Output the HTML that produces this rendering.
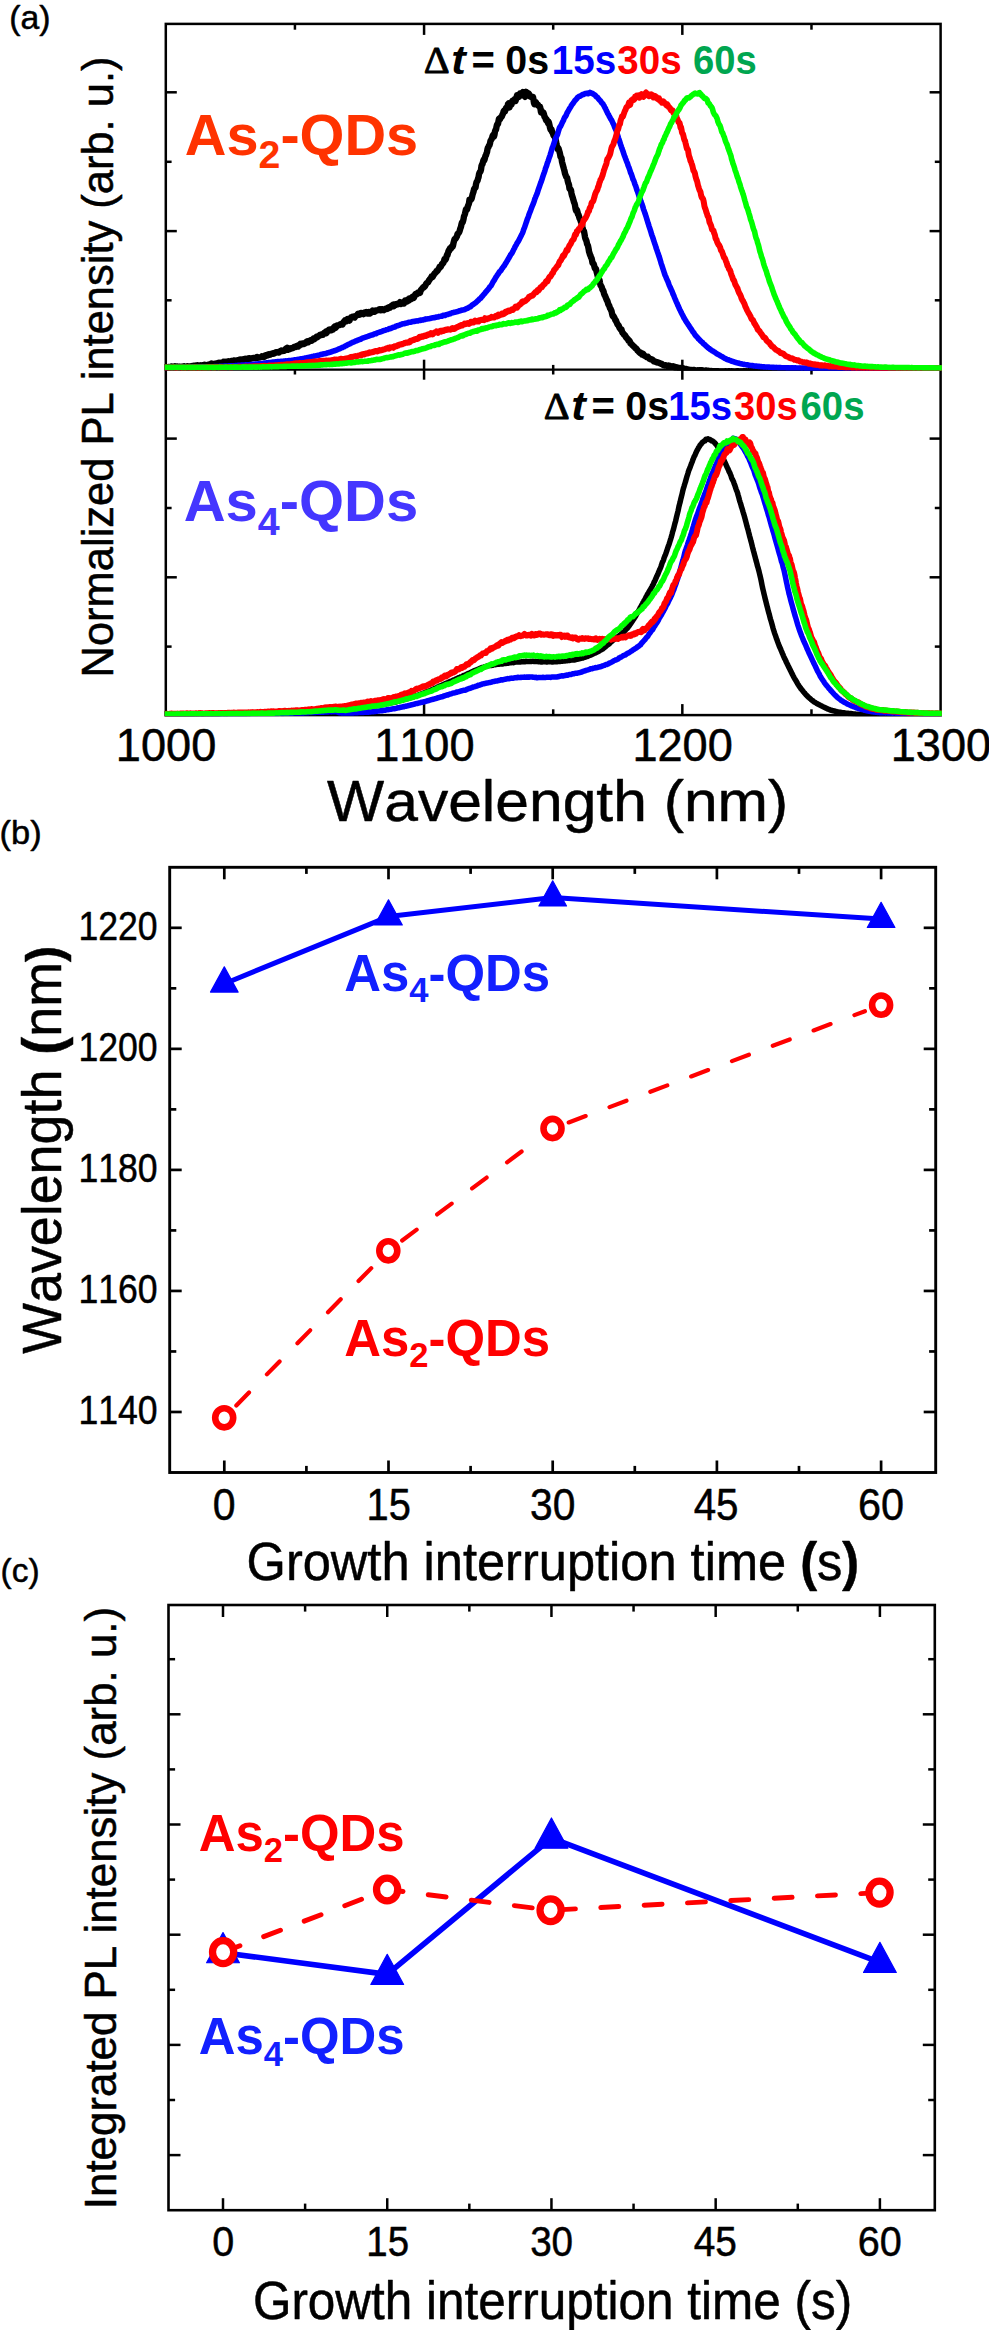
<!DOCTYPE html>
<html lang="en"><head><meta charset="utf-8"><title>PL spectra of As2- and As4-QDs</title>
<style>
html,body{margin:0;padding:0;background:#fff}
svg{display:block}
text{font-kerning:none;white-space:pre}
.r{font-family:'Liberation Sans',sans-serif;font-weight:400;font-style:normal}.b{font-family:'Liberation Sans',sans-serif;font-weight:700;font-style:normal}.bi{font-family:'Liberation Sans',sans-serif;font-weight:700;font-style:italic}.sr{font-family:'Liberation Serif',serif;font-weight:400;font-style:normal}.sb{font-family:'Liberation Serif',serif;font-weight:700;font-style:normal}
</style></head>
<body>
<svg width="989" height="2330" viewBox="0 0 989 2330">
<defs><clipPath id="ca"><rect x="164.55" y="22.65" width="777.30" height="348.15"/></clipPath><clipPath id="cb"><rect x="164.55" y="368.60" width="777.30" height="347.75"/></clipPath></defs>
<rect width="989" height="2330" fill="#fff"/>
<g id="pa">
<rect x="165.8" y="23.9" width="774.80" height="691.20" fill="none" stroke="#000" stroke-width="2.5"/>
<line x1="165.80" y1="369.70" x2="940.60" y2="369.70" stroke="#000" stroke-width="2.2" />
<line x1="294.93" y1="23.90" x2="294.93" y2="29.70" stroke="#000" stroke-width="2.5" />
<line x1="294.93" y1="364.90" x2="294.93" y2="374.50" stroke="#000" stroke-width="2.5" />
<line x1="294.93" y1="715.10" x2="294.93" y2="709.30" stroke="#000" stroke-width="2.5" />
<line x1="424.07" y1="23.90" x2="424.07" y2="34.90" stroke="#000" stroke-width="2.5" />
<line x1="424.07" y1="359.70" x2="424.07" y2="379.70" stroke="#000" stroke-width="2.5" />
<line x1="424.07" y1="715.10" x2="424.07" y2="704.10" stroke="#000" stroke-width="2.5" />
<line x1="553.20" y1="23.90" x2="553.20" y2="29.70" stroke="#000" stroke-width="2.5" />
<line x1="553.20" y1="364.90" x2="553.20" y2="374.50" stroke="#000" stroke-width="2.5" />
<line x1="553.20" y1="715.10" x2="553.20" y2="709.30" stroke="#000" stroke-width="2.5" />
<line x1="682.33" y1="23.90" x2="682.33" y2="34.90" stroke="#000" stroke-width="2.5" />
<line x1="682.33" y1="359.70" x2="682.33" y2="379.70" stroke="#000" stroke-width="2.5" />
<line x1="682.33" y1="715.10" x2="682.33" y2="704.10" stroke="#000" stroke-width="2.5" />
<line x1="811.47" y1="23.90" x2="811.47" y2="29.70" stroke="#000" stroke-width="2.5" />
<line x1="811.47" y1="364.90" x2="811.47" y2="374.50" stroke="#000" stroke-width="2.5" />
<line x1="811.47" y1="715.10" x2="811.47" y2="709.30" stroke="#000" stroke-width="2.5" />
<line x1="165.80" y1="300.30" x2="171.60" y2="300.30" stroke="#000" stroke-width="2.5" />
<line x1="940.60" y1="300.30" x2="934.80" y2="300.30" stroke="#000" stroke-width="2.5" />
<line x1="165.80" y1="231.10" x2="176.80" y2="231.10" stroke="#000" stroke-width="2.5" />
<line x1="940.60" y1="231.10" x2="929.60" y2="231.10" stroke="#000" stroke-width="2.5" />
<line x1="165.80" y1="161.80" x2="171.60" y2="161.80" stroke="#000" stroke-width="2.5" />
<line x1="940.60" y1="161.80" x2="934.80" y2="161.80" stroke="#000" stroke-width="2.5" />
<line x1="165.80" y1="92.30" x2="176.80" y2="92.30" stroke="#000" stroke-width="2.5" />
<line x1="940.60" y1="92.30" x2="929.60" y2="92.30" stroke="#000" stroke-width="2.5" />
<line x1="165.80" y1="646.60" x2="171.60" y2="646.60" stroke="#000" stroke-width="2.5" />
<line x1="940.60" y1="646.60" x2="934.80" y2="646.60" stroke="#000" stroke-width="2.5" />
<line x1="165.80" y1="577.30" x2="176.80" y2="577.30" stroke="#000" stroke-width="2.5" />
<line x1="940.60" y1="577.30" x2="929.60" y2="577.30" stroke="#000" stroke-width="2.5" />
<line x1="165.80" y1="508.00" x2="171.60" y2="508.00" stroke="#000" stroke-width="2.5" />
<line x1="940.60" y1="508.00" x2="934.80" y2="508.00" stroke="#000" stroke-width="2.5" />
<line x1="165.80" y1="438.60" x2="176.80" y2="438.60" stroke="#000" stroke-width="2.5" />
<line x1="940.60" y1="438.60" x2="929.60" y2="438.60" stroke="#000" stroke-width="2.5" />
</g>
<g clip-path="url(#ca)">
<path d="M162 367.4 162.5 367.4 163 367.3 163.5 367.1 164 367.1 164.5 367.1 165 367.4 165.5 367.6 166 367.3 166.5 367.2 167 367.4 167.5 367.4 168 367.2 168.5 367.0 169 367.2 169.5 367.3 170 366.9 170.5 366.8 171 366.6 171.5 366.5 172 366.6 172.5 366.8 173 366.8 173.5 367.1 174 367.1 174.5 366.8 175 366.3 175.5 366.7 176 366.9 176.5 366.9 177 366.5 177.5 366.6 178 366.6 178.5 366.7 179 367.0 179.5 366.7 180 366.8 180.5 367.0 181 366.7 181.5 366.7 182 366.8 182.5 366.6 183 366.4 183.5 366.7 184 366.9 184.5 366.4 185 366.7 185.5 366.6 186 366.6 186.5 367.0 187 366.8 187.5 366.2 188 366.4 188.5 366.5 189 366.4 189.5 366.5 190 366.4 190.5 366.6 191 366.6 191.5 366.2 192 366.1 192.5 366.0 193 366.0 193.5 365.7 194 365.7 194.5 366.0 195 366.3 195.5 366.2 196 365.5 196.5 365.5 197 365.7 197.5 365.2 198 365.4 198.5 365.7 199 366.0 199.5 365.8 200 365.4 200.5 365.3 201 365.4 201.5 365.7 202 365.3 202.5 365.2 203 365.3 203.5 365.1 204 364.9 204.5 364.7 205 364.9 205.5 364.9 206 365.2 206.5 365.1 207 364.9 207.5 364.9 208 364.7 208.5 364.9 209 364.7 209.5 364.5 210 364.1 210.5 364.2 211 363.6 211.5 363.4 212 363.8 212.5 363.8 213 364.2 213.5 364.5 214 363.8 214.5 363.6 215 363.8 215.5 363.8 216 363.6 216.5 363.5 217 363.7 217.5 363.5 218 363.0 218.5 363.1 219 363.1 219.5 362.8 220 362.9 220.5 362.8 221 363.1 221.5 363.0 222 362.7 222.5 362.4 223 362.3 223.5 361.7 224 361.9 224.5 362.1 225 361.7 225.5 362.0 226 361.7 226.5 362.0 227 361.8 227.5 362.0 228 361.7 228.5 361.4 229 362.0 229.5 362.1 230 361.6 230.5 361.3 231 361.1 231.5 361.0 232 361.4 232.5 361.0 233 360.9 233.5 360.6 234 360.5 234.5 360.5 235 361.0 235.5 360.9 236 360.9 236.5 360.6 237 360.2 237.5 360.2 238 360.1 238.5 360.2 239 360.0 239.5 359.8 240 359.5 240.5 359.7 241 360.3 241.5 359.7 242 359.4 242.5 359.8 243 360.0 243.5 359.2 244 359.2 244.5 359.0 245 358.7 245.5 359.3 246 359.3 246.5 359.0 247 358.8 247.5 359.0 248 358.7 248.5 358.6 249 358.2 249.5 358.3 250 358.9 250.5 358.5 251 358.5 251.5 358.3 252 358.1 252.5 358.1 253 358.3 253.5 358.0 254 357.9 254.5 358.0 255 358.3 255.5 358.1 256 357.8 256.5 357.2 257 357.0 257.5 357.7 258 357.7 258.5 357.3 259 357.4 259.5 357.5 260 357.4 260.5 357.2 261 356.9 261.5 357.0 262 356.4 262.5 356.7 263 356.7 263.5 356.8 264 357.1 264.5 356.7 265 355.5 265.5 355.2 266 355.7 266.5 355.3 267 355.5 267.5 355.5 268 354.5 268.5 354.2 269 354.8 269.5 354.9 270 354.7 270.5 354.5 271 353.9 271.5 353.6 272 353.8 272.5 353.4 273 353.2 273.5 353.7 274 353.6 274.5 353.4 275 352.8 275.5 352.5 276 352.3 276.5 352.3 277 352.4 277.5 352.2 278 352.3 278.5 352.5 279 352.6 279.5 351.6 280 351.8 280.5 351.5 281 351.1 281.5 350.5 282 350.7 282.5 351.1 283 350.8 283.5 350.6 284 350.5 284.5 350.7 285 350.0 285.5 349.0 286 349.0 286.5 348.3 287 347.9 287.5 348.9 288 349.7 288.5 349.1 289 348.3 289.5 348.4 290 349.0 290.5 348.7 291 348.4 291.5 348.2 292 348.1 292.5 348.3 293 348.0 293.5 347.5 294 347.0 294.5 347.1 295 346.9 295.5 347.0 296 346.2 296.5 346.2 297 346.0 297.5 345.7 298 346.6 298.5 346.5 299 345.6 299.5 345.6 300 344.9 300.5 343.8 301 344.4 301.5 344.5 302 344.1 302.5 343.5 303 343.5 303.5 343.7 304 343.9 304.5 343.5 305 343.2 305.5 343.3 306 342.4 306.5 341.7 307 341.4 307.5 342.4 308 342.4 308.5 342.0 309 341.6 309.5 341.1 310 340.7 310.5 340.3 311 340.0 311.5 340.1 312 340.5 312.5 339.9 313 339.1 313.5 338.5 314 338.5 314.5 339.1 315 338.6 315.5 337.9 316 337.3 316.5 336.7 317 337.0 317.5 337.2 318 336.5 318.5 336.1 319 335.9 319.5 335.5 320 334.7 320.5 334.7 321 334.6 321.5 334.9 322 334.3 322.5 334.6 323 334.7 323.5 333.6 324 333.0 324.5 333.0 325 332.6 325.5 332.0 326 332.6 326.5 333.0 327 331.8 327.5 331.0 328 330.5 328.5 330.5 329 329.7 329.5 329.6 330 330.3 330.5 329.6 331 330.1 331.5 330.2 332 329.3 332.5 329.3 333 329.4 333.5 328.2 334 327.2 334.5 326.7 335 327.3 335.5 327.9 336 327.3 336.5 325.9 337 325.4 337.5 325.5 338 325.6 338.5 325.3 339 325.2 339.5 324.9 340 324.4 340.5 324.2 341 324.1 341.5 323.8 342 324.0 342.5 324.4 343 323.5 343.5 322.4 344 321.4 344.5 321.5 345 320.3 345.5 320.3 346 321.4 346.5 321.3 347 320.2 347.5 319.1 348 319.2 348.5 319.3 349 320.0 349.5 320.5 350 319.2 350.5 317.9 351 317.4 351.5 317.7 352 317.4 352.5 316.8 353 316.8 353.5 316.5 354 317.4 354.5 317.6 355 317.0 355.5 316.1 356 316.0 356.5 315.5 357 315.1 357.5 314.6 358 313.8 358.5 313.8 359 314.7 359.5 314.5 360 314.5 360.5 314.4 361 313.0 361.5 313.1 362 313.7 362.5 313.8 363 313.6 363.5 314.0 364 313.4 364.5 312.4 365 312.5 365.5 313.5 366 313.1 366.5 312.1 367 313.4 367.5 313.6 368 313.5 368.5 312.5 369 311.9 369.5 312.1 370 313.5 370.5 312.8 371 312.8 371.5 311.8 372 311.4 372.5 310.6 373 311.2 373.5 311.7 374 311.0 374.5 311.7 375 311.4 375.5 310.4 376 310.4 376.5 310.5 377 310.6 377.5 310.2 378 309.9 378.5 310.0 379 309.5 379.5 309.3 380 310.1 380.5 310.3 381 309.3 381.5 309.5 382 309.3 382.5 309.2 383 309.9 383.5 309.7 384 310.1 384.5 309.3 385 309.3 385.5 308.9 386 308.6 386.5 309.0 387 308.8 387.5 308.8 388 308.1 388.5 307.4 389 307.6 389.5 307.8 390 307.8 390.5 306.8 391 306.4 391.5 305.8 392 306.4 392.5 305.4 393 304.8 393.5 305.7 394 306.1 394.5 304.6 395 304.1 395.5 304.2 396 304.1 396.5 304.5 397 303.9 397.5 303.8 398 304.2 398.5 303.7 399 303.7 399.5 302.9 400 302.1 400.5 302.3 401 304.0 401.5 303.3 402 303.0 402.5 302.9 403 302.8 403.5 303.0 404 303.4 404.5 301.6 405 300.5 405.5 300.5 406 300.7 406.5 301.7 407 301.6 407.5 300.2 408 299.5 408.5 300.2 409 300.4 409.5 298.5 410 299.1 410.5 298.9 411 299.2 411.5 298.1 412 297.6 412.5 296.7 413 296.9 413.5 298.1 414 297.6 414.5 296.1 415 294.9 415.5 294.0 416 294.4 416.5 294.5 417 294.1 417.5 293.4 418 292.5 418.5 292.5 419 292.6 419.5 293.1 420 292.9 420.5 291.0 421 289.8 421.5 289.5 422 288.7 422.5 288.1 423 287.8 423.5 287.1 424 287.3 424.5 286.7 425 286.1 425.5 285.2 426 284.0 426.5 283.3 427 283.1 427.5 282.6 428 282.4 428.5 281.5 429 280.2 429.5 280.0 430 278.9 430.5 278.5 431 277.9 431.5 276.6 432 277.2 432.5 277.0 433 276.2 433.5 275.3 434 274.5 434.5 273.6 435 273.3 435.5 272.8 436 272.2 436.5 271.1 437 271.2 437.5 270.8 438 269.8 438.5 269.1 439 268.5 439.5 267.0 440 267.3 440.5 267.0 441 266.2 441.5 265.3 442 263.9 442.5 263.4 443 263.3 443.5 262.5 444 261.0 444.5 259.2 445 259.7 445.5 259.8 446 258.7 446.5 256.6 447 254.7 447.5 255.0 448 253.2 448.5 250.8 449 251.1 449.5 249.4 450 248.2 450.5 248.4 451 248.6 451.5 247.0 452 246.4 452.5 246.8 453 245.5 453.5 243.0 454 241.1 454.5 239.3 455 238.8 455.5 238.8 456 238.0 456.5 237.0 457 236.2 457.5 234.1 458 233.4 458.5 233.2 459 232.4 459.5 231.5 460 229.7 460.5 227.9 461 226.7 461.5 224.2 462 222.5 462.5 222.6 463 221.2 463.5 219.2 464 216.3 464.5 215.2 465 213.7 465.5 211.4 466 209.2 466.5 209.5 467 209.6 467.5 207.9 468 205.7 468.5 204.8 469 203.3 469.5 199.7 470 200.0 470.5 200.2 471 199.5 471.5 199.0 472 197.2 472.5 194.8 473 193.3 473.5 191.8 474 189.4 474.5 188.3 475 188.3 475.5 187.4 476 184.2 476.5 182.2 477 181.4 477.5 180.7 478 178.7 478.5 177.4 479 174.3 479.5 172.8 480 171.9 480.5 171.4 481 169.7 481.5 165.9 482 164.6 482.5 164.2 483 161.8 483.5 160.0 484 160.7 484.5 159.6 485 157.6 485.5 155.7 486 155.1 486.5 153.3 487 152.2 487.5 149.1 488 147.4 488.5 146.9 489 145.4 489.5 145.0 490 143.3 490.5 140.9 491 140.1 491.5 139.1 492 138.5 492.5 136.1 493 135.1 493.5 136.0 494 136.4 494.5 134.6 495 131.3 495.5 130.0 496 129.8 496.5 126.9 497 124.7 497.5 124.6 498 123.8 498.5 121.1 499 118.7 499.5 118.4 500 119.3 500.5 117.7 501 117.0 501.5 116.8 502 116.1 502.5 114.5 503 113.7 503.5 111.8 504 110.8 504.5 110.3 505 111.3 505.5 109.7 506 107.9 506.5 107.4 507 107.4 507.5 106.9 508 104.2 508.5 103.5 509 105.0 509.5 107.4 510 105.7 510.5 103.6 511 104.1 511.5 104.5 512 101.8 512.5 100.8 513 101.8 513.5 101.2 514 100.2 514.5 99.3 515 101.2 515.5 101.1 516 99.4 516.5 97.7 517 95.3 517.5 96.7 518 96.7 518.5 97.0 519 96.8 519.5 95.0 520 93.6 520.5 94.8 521 94.2 521.5 94.0 522 93.8 522.5 93.0 523 92.0 523.5 94.9 524 95.3 524.5 96.2 525 96.8 525.5 94.2 526 91.8 526.5 92.2 527 92.7 527.5 93.9 528 94.3 528.5 93.3 529 94.8 529.5 94.6 530 96.2 530.5 96.7 531 96.8 531.5 97.3 532 97.3 532.5 97.1 533 97.0 533.5 99.7 534 103.1 534.5 104.3 535 103.9 535.5 102.9 536 102.5 536.5 104.5 537 104.2 537.5 104.3 538 104.9 538.5 105.7 539 106.2 539.5 106.8 540 106.8 540.5 109.0 541 112.2 541.5 111.3 542 111.3 542.5 113.0 543 113.6 543.5 112.8 544 114.5 544.5 116.7 545 117.3 545.5 118.3 546 120.0 546.5 119.3 547 120.0 547.5 121.4 548 123.2 548.5 121.6 549 122.9 549.5 125.1 550 127.6 550.5 129.4 551 130.3 551.5 129.4 552 131.7 552.5 132.5 553 133.5 553.5 135.4 554 135.2 554.5 135.4 555 137.8 555.5 139.0 556 141.4 556.5 144.3 557 146.6 557.5 148.9 558 148.6 558.5 148.4 559 150.3 559.5 151.9 560 153.8 560.5 156.6 561 157.3 561.5 158.1 562 161.8 562.5 163.7 563 165.6 563.5 167.4 564 169.3 564.5 171.0 565 173.5 565.5 174.8 566 176.2 566.5 177.2 567 177.5 567.5 179.9 568 182.1 568.5 183.7 569 185.0 569.5 188.6 570 189.4 570.5 189.2 571 190.4 571.5 193.4 572 195.5 572.5 196.8 573 198.7 573.5 200.2 574 202.3 574.5 203.2 575 205.2 575.5 208.4 576 210.5 576.5 209.4 577 210.2 577.5 212.0 578 214.3 578.5 214.7 579 216.4 579.5 218.3 580 219.1 580.5 220.6 581 222.1 581.5 222.6 582 224.6 582.5 227.4 583 229.7 583.5 230.8 584 231.3 584.5 234.0 585 237.1 585.5 238.9 586 239.8 586.5 241.2 587 243.7 587.5 244.7 588 245.8 588.5 248.3 589 251.6 589.5 253.1 590 254.7 590.5 255.5 591 257.3 591.5 258.0 592 260.0 592.5 263.1 593 263.5 593.5 263.6 594 265.0 594.5 267.0 595 268.7 595.5 268.7 596 269.1 596.5 271.3 597 273.3 597.5 275.2 598 277.3 598.5 278.4 599 279.5 599.5 280.1 600 282.8 600.5 285.2 601 285.9 601.5 286.6 602 288.1 602.5 290.0 603 290.0 603.5 291.4 604 293.4 604.5 294.8 605 295.5 605.5 297.0 606 298.1 606.5 299.5 607 300.5 607.5 301.3 608 303.2 608.5 304.8 609 305.2 609.5 306.6 610 308.2 610.5 308.7 611 310.0 611.5 311.0 612 313.4 612.5 315.6 613 316.3 613.5 316.1 614 317.2 614.5 318.0 615 319.2 615.5 320.4 616 320.5 616.5 322.1 617 323.1 617.5 324.5 618 324.8 618.5 325.2 619 326.6 619.5 327.8 620 328.4 620.5 329.2 621 329.3 621.5 329.6 622 331.6 622.5 332.7 623 333.1 623.5 333.8 624 334.8 624.5 334.8 625 335.2 625.5 336.3 626 337.3 626.5 337.4 627 338.6 627.5 338.7 628 339.2 628.5 340.7 629 340.8 629.5 340.8 630 341.9 630.5 343.3 631 344.0 631.5 344.0 632 344.7 632.5 345.4 633 345.5 633.5 346.2 634 346.7 634.5 346.9 635 347.4 635.5 348.2 636 348.6 636.5 348.8 637 349.5 637.5 350.5 638 350.8 638.5 351.5 639 352.0 639.5 352.4 640 353.0 640.5 352.6 641 353.1 641.5 353.5 642 354.5 642.5 354.6 643 353.7 643.5 354.2 644 355.3 644.5 355.8 645 356.1 645.5 356.1 646 356.6 646.5 356.9 647 357.2 647.5 357.4 648 357.0 648.5 357.8 649 358.1 649.5 358.8 650 358.8 650.5 358.9 651 359.4 651.5 359.4 652 359.5 652.5 359.7 653 360.4 653.5 361.0 654 361.4 654.5 361.4 655 361.7 655.5 361.7 656 361.8 656.5 362.2 657 362.5 657.5 362.3 658 362.4 658.5 362.6 659 362.8 659.5 362.9 660 363.5 660.5 363.5 661 363.7 661.5 363.7 662 364.1 662.5 364.4 663 364.6 663.5 365.2 664 365.3 664.5 365.6 665 365.5 665.5 365.2 666 365.3 666.5 365.7 667 365.8 667.5 365.8 668 365.7 668.5 365.5 669 365.8 669.5 365.7 670 366.2 670.5 366.3 671 366.3 671.5 366.6 672 366.7 672.5 366.4 673 366.3 673.5 366.5 674 366.4 674.5 366.9 675 367.5 675.5 367.3 676 367.4 676.5 367.2 677 367.5 677.5 367.6 678 367.7 678.5 368.1 679 368.4 679.5 368.2 680 368.1 680.5 368.0 681 368.3 681.5 368.4 682 368.6 682.5 368.7 683 368.9 683.5 368.4 684 368.7 684.5 369.1 685 369.0 685.5 368.9 686 369.0 686.5 369.1 687 369.6 687.5 370.2 688 370.0 688.5 369.6 689 369.6 689.5 369.9 690 370.1 690.5 369.9 691 370.0 691.5 370.3 692 370.4 692.5 370.1 693 369.9 693.5 369.9 694 369.9 694.5 369.9 695 370.3 695.5 370.3 696 370.5 696.5 370.8 697 370.6 697.5 370.3 698 370.5 698.5 370.6 699 370.2 699.5 370.2 700 370.2 700.5 370.2 701 370.5 701.5 370.1 702 370.1 702.5 370.4 703 370.5 703.5 370.6 704 370.6 704.5 370.7 705 370.7 705.5 370.4 706 370.5 706.5 370.6 707 370.8 707.5 370.8 708 370.7 708.5 370.8 709 371.0 709.5 371.0 710 371.0 710.5 371.4 711 371.4 711.5 371.0 712 371.2 712.5 371.6 713 371.4 713.5 371.3 714 371.2 714.5 371.2 715 371.2 715.5 371.2 716 371.4 716.5 371.3 717 371.2 717.5 371.2 718 371.3 718.5 371.3 719 371.4 719.5 371.5 720 371.5 720.5 371.5 721 371.5 721.5 371.4 722 371.4 722.5 371.4 723 371.4 723.5 371.4 724 371.5 724.5 371.4 725 371.3 725.5 371.3 726 371.3 726.5 371.4 727 371.4 727.5 371.5 728 371.3 728.5 371.1 729 371.1 729.5 371.1 730 371.4 730.5 371.5 731 371.5 731.5 371.2 732 371.3 732.5 371.6 733 371.5 733.5 371.5 734 371.6 734.5 371.8 735 371.7 735.5 371.5 736 371.5 736.5 371.5 737 371.3 737.5 371.3 738 371.3 738.5 371.3 739 371.4 739.5 371.5 740 371.6 740.5 371.4 741 371.3 741.5 371.4 742 371.5 742.5 371.5 743 371.4 743.5 371.2 744 371.1 744.5 371.2 745 371.4 745.5 371.4 746 371.3 746.5 371.3 747 371.4 747.5 371.4 748 371.3 748.5 371.3 749 371.1 749.5 371.3 750 371.5 750.5 371.2 751 371.3 751.5 371.4 752 371.3 752.5 371.3 753 371.4 753.5 371.4 754 371.3 754.5 371.2 755 371.3 755.5 371.3 756 371.3 756.5 371.4 757 371.5 757.5 371.5 758 371.4 758.5 371.5 759 371.6 759.5 371.6 760 371.6 760.5 371.4 761 371.4 761.5 371.4 762 371.3 762.5 371.4 763 371.3 763.5 371.3 764 371.1 764.5 371.2 765 371.4 765.5 371.5 766 371.5 766.5 371.4 767 371.3 767.5 371.3 768 371.4 768.5 371.4 769 371.5 769.5 371.6 770 371.4 770.5 371.2 771 371.2 771.5 371.1 772 371.3 772.5 371.5 773 371.4 773.5 371.3 774 371.5 774.5 371.6 775 371.4 775.5 371.3 776 371.3 776.5 371.4 777 371.5 777.5 371.6 778 371.6 778.5 371.6 779 371.6 779.5 371.5 780 371.2 780.5 371.3 781 371.4 781.5 371.4 782 371.5 782.5 371.4 783 371.3 783.5 371.6 784 371.5 784.5 371.5 785 371.6 785.5 371.6 786 371.4 786.5 371.1 787 371.2 787.5 371.3 788 371.3 788.5 371.4 789 371.5 789.5 371.3 790 371.3 790.5 371.6 791 371.4 791.5 371.2 792 371.4 792.5 371.4 793 371.4 793.5 371.4 794 371.3 794.5 371.3 795 371.4 795.5 371.5 796 371.4 796.5 371.4 797 371.5 797.5 371.7 798 371.5 798.5 371.5 799 371.4 799.5 371.4 800 371.5 800.5 371.6 801 371.6 801.5 371.5 802 371.3 802.5 371.3 803 371.5 803.5 371.5 804 371.6 804.5 371.5 805 371.6 805.5 371.6 806 371.4 806.5 371.2 807 371.1 807.5 371.2 808 371.5 808.5 371.4 809 371.5 809.5 371.6 810 371.7 810.5 371.6 811 371.4 811.5 371.4 812 371.4 812.5 371.4 813 371.3 813.5 371.4 814 371.5 814.5 371.3 815 371.3 815.5 371.3 816 371.4 816.5 371.5 817 371.5 817.5 371.4 818 371.3 818.5 371.4 819 371.4 819.5 371.5 820 371.3 820.5 371.1 821 371.2 821.5 371.5 822 371.6 822.5 371.5 823 371.4 823.5 371.3 824 371.6 824.5 371.7 825 371.5 825.5 371.3 826 371.2 826.5 371.5 827 371.8 827.5 371.6 828 371.6 828.5 371.5 829 371.4 829.5 371.5 830 371.3 830.5 371.3 831 371.5 831.5 371.5 832 371.5 832.5 371.4 833 371.3 833.5 371.2 834 371.3 834.5 371.3 835 371.2 835.5 371.2 836 371.2 836.5 371.1 837 371.1 837.5 371.2 838 371.4 838.5 371.5 839 371.6 839.5 371.3 840 371.3 840.5 371.5 841 371.4 841.5 371.4 842 371.6 842.5 371.4 843 371.2 843.5 371.2 844 371.4 844.5 371.4 845 371.2 845.5 371.3 846 371.4 846.5 371.5 847 371.4 847.5 371.5 848 371.4 848.5 371.2 849 371.3 849.5 371.4 850 371.3 850.5 371.1 851 371.3 851.5 371.5 852 371.5 852.5 371.3 853 371.6 853.5 371.4 854 371.5 854.5 371.6 855 371.6 855.5 371.4 856 371.3 856.5 371.4 857 371.2 857.5 371.2 858 371.7 858.5 371.7 859 371.6 859.5 371.4 860 371.6 860.5 371.7 861 371.6 861.5 371.4 862 371.3 862.5 371.2 863 371.1 863.5 371.1 864 371.3 864.5 371.3 865 371.3 865.5 371.5 866 371.7 866.5 371.6 867 371.5 867.5 371.5 868 371.3 868.5 371.4 869 371.4 869.5 371.3 870 371.3 870.5 371.2 871 371.4 871.5 371.6 872 371.4 872.5 371.4 873 371.3 873.5 371.2 874 371.3 874.5 371.6 875 371.8 875.5 371.5 876 371.4 876.5 371.4 877 371.4 877.5 371.5 878 371.5 878.5 371.5 879 371.5 879.5 371.3 880 371.3 880.5 371.2 881 371.2 881.5 371.2 882 371.3 882.5 371.3 883 371.4 883.5 371.4 884 371.2 884.5 371.2 885 371.3 885.5 371.5 886 371.7 886.5 371.6 887 371.4 887.5 371.5 888 371.3 888.5 371.5 889 371.3 889.5 371.2 890 371.7 890.5 371.6 891 371.3 891.5 371.4 892 371.4 892.5 371.3 893 371.2 893.5 371.3 894 371.4 894.5 371.5 895 371.6 895.5 371.5 896 371.7 896.5 371.4 897 371.3 897.5 371.1 898 371.2 898.5 371.5 899 371.4 899.5 371.4 900 371.4 900.5 371.3 901 371.3 901.5 371.3 902 371.4 902.5 371.5 903 371.5 903.5 371.3 904 371.3 904.5 371.4 905 371.4 905.5 371.6 906 371.8 906.5 371.6 907 371.4 907.5 371.3 908 371.3 908.5 371.2 909 371.2 909.5 371.3 910 371.4 910.5 371.5 911 371.4 911.5 371.3 912 371.3 912.5 371.6 913 371.6 913.5 371.7 914 371.6 914.5 371.6 915 371.5 915.5 371.6 916 371.7 916.5 371.4 917 371.6 917.5 371.7 918 371.5 918.5 371.6 919 371.6 919.5 371.4 920 371.4 920.5 371.3 921 371.3 921.5 371.3 922 371.4 922.5 371.4 923 371.4 923.5 371.3 924 371.6 924.5 371.6 925 371.5 925.5 371.4 926 371.4 926.5 371.5 927 371.4 927.5 371.2 928 371.5 928.5 371.7 929 371.3 929.5 371.5 930 371.5 930.5 371.5 931 371.5 931.5 371.3 932 371.4 932.5 371.6 933 371.4 933.5 371.3 934 371.4 934.5 371.4 935 371.5 935.5 371.4 936 371.4 936.5 371.3 937 371.4 937.5 371.3 938 371.1 938.5 371.3 939 371.3 939.5 371.4 940 371.5 940.5 371.3 941 371.3 941.5 371.5 942 371.5 942.5 371.6 943 371.5 943.5 371.3 944 371.4" fill="none" stroke="#000000" stroke-width="6.4" stroke-linejoin="round" stroke-linecap="round"/>
<path d="M162 367.6 162.5 367.5 163 367.5 163.5 367.5 164 367.5 164.5 367.5 165 367.6 165.5 367.5 166 367.4 166.5 367.5 167 367.5 167.5 367.5 168 367.5 168.5 367.4 169 367.4 169.5 367.4 170 367.4 170.5 367.5 171 367.5 171.5 367.5 172 367.5 172.5 367.5 173 367.5 173.5 367.5 174 367.5 174.5 367.4 175 367.4 175.5 367.4 176 367.4 176.5 367.4 177 367.4 177.5 367.3 178 367.4 178.5 367.4 179 367.3 179.5 367.3 180 367.3 180.5 367.4 181 367.3 181.5 367.3 182 367.3 182.5 367.3 183 367.3 183.5 367.4 184 367.3 184.5 367.3 185 367.3 185.5 367.3 186 367.3 186.5 367.3 187 367.3 187.5 367.2 188 367.2 188.5 367.2 189 367.2 189.5 367.2 190 367.2 190.5 367.2 191 367.2 191.5 367.2 192 367.2 192.5 367.1 193 367.2 193.5 367.2 194 367.2 194.5 367.1 195 367.1 195.5 367.1 196 367.1 196.5 367.1 197 367.1 197.5 367.1 198 367.1 198.5 367.0 199 367.0 199.5 367.0 200 367.0 200.5 367.0 201 367.1 201.5 367.0 202 366.9 202.5 366.9 203 367.0 203.5 367.0 204 367.0 204.5 367.0 205 367.0 205.5 367.0 206 366.9 206.5 366.9 207 366.8 207.5 366.8 208 366.8 208.5 366.8 209 366.8 209.5 366.8 210 366.8 210.5 366.8 211 366.8 211.5 366.8 212 366.7 212.5 366.7 213 366.7 213.5 366.7 214 366.7 214.5 366.6 215 366.6 215.5 366.6 216 366.6 216.5 366.6 217 366.6 217.5 366.6 218 366.6 218.5 366.5 219 366.5 219.5 366.4 220 366.3 220.5 366.3 221 366.3 221.5 366.3 222 366.3 222.5 366.3 223 366.2 223.5 366.2 224 366.2 224.5 366.1 225 366.1 225.5 366.1 226 366.0 226.5 366.0 227 366.1 227.5 366.1 228 366.0 228.5 365.9 229 365.9 229.5 365.9 230 365.9 230.5 365.8 231 365.8 231.5 365.8 232 365.7 232.5 365.8 233 365.8 233.5 365.7 234 365.7 234.5 365.7 235 365.7 235.5 365.6 236 365.6 236.5 365.6 237 365.5 237.5 365.4 238 365.4 238.5 365.4 239 365.4 239.5 365.3 240 365.3 240.5 365.3 241 365.2 241.5 365.1 242 365.1 242.5 365.2 243 365.1 243.5 365.0 244 365.0 244.5 365.0 245 365.0 245.5 364.9 246 364.8 246.5 364.9 247 364.8 247.5 364.8 248 364.7 248.5 364.7 249 364.8 249.5 364.6 250 364.6 250.5 364.5 251 364.5 251.5 364.6 252 364.5 252.5 364.4 253 364.3 253.5 364.4 254 364.4 254.5 364.3 255 364.3 255.5 364.1 256 364.1 256.5 364.0 257 363.9 257.5 364.0 258 363.9 258.5 363.9 259 363.8 259.5 363.7 260 363.7 260.5 363.7 261 363.6 261.5 363.5 262 363.5 262.5 363.4 263 363.3 263.5 363.2 264 363.2 264.5 363.1 265 363.0 265.5 363.0 266 362.9 266.5 362.9 267 362.9 267.5 362.9 268 362.8 268.5 362.6 269 362.6 269.5 362.6 270 362.6 270.5 362.5 271 362.4 271.5 362.3 272 362.3 272.5 362.2 273 362.1 273.5 362.1 274 362.1 274.5 362.0 275 361.9 275.5 361.8 276 361.8 276.5 361.8 277 361.7 277.5 361.6 278 361.6 278.5 361.6 279 361.5 279.5 361.5 280 361.5 280.5 361.4 281 361.4 281.5 361.3 282 361.3 282.5 361.3 283 361.3 283.5 361.2 284 361.1 284.5 361.1 285 361.0 285.5 360.9 286 360.9 286.5 361.0 287 360.9 287.5 360.8 288 360.9 288.5 360.7 289 360.6 289.5 360.6 290 360.5 290.5 360.6 291 360.5 291.5 360.4 292 360.3 292.5 360.3 293 360.2 293.5 360.1 294 360.1 294.5 359.9 295 359.9 295.5 359.8 296 359.8 296.5 359.7 297 359.6 297.5 359.5 298 359.4 298.5 359.3 299 359.1 299.5 359.1 300 359.0 300.5 358.9 301 358.9 301.5 358.9 302 358.8 302.5 358.7 303 358.5 303.5 358.3 304 358.3 304.5 358.2 305 358.1 305.5 358.0 306 358.0 306.5 357.9 307 357.7 307.5 357.6 308 357.5 308.5 357.4 309 357.3 309.5 357.2 310 357.1 310.5 357.0 311 356.9 311.5 356.8 312 356.6 312.5 356.5 313 356.5 313.5 356.3 314 356.1 314.5 356.0 315 356.0 315.5 356.0 316 355.8 316.5 355.7 317 355.5 317.5 355.4 318 355.4 318.5 355.3 319 355.0 319.5 355.0 320 354.8 320.5 354.6 321 354.5 321.5 354.4 322 354.2 322.5 354.2 323 354.1 323.5 353.9 324 353.8 324.5 353.8 325 353.7 325.5 353.6 326 353.5 326.5 353.2 327 353.1 327.5 353.0 328 352.8 328.5 352.7 329 352.6 329.5 352.5 330 352.3 330.5 352.1 331 351.9 331.5 351.8 332 351.5 332.5 351.4 333 351.2 333.5 351.0 334 350.9 334.5 350.7 335 350.7 335.5 350.5 336 350.2 336.5 350.0 337 349.9 337.5 349.6 338 349.3 338.5 349.1 339 349.0 339.5 348.8 340 348.6 340.5 348.4 341 348.0 341.5 347.8 342 347.6 342.5 347.5 343 347.2 343.5 346.9 344 346.8 344.5 346.6 345 346.2 345.5 345.9 346 345.6 346.5 345.5 347 345.2 347.5 344.9 348 344.7 348.5 344.4 349 344.2 349.5 344.0 350 343.8 350.5 343.4 351 343.2 351.5 343.0 352 342.7 352.5 342.4 353 342.2 353.5 342.0 354 341.9 354.5 341.6 355 341.4 355.5 341.2 356 340.9 356.5 340.6 357 340.6 357.5 340.4 358 340.1 358.5 340.0 359 339.8 359.5 339.4 360 339.3 360.5 339.3 361 339.1 361.5 338.7 362 338.4 362.5 338.2 363 338.0 363.5 337.8 364 337.7 364.5 337.4 365 337.3 365.5 337.2 366 337.0 366.5 336.8 367 336.7 367.5 336.5 368 336.3 368.5 336.1 369 335.9 369.5 335.9 370 335.6 370.5 335.3 371 335.2 371.5 335.1 372 335.0 372.5 334.9 373 334.7 373.5 334.3 374 334.1 374.5 333.9 375 333.8 375.5 333.7 376 333.7 376.5 333.3 377 332.9 377.5 332.8 378 332.7 378.5 332.4 379 332.3 379.5 332.2 380 332.1 380.5 331.8 381 331.6 381.5 331.6 382 331.3 382.5 331.1 383 330.8 383.5 330.7 384 330.6 384.5 330.3 385 330.3 385.5 330.2 386 329.9 386.5 329.7 387 329.5 387.5 329.5 388 329.4 388.5 329.1 389 328.7 389.5 328.6 390 328.7 390.5 328.6 391 328.3 391.5 328.1 392 327.8 392.5 327.6 393 327.5 393.5 327.3 394 327.0 394.5 327.0 395 326.9 395.5 326.4 396 326.2 396.5 326.1 397 325.8 397.5 325.5 398 325.6 398.5 325.4 399 325.3 399.5 325.2 400 324.9 400.5 324.6 401 324.5 401.5 324.2 402 324.1 402.5 324.0 403 323.8 403.5 323.7 404 323.8 404.5 323.6 405 323.5 405.5 323.3 406 323.2 406.5 323.1 407 323.0 407.5 322.9 408 322.6 408.5 322.4 409 322.3 409.5 322.3 410 322.3 410.5 322.3 411 322.0 411.5 321.9 412 321.8 412.5 321.6 413 321.5 413.5 321.5 414 321.3 414.5 321.4 415 321.3 415.5 321.1 416 321.0 416.5 320.9 417 321.0 417.5 320.8 418 320.9 418.5 320.7 419 320.5 419.5 320.3 420 320.5 420.5 320.4 421 320.1 421.5 320.0 422 320.1 422.5 320.0 423 320.0 423.5 319.7 424 319.5 424.5 319.4 425 319.5 425.5 319.2 426 318.9 426.5 319.0 427 319.0 427.5 319.0 428 318.8 428.5 318.7 429 318.7 429.5 318.7 430 318.4 430.5 318.4 431 318.2 431.5 318.1 432 318.0 432.5 317.9 433 317.7 433.5 317.7 434 317.5 434.5 317.6 435 317.6 435.5 317.3 436 317.1 436.5 317.1 437 317.1 437.5 317.0 438 316.9 438.5 316.8 439 316.6 439.5 316.5 440 316.3 440.5 316.3 441 316.2 441.5 316.1 442 316.1 442.5 315.9 443 315.4 443.5 315.4 444 315.3 444.5 315.5 445 315.5 445.5 315.1 446 314.9 446.5 314.7 447 314.6 447.5 314.5 448 314.4 448.5 314.1 449 314.0 449.5 313.7 450 313.6 450.5 313.6 451 313.4 451.5 313.0 452 312.8 452.5 312.7 453 312.7 453.5 312.6 454 312.3 454.5 312.2 455 312.2 455.5 312.0 456 311.9 456.5 311.8 457 311.7 457.5 311.5 458 311.4 458.5 311.3 459 310.9 459.5 311.0 460 310.8 460.5 310.6 461 310.4 461.5 310.2 462 310.1 462.5 310.1 463 310.0 463.5 309.8 464 309.8 464.5 309.6 465 309.3 465.5 309.1 466 308.8 466.5 308.6 467 308.4 467.5 308.3 468 308.0 468.5 307.6 469 307.3 469.5 307.0 470 306.8 470.5 306.7 471 306.2 471.5 305.7 472 305.1 472.5 304.8 473 304.5 473.5 304.3 474 303.9 474.5 303.5 475 303.1 475.5 302.8 476 302.5 476.5 301.9 477 301.4 477.5 301.0 478 300.7 478.5 300.1 479 299.5 479.5 299.0 480 298.5 480.5 298.3 481 298.0 481.5 297.1 482 296.6 482.5 296.0 483 295.3 483.5 294.7 484 294.2 484.5 293.6 485 293.2 485.5 292.3 486 291.8 486.5 291.3 487 290.6 487.5 290.0 488 289.5 488.5 288.8 489 288.2 489.5 287.4 490 286.6 490.5 286.3 491 285.8 491.5 284.9 492 284.0 492.5 282.9 493 282.1 493.5 281.3 494 280.5 494.5 279.8 495 278.8 495.5 277.9 496 277.0 496.5 276.3 497 275.6 497.5 274.8 498 274.1 498.5 273.6 499 272.6 499.5 271.8 500 271.3 500.5 271.0 501 270.4 501.5 269.5 502 268.6 502.5 267.9 503 267.4 503.5 266.5 504 266.0 504.5 265.3 505 264.4 505.5 263.6 506 262.9 506.5 262.1 507 261.1 507.5 260.4 508 259.4 508.5 258.5 509 257.8 509.5 256.9 510 255.9 510.5 254.9 511 254.3 511.5 253.8 512 253.0 512.5 252.0 513 251.0 513.5 249.9 514 249.0 514.5 248.1 515 246.9 515.5 246.0 516 245.2 516.5 244.3 517 243.3 517.5 242.5 518 241.7 518.5 240.9 519 239.9 519.5 238.9 520 238.0 520.5 236.9 521 235.9 521.5 234.9 522 234.0 522.5 233.0 523 231.7 523.5 230.1 524 228.8 524.5 227.5 525 226.1 525.5 224.6 526 223.1 526.5 221.8 527 220.2 527.5 218.7 528 217.6 528.5 216.2 529 214.6 529.5 213.3 530 212.0 530.5 210.8 531 209.4 531.5 208.0 532 206.7 532.5 205.5 533 204.3 533.5 203.1 534 201.7 534.5 200.1 535 198.4 535.5 197.4 536 196.0 536.5 195.0 537 193.8 537.5 192.3 538 190.7 538.5 189.2 539 187.8 539.5 186.3 540 184.8 540.5 183.4 541 182.2 541.5 180.8 542 179.3 542.5 177.7 543 176.2 543.5 174.7 544 173.3 544.5 171.9 545 170.3 545.5 168.5 546 167.1 546.5 166.0 547 164.2 547.5 162.7 548 161.5 548.5 160.0 549 158.3 549.5 156.8 550 155.6 550.5 153.9 551 152.2 551.5 150.5 552 148.7 552.5 147.3 553 146.2 553.5 144.8 554 143.2 554.5 141.6 555 140.1 555.5 138.9 556 137.5 556.5 136.5 557 135.5 557.5 134.4 558 132.7 558.5 130.9 559 129.3 559.5 127.7 560 127.0 560.5 126.3 561 125.4 561.5 124.3 562 123.2 562.5 122.1 563 121.2 563.5 120.2 564 118.8 564.5 117.7 565 116.8 565.5 116.4 566 115.6 566.5 114.4 567 113.1 567.5 112.3 568 111.4 568.5 110.5 569 109.6 569.5 108.8 570 107.9 570.5 107.2 571 106.3 571.5 105.3 572 104.6 572.5 103.9 573 103.4 573.5 102.6 574 102.0 574.5 101.1 575 100.4 575.5 100.1 576 99.4 576.5 99.0 577 98.4 577.5 97.5 578 97.1 578.5 96.9 579 96.5 579.5 96.2 580 96.2 580.5 95.8 581 95.6 581.5 95.2 582 95.0 582.5 94.6 583 94.5 583.5 94.5 584 94.2 584.5 93.8 585 93.6 585.5 93.7 586 93.6 586.5 93.3 587 93.2 587.5 93.5 588 93.7 588.5 93.2 589 93.0 589.5 92.8 590 92.4 590.5 92.7 591 93.0 591.5 93.4 592 93.4 592.5 93.4 593 93.8 593.5 94.2 594 94.5 594.5 94.8 595 95.0 595.5 95.6 596 96.4 596.5 97.0 597 97.2 597.5 97.5 598 98.2 598.5 98.9 599 99.5 599.5 100.0 600 100.4 600.5 101.0 601 101.7 601.5 102.5 602 103.1 602.5 103.5 603 104.0 603.5 104.9 604 105.7 604.5 106.9 605 107.8 605.5 108.5 606 109.8 606.5 110.9 607 111.8 607.5 113.1 608 114.0 608.5 114.5 609 115.7 609.5 116.7 610 117.6 610.5 118.6 611 119.3 611.5 120.1 612 121.1 612.5 122.2 613 123.3 613.5 124.2 614 125.4 614.5 126.9 615 128.1 615.5 129.2 616 130.2 616.5 131.7 617 133.3 617.5 134.8 618 136.4 618.5 138.1 619 139.5 619.5 141.0 620 142.6 620.5 144.2 621 145.6 621.5 147.2 622 148.6 622.5 149.9 623 151.3 623.5 152.8 624 154.3 624.5 155.7 625 157.0 625.5 158.4 626 159.7 626.5 161.2 627 162.3 627.5 163.4 628 165.2 628.5 166.5 629 167.7 629.5 169.1 630 170.6 630.5 172.4 631 173.6 631.5 174.6 632 176.2 632.5 177.7 633 179.3 633.5 180.2 634 181.3 634.5 183.0 635 184.5 635.5 185.7 636 186.9 636.5 188.7 637 190.3 637.5 191.3 638 192.9 638.5 194.4 639 196.1 639.5 197.3 640 198.6 640.5 200.2 641 201.6 641.5 202.9 642 204.5 642.5 205.8 643 207.2 643.5 209.2 644 210.5 644.5 211.9 645 213.5 645.5 214.8 646 216.3 646.5 218.0 647 219.6 647.5 221.3 648 223.0 648.5 224.4 649 226.1 649.5 227.6 650 229.0 650.5 230.6 651 232.2 651.5 234.0 652 235.5 652.5 236.8 653 238.2 653.5 239.8 654 241.3 654.5 243.0 655 244.4 655.5 245.8 656 247.5 656.5 249.0 657 250.3 657.5 251.9 658 253.3 658.5 254.7 659 256.3 659.5 257.7 660 259.3 660.5 261.0 661 262.8 661.5 264.4 662 265.8 662.5 267.5 663 268.9 663.5 270.4 664 272.0 664.5 273.5 665 275.0 665.5 276.1 666 277.2 666.5 278.6 667 279.7 667.5 280.8 668 281.7 668.5 283.3 669 284.6 669.5 285.8 670 286.9 670.5 288.1 671 289.1 671.5 290.3 672 291.3 672.5 292.6 673 294.0 673.5 295.1 674 296.1 674.5 297.5 675 298.7 675.5 299.8 676 301.1 676.5 302.2 677 303.2 677.5 304.4 678 305.7 678.5 306.6 679 307.8 679.5 309.0 680 310.0 680.5 310.9 681 311.9 681.5 313.1 682 314.1 682.5 314.9 683 315.8 683.5 317.0 684 318.0 684.5 318.7 685 319.5 685.5 320.4 686 321.3 686.5 322.1 687 322.7 687.5 323.5 688 324.3 688.5 325.0 689 325.8 689.5 326.6 690 327.3 690.5 328.1 691 328.7 691.5 329.5 692 330.4 692.5 331.1 693 331.9 693.5 332.4 694 333.0 694.5 333.9 695 334.7 695.5 335.5 696 336.0 696.5 336.4 697 337.1 697.5 337.5 698 338.1 698.5 338.9 699 339.3 699.5 339.8 700 340.3 700.5 340.9 701 341.3 701.5 341.8 702 342.1 702.5 342.5 703 343.2 703.5 343.7 704 344.1 704.5 344.5 705 345.0 705.5 345.4 706 346.0 706.5 346.4 707 346.8 707.5 347.3 708 347.7 708.5 348.1 709 348.5 709.5 348.7 710 349.2 710.5 349.7 711 349.9 711.5 350.2 712 350.6 712.5 351.0 713 351.2 713.5 351.4 714 351.8 714.5 352.0 715 352.4 715.5 352.8 716 353.1 716.5 353.5 717 354.0 717.5 354.2 718 354.4 718.5 354.6 719 354.9 719.5 355.2 720 355.5 720.5 355.8 721 356.1 721.5 356.4 722 356.7 722.5 356.9 723 357.2 723.5 357.6 724 357.9 724.5 358.2 725 358.5 725.5 358.7 726 358.9 726.5 359.1 727 359.5 727.5 359.7 728 359.7 728.5 359.9 729 360.1 729.5 360.2 730 360.5 730.5 360.7 731 360.9 731.5 361.1 732 361.3 732.5 361.4 733 361.6 733.5 361.7 734 361.9 734.5 362.0 735 362.2 735.5 362.4 736 362.5 736.5 362.7 737 362.8 737.5 362.9 738 363.0 738.5 363.1 739 363.3 739.5 363.4 740 363.5 740.5 363.7 741 363.7 741.5 363.9 742 364.0 742.5 364.1 743 364.1 743.5 364.3 744 364.4 744.5 364.4 745 364.5 745.5 364.5 746 364.7 746.5 364.8 747 364.9 747.5 364.9 748 365.1 748.5 365.2 749 365.2 749.5 365.3 750 365.4 750.5 365.5 751 365.5 751.5 365.5 752 365.6 752.5 365.6 753 365.7 753.5 365.8 754 365.9 754.5 366.0 755 366.0 755.5 366.1 756 366.1 756.5 366.1 757 366.2 757.5 366.2 758 366.3 758.5 366.4 759 366.4 759.5 366.4 760 366.5 760.5 366.6 761 366.6 761.5 366.7 762 366.7 762.5 366.7 763 366.8 763.5 366.9 764 366.9 764.5 366.9 765 367.0 765.5 367.0 766 367.0 766.5 367.1 767 367.0 767.5 367.0 768 367.1 768.5 367.1 769 367.1 769.5 367.2 770 367.2 770.5 367.2 771 367.2 771.5 367.3 772 367.3 772.5 367.4 773 367.3 773.5 367.4 774 367.4 774.5 367.5 775 367.4 775.5 367.5 776 367.5 776.5 367.4 777 367.5 777.5 367.6 778 367.6 778.5 367.6 779 367.6 779.5 367.7 780 367.7 780.5 367.6 781 367.7 781.5 367.7 782 367.7 782.5 367.7 783 367.8 783.5 367.8 784 367.7 784.5 367.7 785 367.7 785.5 367.8 786 367.8 786.5 367.9 787 367.8 787.5 367.8 788 367.9 788.5 367.8 789 367.9 789.5 367.9 790 368.0 790.5 367.9 791 367.9 791.5 367.9 792 367.9 792.5 367.9 793 367.9 793.5 367.9 794 368.0 794.5 367.9 795 367.9 795.5 367.9 796 367.9 796.5 368.0 797 368.0 797.5 368.0 798 368.0 798.5 368.0 799 368.0 799.5 368.0 800 367.9 800.5 368.0 801 368.1 801.5 368.1 802 368.1 802.5 368.1 803 368.0 803.5 368.0 804 368.0 804.5 368.1 805 368.1 805.5 368.1 806 368.1 806.5 368.1 807 368.1 807.5 368.1 808 368.1 808.5 368.1 809 368.1 809.5 368.2 810 368.2 810.5 368.1 811 368.1 811.5 368.1 812 368.1 812.5 368.1 813 368.1 813.5 368.1 814 368.1 814.5 368.1 815 368.1 815.5 368.2 816 368.2 816.5 368.2 817 368.2 817.5 368.2 818 368.2 818.5 368.2 819 368.2 819.5 368.2 820 368.2 820.5 368.2 821 368.2 821.5 368.2 822 368.2 822.5 368.2 823 368.2 823.5 368.2 824 368.2 824.5 368.2 825 368.2 825.5 368.2 826 368.2 826.5 368.2 827 368.2 827.5 368.3 828 368.2 828.5 368.3 829 368.3 829.5 368.3 830 368.3 830.5 368.3 831 368.2 831.5 368.3 832 368.2 832.5 368.3 833 368.3 833.5 368.2 834 368.3 834.5 368.3 835 368.3 835.5 368.3 836 368.3 836.5 368.2 837 368.3 837.5 368.3 838 368.3 838.5 368.3 839 368.3 839.5 368.3 840 368.3 840.5 368.3 841 368.3 841.5 368.3 842 368.3 842.5 368.3 843 368.3 843.5 368.3 844 368.3 844.5 368.4 845 368.3 845.5 368.3 846 368.3 846.5 368.3 847 368.3 847.5 368.3 848 368.3 848.5 368.3 849 368.3 849.5 368.3 850 368.3 850.5 368.3 851 368.3 851.5 368.3 852 368.3 852.5 368.3 853 368.3 853.5 368.3 854 368.3 854.5 368.3 855 368.3 855.5 368.3 856 368.3 856.5 368.3 857 368.3 857.5 368.3 858 368.3 858.5 368.3 859 368.3 859.5 368.3 860 368.3 860.5 368.3 861 368.3 861.5 368.3 862 368.3 862.5 368.3 863 368.3 863.5 368.3 864 368.3 864.5 368.3 865 368.3 865.5 368.3 866 368.3 866.5 368.3 867 368.3 867.5 368.3 868 368.3 868.5 368.3 869 368.3 869.5 368.2 870 368.2 870.5 368.2 871 368.3 871.5 368.3 872 368.3 872.5 368.3 873 368.3 873.5 368.3 874 368.3 874.5 368.3 875 368.3 875.5 368.3 876 368.3 876.5 368.3 877 368.3 877.5 368.3 878 368.3 878.5 368.3 879 368.3 879.5 368.3 880 368.3 880.5 368.3 881 368.3 881.5 368.3 882 368.3 882.5 368.3 883 368.3 883.5 368.3 884 368.3 884.5 368.3 885 368.3 885.5 368.3 886 368.3 886.5 368.3 887 368.3 887.5 368.3 888 368.3 888.5 368.3 889 368.3 889.5 368.3 890 368.3 890.5 368.3 891 368.3 891.5 368.3 892 368.3 892.5 368.4 893 368.3 893.5 368.3 894 368.3 894.5 368.3 895 368.3 895.5 368.3 896 368.3 896.5 368.3 897 368.3 897.5 368.3 898 368.3 898.5 368.3 899 368.3 899.5 368.3 900 368.3 900.5 368.3 901 368.3 901.5 368.3 902 368.3 902.5 368.3 903 368.3 903.5 368.3 904 368.3 904.5 368.3 905 368.3 905.5 368.3 906 368.3 906.5 368.3 907 368.3 907.5 368.3 908 368.3 908.5 368.3 909 368.3 909.5 368.3 910 368.3 910.5 368.3 911 368.3 911.5 368.3 912 368.3 912.5 368.3 913 368.3 913.5 368.3 914 368.3 914.5 368.3 915 368.3 915.5 368.3 916 368.3 916.5 368.3 917 368.3 917.5 368.3 918 368.3 918.5 368.3 919 368.3 919.5 368.3 920 368.3 920.5 368.3 921 368.3 921.5 368.3 922 368.3 922.5 368.4 923 368.4 923.5 368.3 924 368.3 924.5 368.2 925 368.3 925.5 368.3 926 368.3 926.5 368.3 927 368.3 927.5 368.3 928 368.3 928.5 368.2 929 368.3 929.5 368.3 930 368.3 930.5 368.3 931 368.3 931.5 368.3 932 368.3 932.5 368.3 933 368.3 933.5 368.3 934 368.3 934.5 368.3 935 368.3 935.5 368.3 936 368.3 936.5 368.3 937 368.3 937.5 368.3 938 368.3 938.5 368.3 939 368.3 939.5 368.3 940 368.3 940.5 368.3 941 368.3 941.5 368.3 942 368.3 942.5 368.3 943 368.3 943.5 368.3 944 368.3" fill="none" stroke="#0000ff" stroke-width="5.6" stroke-linejoin="round" stroke-linecap="round"/>
<path d="M162 367.4 162.5 367.6 163 367.7 163.5 367.8 164 367.5 164.5 367.5 165 367.6 165.5 367.4 166 367.3 166.5 367.3 167 367.5 167.5 367.5 168 367.5 168.5 367.6 169 367.7 169.5 367.6 170 367.5 170.5 367.5 171 367.6 171.5 367.6 172 367.5 172.5 367.5 173 367.4 173.5 367.3 174 367.3 174.5 367.5 175 367.6 175.5 367.7 176 367.6 176.5 367.6 177 367.7 177.5 367.6 178 367.4 178.5 367.4 179 367.4 179.5 367.4 180 367.5 180.5 367.6 181 367.5 181.5 367.7 182 367.5 182.5 367.4 183 367.4 183.5 367.4 184 367.5 184.5 367.5 185 367.7 185.5 367.6 186 367.5 186.5 367.4 187 367.2 187.5 367.3 188 367.4 188.5 367.5 189 367.5 189.5 367.6 190 367.6 190.5 367.6 191 367.5 191.5 367.5 192 367.5 192.5 367.5 193 367.4 193.5 367.5 194 367.7 194.5 367.5 195 367.3 195.5 367.2 196 367.2 196.5 367.5 197 367.4 197.5 367.5 198 367.7 198.5 367.7 199 367.4 199.5 367.5 200 367.5 200.5 367.4 201 367.4 201.5 367.4 202 367.6 202.5 367.5 203 367.4 203.5 367.5 204 367.5 204.5 367.4 205 367.4 205.5 367.6 206 367.4 206.5 367.3 207 367.2 207.5 367.2 208 367.1 208.5 367.3 209 367.2 209.5 367.0 210 367.2 210.5 367.4 211 367.3 211.5 367.2 212 367.3 212.5 367.2 213 367.0 213.5 367.0 214 367.2 214.5 367.4 215 367.4 215.5 367.2 216 367.0 216.5 367.0 217 367.1 217.5 367.1 218 367.0 218.5 367.2 219 367.3 219.5 367.2 220 367.2 220.5 367.0 221 366.9 221.5 367.1 222 367.3 222.5 367.3 223 367.2 223.5 367.3 224 367.2 224.5 367.3 225 367.2 225.5 367.1 226 367.2 226.5 367.0 227 366.9 227.5 366.9 228 367.1 228.5 367.1 229 367.0 229.5 367.1 230 367.2 230.5 367.0 231 367.0 231.5 367.2 232 367.3 232.5 367.1 233 366.8 233.5 366.9 234 367.1 234.5 367.1 235 367.1 235.5 366.9 236 367.0 236.5 367.0 237 367.1 237.5 367.1 238 367.1 238.5 366.8 239 366.7 239.5 366.7 240 366.7 240.5 366.8 241 367.1 241.5 367.1 242 366.9 242.5 366.7 243 366.7 243.5 366.8 244 367.0 244.5 366.9 245 366.8 245.5 366.6 246 366.4 246.5 366.5 247 366.5 247.5 366.7 248 366.7 248.5 366.5 249 366.6 249.5 366.8 250 366.5 250.5 366.4 251 366.5 251.5 366.4 252 366.5 252.5 366.6 253 366.7 253.5 366.3 254 366.4 254.5 366.4 255 366.4 255.5 366.3 256 366.4 256.5 366.5 257 366.3 257.5 366.3 258 366.3 258.5 366.3 259 366.3 259.5 366.4 260 366.3 260.5 366.2 261 366.1 261.5 365.9 262 365.9 262.5 365.9 263 366.0 263.5 365.9 264 365.8 264.5 366.0 265 366.0 265.5 365.8 266 366.1 266.5 366.0 267 365.9 267.5 366.0 268 365.8 268.5 365.8 269 366.0 269.5 365.6 270 365.6 270.5 365.7 271 365.5 271.5 365.5 272 365.7 272.5 365.9 273 365.5 273.5 365.4 274 365.5 274.5 365.4 275 365.2 275.5 365.3 276 365.3 276.5 365.4 277 365.5 277.5 365.4 278 365.3 278.5 365.1 279 364.9 279.5 365.0 280 365.0 280.5 364.9 281 364.9 281.5 364.8 282 365.2 282.5 365.2 283 364.9 283.5 364.8 284 364.7 284.5 364.9 285 364.8 285.5 364.6 286 364.5 286.5 364.4 287 364.3 287.5 364.4 288 364.3 288.5 364.4 289 364.4 289.5 364.4 290 364.3 290.5 364.3 291 364.0 291.5 364.1 292 364.0 292.5 364.0 293 364.0 293.5 363.9 294 363.5 294.5 363.6 295 363.6 295.5 363.7 296 363.3 296.5 363.2 297 363.3 297.5 363.6 298 363.3 298.5 363.3 299 363.2 299.5 362.9 300 363.1 300.5 363.3 301 363.2 301.5 363.3 302 363.1 302.5 363.0 303 362.9 303.5 363.1 304 363.3 304.5 363.0 305 362.8 305.5 362.6 306 362.6 306.5 362.8 307 362.4 307.5 362.3 308 362.4 308.5 362.5 309 362.6 309.5 362.0 310 362.2 310.5 362.3 311 362.0 311.5 361.9 312 362.2 312.5 362.3 313 361.8 313.5 361.6 314 362.0 314.5 362.1 315 361.6 315.5 361.3 316 361.8 316.5 361.7 317 361.7 317.5 361.5 318 361.3 318.5 361.4 319 361.7 319.5 361.5 320 360.8 320.5 361.0 321 361.4 321.5 361.0 322 360.7 322.5 360.9 323 360.9 323.5 360.8 324 360.7 324.5 360.7 325 360.7 325.5 360.7 326 360.5 326.5 360.5 327 360.6 327.5 360.8 328 360.6 328.5 360.5 329 360.5 329.5 360.5 330 360.6 330.5 360.5 331 360.7 331.5 360.5 332 360.1 332.5 360.0 333 360.2 333.5 360.1 334 359.8 334.5 359.5 335 359.4 335.5 359.8 336 360.0 336.5 359.9 337 359.6 337.5 359.7 338 359.6 338.5 359.6 339 359.6 339.5 359.3 340 359.1 340.5 358.8 341 358.8 341.5 358.8 342 359.2 342.5 359.2 343 359.3 343.5 359.1 344 358.8 344.5 358.8 345 358.7 345.5 358.8 346 358.6 346.5 358.2 347 358.3 347.5 358.2 348 358.1 348.5 358.3 349 358.3 349.5 357.8 350 357.4 350.5 357.0 351 357.2 351.5 357.0 352 356.7 352.5 357.0 353 357.0 353.5 356.7 354 356.5 354.5 356.4 355 356.5 355.5 356.1 356 356.2 356.5 356.6 357 356.2 357.5 356.0 358 355.7 358.5 355.4 359 355.5 359.5 355.4 360 355.1 360.5 355.3 361 355.4 361.5 355.1 362 354.4 362.5 354.2 363 354.1 363.5 354.6 364 354.6 364.5 354.3 365 353.8 365.5 353.5 366 353.7 366.5 353.6 367 353.3 367.5 353.4 368 353.5 368.5 353.2 369 352.6 369.5 352.3 370 352.6 370.5 352.7 371 352.4 371.5 352.2 372 352.1 372.5 352.3 373 352.1 373.5 351.9 374 351.5 374.5 351.4 375 351.5 375.5 351.1 376 350.9 376.5 351.1 377 351.4 377.5 351.2 378 351.2 378.5 350.7 379 350.3 379.5 350.0 380 350.1 380.5 350.5 381 350.3 381.5 350.2 382 350.1 382.5 349.7 383 349.5 383.5 349.5 384 349.5 384.5 349.4 385 349.2 385.5 348.9 386 348.6 386.5 348.4 387 348.4 387.5 348.4 388 347.8 388.5 348.1 389 348.6 389.5 347.9 390 347.4 390.5 347.6 391 347.8 391.5 347.5 392 347.4 392.5 347.1 393 347.2 393.5 347.7 394 346.9 394.5 346.3 395 346.3 395.5 346.4 396 346.4 396.5 346.3 397 345.8 397.5 345.4 398 345.6 398.5 345.4 399 345.0 399.5 344.6 400 344.6 400.5 344.6 401 344.5 401.5 344.1 402 344.3 402.5 344.2 403 343.7 403.5 343.5 404 343.5 404.5 343.5 405 342.7 405.5 342.7 406 342.5 406.5 342.6 407 342.8 407.5 342.4 408 342.2 408.5 342.0 409 342.5 409.5 342.3 410 341.8 410.5 340.8 411 340.7 411.5 341.0 412 340.6 412.5 340.3 413 340.1 413.5 339.7 414 339.9 414.5 339.7 415 339.4 415.5 339.0 416 339.0 416.5 338.7 417 338.9 417.5 339.0 418 338.7 418.5 338.3 419 337.8 419.5 336.9 420 337.4 420.5 337.3 421 337.1 421.5 336.7 422 336.2 422.5 336.3 423 336.7 423.5 336.6 424 335.9 424.5 335.6 425 335.9 425.5 335.6 426 335.9 426.5 335.3 427 334.8 427.5 335.2 428 335.2 428.5 334.4 429 334.7 429.5 334.4 430 334.5 430.5 333.8 431 333.2 431.5 333.7 432 334.1 432.5 334.4 433 334.1 433.5 333.5 434 332.9 434.5 332.6 435 332.4 435.5 332.2 436 332.0 436.5 331.4 437 332.0 437.5 332.4 438 332.9 438.5 332.3 439 331.7 439.5 331.6 440 331.0 440.5 330.8 441 330.7 441.5 331.5 442 331.2 442.5 330.5 443 330.7 443.5 331.0 444 330.8 444.5 330.5 445 329.9 445.5 329.8 446 330.1 446.5 330.1 447 329.5 447.5 329.3 448 329.7 448.5 329.3 449 329.6 449.5 329.5 450 329.6 450.5 329.7 451 329.4 451.5 328.9 452 328.2 452.5 328.1 453 328.6 453.5 329.0 454 329.0 454.5 328.9 455 328.2 455.5 327.8 456 327.8 456.5 327.4 457 327.0 457.5 326.7 458 326.9 458.5 326.4 459 326.3 459.5 325.9 460 326.1 460.5 325.7 461 325.7 461.5 325.0 462 325.1 462.5 325.4 463 324.8 463.5 324.7 464 324.2 464.5 323.6 465 324.2 465.5 324.2 466 323.7 466.5 323.8 467 323.4 467.5 323.1 468 323.2 468.5 323.3 469 323.8 469.5 322.9 470 323.1 470.5 323.0 471 321.8 471.5 321.7 472 322.4 472.5 322.3 473 322.4 473.5 322.5 474 321.8 474.5 321.1 475 320.6 475.5 321.2 476 321.2 476.5 321.4 477 321.2 477.5 320.9 478 321.6 478.5 321.6 479 321.1 479.5 320.3 480 320.2 480.5 320.1 481 319.9 481.5 319.8 482 320.1 482.5 320.1 483 319.9 483.5 319.7 484 320.1 484.5 319.4 485 318.2 485.5 318.6 486 319.2 486.5 319.3 487 318.9 487.5 318.5 488 318.4 488.5 318.6 489 318.2 489.5 317.9 490 317.8 490.5 318.0 491 317.5 491.5 317.0 492 317.5 492.5 317.2 493 317.3 493.5 317.4 494 317.6 494.5 317.3 495 316.5 495.5 316.1 496 315.9 496.5 316.6 497 316.5 497.5 316.3 498 315.3 498.5 314.7 499 315.6 499.5 315.3 500 314.9 500.5 314.8 501 314.8 501.5 314.3 502 313.6 502.5 314.0 503 313.5 503.5 313.4 504 314.0 504.5 313.6 505 312.5 505.5 311.8 506 312.3 506.5 312.4 507 311.8 507.5 311.0 508 310.8 508.5 310.6 509 311.0 509.5 311.2 510 310.9 510.5 310.1 511 310.0 511.5 309.9 512 309.3 512.5 309.3 513 309.8 513.5 309.1 514 308.7 514.5 308.0 515 307.5 515.5 306.7 516 307.1 516.5 307.7 517 307.8 517.5 307.1 518 306.4 518.5 305.6 519 304.9 519.5 304.8 520 304.6 520.5 304.0 521 303.9 521.5 302.8 522 301.9 522.5 301.7 523 301.2 523.5 301.2 524 301.7 524.5 301.2 525 300.9 525.5 301.0 526 300.5 526.5 299.6 527 299.6 527.5 299.0 528 298.4 528.5 297.8 529 296.8 529.5 296.5 530 296.6 530.5 296.5 531 295.8 531.5 295.5 532 295.8 532.5 295.6 533 295.1 533.5 294.6 534 293.5 534.5 293.0 535 292.8 535.5 292.1 536 291.8 536.5 292.1 537 291.0 537.5 290.1 538 290.5 538.5 290.6 539 289.7 539.5 289.3 540 288.2 540.5 287.4 541 286.9 541.5 286.9 542 287.0 542.5 285.8 543 285.7 543.5 284.5 544 284.1 544.5 284.1 545 283.6 545.5 282.5 546 281.3 546.5 281.1 547 280.8 547.5 281.3 548 279.9 548.5 278.8 549 277.7 549.5 277.0 550 276.4 550.5 276.5 551 275.6 551.5 274.9 552 273.7 552.5 273.2 553 273.0 553.5 271.3 554 270.1 554.5 270.0 555 269.0 555.5 268.5 556 268.2 556.5 267.0 557 266.5 557.5 265.6 558 265.6 558.5 264.7 559 263.0 559.5 261.9 560 261.0 560.5 260.8 561 260.2 561.5 258.6 562 258.2 562.5 256.7 563 255.6 563.5 255.1 564 255.9 564.5 254.7 565 253.5 565.5 252.5 566 251.9 566.5 250.0 567 250.1 567.5 250.4 568 248.5 568.5 247.5 569 246.7 569.5 245.3 570 244.7 570.5 244.4 571 243.2 571.5 242.1 572 241.0 572.5 240.3 573 239.7 573.5 239.4 574 238.3 574.5 236.3 575 234.6 575.5 235.2 576 234.6 576.5 232.6 577 231.0 577.5 230.8 578 231.0 578.5 229.5 579 228.7 579.5 228.6 580 228.3 580.5 226.9 581 225.6 581.5 224.9 582 225.2 582.5 224.2 583 222.2 583.5 220.4 584 219.9 584.5 219.6 585 218.4 585.5 218.1 586 217.1 586.5 216.0 587 215.1 587.5 213.7 588 211.9 588.5 211.4 589 211.3 589.5 208.7 590 207.6 590.5 207.3 591 205.5 591.5 203.4 592 202.1 592.5 202.0 593 201.5 593.5 200.2 594 198.3 594.5 196.8 595 194.6 595.5 193.4 596 192.0 596.5 191.2 597 190.6 597.5 189.2 598 187.1 598.5 186.4 599 184.4 599.5 182.5 600 181.4 600.5 179.7 601 179.1 601.5 178.2 602 176.7 602.5 175.6 603 173.8 603.5 172.0 604 170.0 604.5 169.0 605 167.3 605.5 165.9 606 164.8 606.5 163.1 607 160.3 607.5 158.8 608 158.4 608.5 157.7 609 156.5 609.5 155.6 610 154.4 610.5 152.4 611 150.2 611.5 148.0 612 146.6 612.5 145.8 613 145.0 613.5 143.8 614 142.1 614.5 140.7 615 139.7 615.5 138.1 616 136.4 616.5 134.6 617 132.1 617.5 130.2 618 129.5 618.5 127.9 619 125.7 619.5 124.4 620 124.1 620.5 121.0 621 119.4 621.5 118.2 622 116.3 622.5 116.2 623 116.4 623.5 114.9 624 113.3 624.5 111.9 625 110.7 625.5 109.9 626 108.3 626.5 107.0 627 106.7 627.5 106.6 628 105.7 628.5 104.4 629 102.6 629.5 104.1 630 105.0 630.5 103.5 631 101.2 631.5 100.2 632 100.1 632.5 99.4 633 99.7 633.5 99.1 634 99.7 634.5 99.2 635 96.8 635.5 97.2 636 96.5 636.5 95.6 637 95.9 637.5 96.5 638 96.7 638.5 95.4 639 96.8 639.5 97.7 640 96.6 640.5 95.9 641 94.9 641.5 94.1 642 95.0 642.5 95.3 643 95.9 643.5 96.8 644 95.6 644.5 95.1 645 95.0 645.5 93.0 646 92.5 646.5 93.1 647 93.5 647.5 94.3 648 94.4 648.5 95.9 649 96.2 649.5 95.3 650 94.6 650.5 95.3 651 95.4 651.5 94.4 652 95.3 652.5 96.1 653 96.3 653.5 97.4 654 97.1 654.5 95.9 655 96.1 655.5 96.3 656 97.1 656.5 97.1 657 98.3 657.5 98.8 658 99.2 658.5 98.4 659 98.3 659.5 100.3 660 100.3 660.5 101.1 661 101.2 661.5 101.8 662 102.7 662.5 102.5 663 102.5 663.5 101.5 664 102.7 664.5 102.8 665 103.1 665.5 103.7 666 104.8 666.5 105.4 667 104.0 667.5 104.8 668 105.7 668.5 107.0 669 107.0 669.5 107.6 670 108.0 670.5 109.3 671 110.1 671.5 109.8 672 110.0 672.5 110.1 673 111.9 673.5 113.1 674 113.4 674.5 114.3 675 113.1 675.5 113.4 676 114.9 676.5 116.8 677 118.4 677.5 119.4 678 120.6 678.5 122.1 679 122.4 679.5 122.7 680 124.8 680.5 127.6 681 127.1 681.5 129.6 682 132.6 682.5 133.5 683 134.1 683.5 136.2 684 138.6 684.5 140.2 685 140.7 685.5 142.9 686 144.8 686.5 147.1 687 148.8 687.5 149.1 688 150.0 688.5 153.2 689 156.1 689.5 157.2 690 158.9 690.5 161.2 691 161.4 691.5 163.3 692 164.6 692.5 166.4 693 168.6 693.5 170.7 694 171.2 694.5 172.3 695 173.8 695.5 176.5 696 178.2 696.5 179.9 697 180.9 697.5 183.0 698 185.5 698.5 186.8 699 188.6 699.5 190.1 700 190.9 700.5 192.0 701 194.9 701.5 196.7 702 198.0 702.5 197.9 703 199.0 703.5 200.6 704 203.4 704.5 206.4 705 208.0 705.5 209.2 706 210.9 706.5 212.7 707 213.9 707.5 215.7 708 216.8 708.5 217.2 709 219.7 709.5 222.3 710 223.1 710.5 224.3 711 225.5 711.5 227.3 712 229.4 712.5 230.1 713 230.3 713.5 230.7 714 232.8 714.5 233.8 715 235.4 715.5 238.1 716 239.3 716.5 239.5 717 241.7 717.5 242.9 718 243.6 718.5 244.9 719 245.0 719.5 245.9 720 247.0 720.5 248.6 721 250.5 721.5 250.8 722 251.6 722.5 253.1 723 254.7 723.5 256.0 724 257.4 724.5 257.7 725 258.4 725.5 259.9 726 261.3 726.5 262.3 727 264.2 727.5 265.9 728 266.2 728.5 267.6 729 269.2 729.5 269.6 730 270.3 730.5 271.6 731 273.6 731.5 275.0 732 276.0 732.5 277.4 733 279.2 733.5 280.1 734 280.4 734.5 281.9 735 283.5 735.5 284.9 736 285.7 736.5 286.6 737 287.6 737.5 288.4 738 290.1 738.5 291.4 739 292.8 739.5 293.4 740 294.5 740.5 295.4 741 296.6 741.5 298.3 742 299.3 742.5 300.4 743 301.0 743.5 302.2 744 302.8 744.5 304.1 745 305.5 745.5 306.9 746 307.8 746.5 308.8 747 310.1 747.5 311.0 748 312.0 748.5 313.0 749 313.7 749.5 314.5 750 315.5 750.5 316.3 751 317.6 751.5 318.8 752 319.5 752.5 319.7 753 320.2 753.5 321.4 754 322.6 754.5 323.7 755 324.1 755.5 324.9 756 326.0 756.5 326.5 757 327.5 757.5 329.0 758 329.8 758.5 330.2 759 330.6 759.5 331.0 760 332.1 760.5 332.8 761 333.4 761.5 334.0 762 334.7 762.5 335.4 763 336.4 763.5 337.3 764 337.5 764.5 337.4 765 337.9 765.5 338.5 766 339.4 766.5 340.4 767 341.0 767.5 341.3 768 341.9 768.5 342.1 769 342.4 769.5 342.9 770 343.8 770.5 344.7 771 344.9 771.5 345.9 772 346.5 772.5 346.5 773 346.8 773.5 347.2 774 347.8 774.5 348.4 775 348.8 775.5 349.4 776 349.9 776.5 350.0 777 350.3 777.5 350.6 778 350.9 778.5 351.0 779 351.6 779.5 352.0 780 352.3 780.5 353.0 781 352.8 781.5 353.0 782 353.4 782.5 353.3 783 353.7 783.5 353.9 784 354.4 784.5 354.9 785 355.4 785.5 355.9 786 356.2 786.5 356.5 787 356.5 787.5 356.6 788 357.0 788.5 357.0 789 357.2 789.5 357.9 790 358.0 790.5 358.1 791 358.4 791.5 358.5 792 358.3 792.5 358.5 793 358.7 793.5 359.0 794 359.3 794.5 359.8 795 359.8 795.5 359.7 796 359.9 796.5 359.9 797 360.3 797.5 360.6 798 360.6 798.5 360.4 799 360.8 799.5 361.2 800 361.4 800.5 361.6 801 361.4 801.5 361.7 802 361.7 802.5 362.0 803 362.2 803.5 362.3 804 362.2 804.5 362.3 805 362.2 805.5 362.4 806 362.8 806.5 362.8 807 362.6 807.5 362.8 808 363.2 808.5 363.6 809 363.7 809.5 363.6 810 363.3 810.5 363.6 811 363.9 811.5 364.0 812 364.0 812.5 364.1 813 364.5 813.5 364.5 814 364.3 814.5 364.3 815 364.7 815.5 364.6 816 364.8 816.5 364.9 817 364.6 817.5 364.7 818 364.8 818.5 365.0 819 365.1 819.5 365.4 820 365.3 820.5 365.2 821 365.4 821.5 365.3 822 365.4 822.5 365.7 823 365.4 823.5 365.4 824 365.5 824.5 365.3 825 365.3 825.5 365.7 826 365.7 826.5 365.7 827 365.7 827.5 365.7 828 365.8 828.5 366.1 829 366.5 829.5 366.4 830 366.2 830.5 366.0 831 366.1 831.5 366.2 832 366.4 832.5 366.4 833 366.4 833.5 366.4 834 366.4 834.5 366.3 835 366.5 835.5 366.4 836 366.4 836.5 366.6 837 366.6 837.5 366.8 838 366.9 838.5 366.9 839 366.9 839.5 366.9 840 366.9 840.5 366.7 841 366.9 841.5 366.8 842 366.8 842.5 367.0 843 367.0 843.5 367.2 844 367.2 844.5 366.9 845 367.1 845.5 367.4 846 367.4 846.5 367.4 847 367.2 847.5 367.0 848 367.1 848.5 367.4 849 367.4 849.5 367.3 850 367.3 850.5 367.3 851 367.2 851.5 367.4 852 367.7 852.5 367.8 853 367.6 853.5 367.7 854 367.5 854.5 367.3 855 367.3 855.5 367.6 856 367.7 856.5 367.9 857 367.7 857.5 367.6 858 367.5 858.5 367.7 859 367.7 859.5 367.6 860 367.5 860.5 367.8 861 367.9 861.5 367.7 862 367.8 862.5 367.8 863 367.9 863.5 367.9 864 368.0 864.5 367.8 865 367.7 865.5 367.7 866 367.5 866.5 367.7 867 367.9 867.5 367.9 868 367.8 868.5 367.8 869 367.7 869.5 367.8 870 368.0 870.5 368.0 871 367.9 871.5 368.0 872 368.1 872.5 368.0 873 367.9 873.5 367.7 874 367.7 874.5 367.9 875 368.0 875.5 367.9 876 367.9 876.5 367.9 877 368.1 877.5 368.2 878 367.9 878.5 367.8 879 368.1 879.5 368.1 880 368.1 880.5 368.1 881 368.2 881.5 368.1 882 368.0 882.5 367.8 883 367.9 883.5 367.9 884 368.0 884.5 368.0 885 368.0 885.5 368.2 886 368.0 886.5 368.0 887 368.0 887.5 368.0 888 368.1 888.5 368.1 889 368.1 889.5 368.3 890 368.2 890.5 368.1 891 367.9 891.5 367.9 892 368.0 892.5 368.0 893 368.1 893.5 368.1 894 367.9 894.5 367.9 895 367.9 895.5 368.2 896 368.1 896.5 368.0 897 368.0 897.5 368.2 898 368.1 898.5 368.1 899 368.0 899.5 368.2 900 368.2 900.5 368.3 901 368.3 901.5 368.2 902 368.2 902.5 368.2 903 368.2 903.5 368.2 904 368.1 904.5 368.1 905 368.3 905.5 368.3 906 368.3 906.5 368.3 907 368.1 907.5 368.2 908 368.3 908.5 368.2 909 368.1 909.5 368.3 910 368.3 910.5 368.1 911 368.2 911.5 368.1 912 368.0 912.5 368.1 913 368.1 913.5 368.1 914 368.1 914.5 368.1 915 368.2 915.5 368.3 916 368.3 916.5 368.2 917 368.1 917.5 368.1 918 368.2 918.5 368.4 919 368.3 919.5 368.2 920 368.3 920.5 368.2 921 368.3 921.5 368.3 922 368.3 922.5 368.3 923 368.3 923.5 368.2 924 368.2 924.5 368.3 925 368.5 925.5 368.7 926 368.5 926.5 368.3 927 368.2 927.5 368.3 928 368.1 928.5 368.2 929 368.2 929.5 368.2 930 368.4 930.5 368.4 931 368.2 931.5 368.2 932 368.1 932.5 368.1 933 368.3 933.5 368.4 934 368.3 934.5 368.3 935 368.3 935.5 368.3 936 368.2 936.5 368.3 937 368.5 937.5 368.4 938 368.3 938.5 368.3 939 368.4 939.5 368.4 940 368.2 940.5 368.2 941 368.3 941.5 368.4 942 368.3 942.5 368.3 943 368.4 943.5 368.5 944 368.4" fill="none" stroke="#ff0000" stroke-width="6.0" stroke-linejoin="round" stroke-linecap="round"/>
<path d="M162 367.4 162.5 367.4 163 367.5 163.5 367.4 164 367.3 164.5 367.4 165 367.3 165.5 367.3 166 367.3 166.5 367.3 167 367.3 167.5 367.3 168 367.4 168.5 367.4 169 367.4 169.5 367.3 170 367.4 170.5 367.2 171 367.2 171.5 367.4 172 367.5 172.5 367.5 173 367.4 173.5 367.3 174 367.3 174.5 367.4 175 367.3 175.5 367.3 176 367.3 176.5 367.3 177 367.4 177.5 367.4 178 367.3 178.5 367.3 179 367.3 179.5 367.4 180 367.3 180.5 367.3 181 367.2 181.5 367.3 182 367.4 182.5 367.4 183 367.3 183.5 367.3 184 367.4 184.5 367.4 185 367.3 185.5 367.4 186 367.4 186.5 367.5 187 367.4 187.5 367.3 188 367.3 188.5 367.3 189 367.3 189.5 367.3 190 367.4 190.5 367.3 191 367.4 191.5 367.4 192 367.4 192.5 367.4 193 367.4 193.5 367.4 194 367.3 194.5 367.3 195 367.4 195.5 367.5 196 367.4 196.5 367.3 197 367.3 197.5 367.3 198 367.3 198.5 367.4 199 367.4 199.5 367.3 200 367.4 200.5 367.4 201 367.3 201.5 367.3 202 367.3 202.5 367.3 203 367.4 203.5 367.3 204 367.4 204.5 367.4 205 367.4 205.5 367.4 206 367.4 206.5 367.4 207 367.4 207.5 367.3 208 367.3 208.5 367.3 209 367.4 209.5 367.4 210 367.2 210.5 367.3 211 367.3 211.5 367.2 212 367.3 212.5 367.5 213 367.4 213.5 367.3 214 367.4 214.5 367.4 215 367.4 215.5 367.3 216 367.3 216.5 367.2 217 367.2 217.5 367.3 218 367.3 218.5 367.4 219 367.2 219.5 367.1 220 367.2 220.5 367.3 221 367.3 221.5 367.2 222 367.2 222.5 367.3 223 367.2 223.5 367.3 224 367.2 224.5 367.2 225 367.2 225.5 367.1 226 367.1 226.5 367.2 227 367.2 227.5 367.3 228 367.2 228.5 367.2 229 367.3 229.5 367.2 230 367.2 230.5 367.1 231 367.1 231.5 367.2 232 367.2 232.5 367.2 233 367.2 233.5 367.2 234 367.1 234.5 367.1 235 367.1 235.5 367.1 236 367.1 236.5 367.1 237 367.1 237.5 367.3 238 367.3 238.5 367.3 239 367.2 239.5 367.2 240 367.2 240.5 367.3 241 367.3 241.5 367.2 242 367.1 242.5 367.0 243 366.9 243.5 366.9 244 367.1 244.5 367.1 245 367.1 245.5 367.2 246 367.2 246.5 367.1 247 367.2 247.5 367.3 248 367.1 248.5 367.1 249 367.2 249.5 367.1 250 367.0 250.5 367.1 251 367.1 251.5 367.1 252 367.2 252.5 367.2 253 367.1 253.5 367.0 254 367.0 254.5 367.1 255 367.1 255.5 367.2 256 367.1 256.5 367.0 257 367.1 257.5 367.1 258 367.0 258.5 367.0 259 367.1 259.5 367.1 260 367.1 260.5 367.0 261 367.0 261.5 367.1 262 367.0 262.5 366.8 263 366.8 263.5 366.9 264 366.9 264.5 367.0 265 367.0 265.5 367.0 266 366.9 266.5 366.9 267 367.0 267.5 366.9 268 366.9 268.5 367.0 269 366.9 269.5 366.7 270 366.8 270.5 366.8 271 366.8 271.5 366.9 272 366.8 272.5 366.8 273 366.8 273.5 366.8 274 366.7 274.5 366.7 275 366.7 275.5 366.6 276 366.6 276.5 366.6 277 366.5 277.5 366.5 278 366.7 278.5 366.6 279 366.6 279.5 366.5 280 366.5 280.5 366.5 281 366.5 281.5 366.5 282 366.5 282.5 366.5 283 366.5 283.5 366.3 284 366.3 284.5 366.5 285 366.4 285.5 366.3 286 366.4 286.5 366.3 287 366.3 287.5 366.2 288 366.2 288.5 366.3 289 366.3 289.5 366.3 290 366.3 290.5 366.3 291 366.2 291.5 366.0 292 366.0 292.5 366.2 293 366.2 293.5 366.1 294 366.0 294.5 366.1 295 366.2 295.5 366.2 296 366.2 296.5 366.0 297 365.9 297.5 366.0 298 366.0 298.5 366.0 299 366.1 299.5 366.0 300 366.1 300.5 366.0 301 365.9 301.5 365.9 302 365.9 302.5 366.0 303 366.0 303.5 365.9 304 365.9 304.5 365.9 305 365.8 305.5 365.8 306 365.8 306.5 365.8 307 365.7 307.5 365.7 308 365.7 308.5 365.6 309 365.6 309.5 365.6 310 365.6 310.5 365.6 311 365.6 311.5 365.7 312 365.5 312.5 365.4 313 365.5 313.5 365.5 314 365.4 314.5 365.5 315 365.5 315.5 365.4 316 365.3 316.5 365.2 317 365.2 317.5 365.2 318 365.2 318.5 365.2 319 365.1 319.5 365.1 320 365.1 320.5 364.9 321 364.9 321.5 364.9 322 364.9 322.5 364.9 323 364.8 323.5 364.8 324 364.8 324.5 364.8 325 364.6 325.5 364.6 326 364.6 326.5 364.7 327 364.6 327.5 364.5 328 364.5 328.5 364.5 329 364.5 329.5 364.6 330 364.5 330.5 364.5 331 364.4 331.5 364.3 332 364.4 332.5 364.4 333 364.3 333.5 364.1 334 364.2 334.5 364.1 335 364.1 335.5 364.2 336 364.1 336.5 363.9 337 363.9 337.5 364.0 338 364.0 338.5 363.9 339 363.9 339.5 363.8 340 363.6 340.5 363.5 341 363.5 341.5 363.6 342 363.7 342.5 363.5 343 363.3 343.5 363.3 344 363.4 344.5 363.3 345 363.2 345.5 363.2 346 363.0 346.5 363.1 347 363.1 347.5 363.0 348 362.8 348.5 362.8 349 362.8 349.5 362.8 350 362.8 350.5 362.8 351 362.9 351.5 362.8 352 362.5 352.5 362.5 353 362.6 353.5 362.5 354 362.5 354.5 362.5 355 362.2 355.5 362.2 356 362.1 356.5 362.0 357 361.9 357.5 362.0 358 362.0 358.5 361.9 359 361.8 359.5 361.7 360 361.7 360.5 361.7 361 361.4 361.5 361.5 362 361.6 362.5 361.4 363 361.5 363.5 361.5 364 361.3 364.5 361.3 365 361.2 365.5 361.2 366 361.2 366.5 361.2 367 361.2 367.5 361.1 368 361.1 368.5 360.9 369 360.7 369.5 360.7 370 360.7 370.5 360.5 371 360.6 371.5 360.5 372 360.4 372.5 360.2 373 360.2 373.5 360.2 374 360.1 374.5 359.9 375 359.8 375.5 359.9 376 359.6 376.5 359.4 377 359.4 377.5 359.4 378 359.5 378.5 359.3 379 359.3 379.5 359.2 380 359.4 380.5 359.3 381 359.2 381.5 358.8 382 358.8 382.5 358.6 383 358.6 383.5 358.5 384 358.2 384.5 358.0 385 357.9 385.5 357.8 386 357.8 386.5 357.6 387 357.5 387.5 357.6 388 357.5 388.5 357.2 389 357.2 389.5 357.2 390 357.0 390.5 356.9 391 357.0 391.5 356.9 392 356.7 392.5 356.6 393 356.7 393.5 356.6 394 356.2 394.5 356.1 395 356.0 395.5 355.8 396 355.7 396.5 355.6 397 355.3 397.5 355.2 398 354.9 398.5 354.8 399 354.7 399.5 355.1 400 355.0 400.5 354.8 401 354.6 401.5 354.5 402 354.4 402.5 354.3 403 354.1 403.5 353.7 404 353.7 404.5 353.4 405 353.2 405.5 353.1 406 353.2 406.5 353.2 407 352.9 407.5 353.1 408 353.0 408.5 352.6 409 352.4 409.5 352.4 410 352.3 410.5 352.0 411 351.8 411.5 351.8 412 351.5 412.5 351.6 413 351.7 413.5 351.5 414 351.4 414.5 351.3 415 351.1 415.5 350.9 416 350.6 416.5 350.5 417 350.5 417.5 350.6 418 350.5 418.5 350.1 419 349.8 419.5 349.6 420 349.6 420.5 349.7 421 349.4 421.5 349.1 422 348.9 422.5 349.0 423 348.8 423.5 348.6 424 348.5 424.5 348.5 425 348.2 425.5 348.2 426 348.0 426.5 347.7 427 347.6 427.5 347.3 428 347.0 428.5 346.9 429 346.7 429.5 346.7 430 346.6 430.5 346.5 431 346.2 431.5 345.7 432 345.7 432.5 345.5 433 345.5 433.5 345.4 434 345.4 434.5 345.4 435 344.9 435.5 344.9 436 344.7 436.5 344.4 437 344.5 437.5 344.4 438 344.1 438.5 344.1 439 344.4 439.5 343.8 440 343.2 440.5 343.2 441 343.2 441.5 343.1 442 342.9 442.5 342.7 443 342.7 443.5 342.4 444 342.0 444.5 341.9 445 341.9 445.5 342.0 446 341.8 446.5 341.5 447 341.3 447.5 341.3 448 341.3 448.5 340.8 449 340.7 449.5 340.5 450 340.1 450.5 340.1 451 339.9 451.5 339.7 452 339.7 452.5 339.6 453 339.4 453.5 339.0 454 339.0 454.5 339.0 455 338.4 455.5 338.3 456 338.2 456.5 338.0 457 337.8 457.5 337.6 458 337.5 458.5 337.3 459 336.9 459.5 336.6 460 336.4 460.5 336.1 461 335.9 461.5 335.6 462 335.8 462.5 335.9 463 335.7 463.5 335.3 464 334.8 464.5 334.8 465 334.4 465.5 334.3 466 334.4 466.5 333.9 467 333.9 467.5 333.7 468 333.4 468.5 333.1 469 333.1 469.5 333.0 470 333.1 470.5 332.9 471 332.3 471.5 332.1 472 332.0 472.5 331.7 473 331.6 473.5 331.7 474 331.5 474.5 331.1 475 331.1 475.5 331.2 476 330.8 476.5 330.7 477 331.1 477.5 330.9 478 330.1 478.5 330.0 479 330.1 479.5 329.8 480 329.7 480.5 329.6 481 329.5 481.5 328.8 482 328.5 482.5 328.8 483 329.0 483.5 328.7 484 328.3 484.5 328.5 485 328.5 485.5 328.1 486 327.9 486.5 328.0 487 328.0 487.5 327.7 488 327.5 488.5 327.3 489 327.0 489.5 326.8 490 326.8 490.5 326.7 491 326.6 491.5 326.7 492 326.6 492.5 326.4 493 325.9 493.5 326.0 494 325.8 494.5 325.5 495 325.5 495.5 325.8 496 325.7 496.5 325.2 497 325.0 497.5 325.0 498 325.1 498.5 325.2 499 324.5 499.5 324.3 500 324.5 500.5 324.6 501 324.5 501.5 324.7 502 324.7 502.5 324.2 503 323.8 503.5 323.6 504 323.9 504.5 324.0 505 323.9 505.5 323.9 506 323.8 506.5 323.9 507 323.6 507.5 323.2 508 323.0 508.5 322.8 509 322.7 509.5 323.1 510 323.4 510.5 323.4 511 323.0 511.5 322.7 512 322.6 512.5 322.9 513 322.7 513.5 322.5 514 322.6 514.5 322.5 515 322.1 515.5 322.3 516 322.3 516.5 322.0 517 322.1 517.5 322.4 518 322.5 518.5 322.3 519 321.6 519.5 321.6 520 321.7 520.5 321.3 521 321.1 521.5 321.1 522 321.7 522.5 321.7 523 321.4 523.5 321.2 524 321.0 524.5 320.9 525 321.0 525.5 320.8 526 320.9 526.5 320.6 527 320.5 527.5 320.7 528 320.5 528.5 320.4 529 320.0 529.5 319.7 530 319.9 530.5 319.8 531 319.9 531.5 319.4 532 319.2 532.5 319.6 533 319.7 533.5 319.4 534 319.2 534.5 319.3 535 318.9 535.5 318.8 536 318.7 536.5 318.8 537 318.9 537.5 318.6 538 318.7 538.5 318.5 539 317.9 539.5 317.8 540 317.9 540.5 317.8 541 317.7 541.5 317.4 542 317.7 542.5 317.7 543 317.2 543.5 316.9 544 316.9 544.5 316.8 545 316.8 545.5 316.6 546 316.5 546.5 316.3 547 316.2 547.5 315.4 548 315.4 548.5 315.5 549 315.1 549.5 315.1 550 314.8 550.5 314.7 551 314.4 551.5 314.2 552 314.2 552.5 313.9 553 313.8 553.5 314.0 554 313.4 554.5 312.9 555 313.1 555.5 313.0 556 312.9 556.5 312.6 557 311.9 557.5 311.9 558 311.7 558.5 311.2 559 310.7 559.5 309.9 560 310.1 560.5 310.3 561 309.4 561.5 309.2 562 309.3 562.5 309.2 563 308.9 563.5 308.0 564 307.9 564.5 307.8 565 307.1 565.5 307.1 566 307.3 566.5 306.9 567 306.0 567.5 305.0 568 305.0 568.5 304.9 569 304.4 569.5 304.3 570 304.4 570.5 303.3 571 302.6 571.5 302.3 572 301.9 572.5 301.5 573 301.2 573.5 301.0 574 300.4 574.5 299.7 575 299.5 575.5 299.3 576 298.8 576.5 298.7 577 298.2 577.5 297.4 578 297.3 578.5 297.4 579 296.9 579.5 296.1 580 295.6 580.5 294.7 581 294.0 581.5 293.9 582 293.5 582.5 293.0 583 292.5 583.5 292.0 584 291.4 584.5 291.2 585 290.9 585.5 290.5 586 290.1 586.5 289.3 587 289.2 587.5 289.7 588 289.6 588.5 288.9 589 288.3 589.5 287.8 590 287.8 590.5 287.4 591 286.5 591.5 286.4 592 286.0 592.5 285.2 593 284.3 593.5 283.8 594 283.0 594.5 282.9 595 282.0 595.5 281.1 596 281.0 596.5 280.3 597 279.4 597.5 279.1 598 277.9 598.5 277.3 599 276.7 599.5 275.4 600 275.2 600.5 274.4 601 273.5 601.5 272.6 602 272.0 602.5 271.0 603 270.2 603.5 269.5 604 268.9 604.5 268.5 605 267.2 605.5 266.3 606 265.7 606.5 265.2 607 264.6 607.5 263.8 608 262.6 608.5 261.7 609 261.1 609.5 260.6 610 259.7 610.5 258.4 611 257.5 611.5 257.7 612 256.9 612.5 255.8 613 254.8 613.5 253.7 614 252.7 614.5 252.1 615 251.3 615.5 250.2 616 249.2 616.5 248.7 617 248.1 617.5 247.0 618 246.0 618.5 244.6 619 244.1 619.5 243.3 620 241.9 620.5 240.9 621 240.4 621.5 239.4 622 238.6 622.5 237.6 623 236.7 623.5 235.3 624 233.9 624.5 233.1 625 232.2 625.5 231.3 626 230.0 626.5 228.9 627 228.2 627.5 227.3 628 226.1 628.5 224.9 629 223.6 629.5 222.5 630 221.3 630.5 219.9 631 218.5 631.5 217.5 632 216.8 632.5 215.0 633 213.4 633.5 212.2 634 211.1 634.5 209.9 635 208.2 635.5 206.8 636 206.1 636.5 204.8 637 204.0 637.5 203.2 638 202.4 638.5 201.4 639 199.7 639.5 198.0 640 196.5 640.5 195.5 641 194.3 641.5 192.7 642 192.0 642.5 191.1 643 190.0 643.5 188.5 644 187.2 644.5 185.8 645 184.4 645.5 183.0 646 182.5 646.5 181.9 647 180.4 647.5 178.9 648 177.5 648.5 176.8 649 175.3 649.5 174.3 650 172.9 650.5 171.5 651 170.8 651.5 169.5 652 168.3 652.5 167.2 653 165.8 653.5 164.5 654 163.5 654.5 162.1 655 160.9 655.5 159.4 656 157.9 656.5 156.9 657 156.0 657.5 155.1 658 154.1 658.5 152.1 659 150.9 659.5 149.1 660 148.1 660.5 147.0 661 145.1 661.5 144.0 662 143.5 662.5 142.5 663 141.0 663.5 139.8 664 139.4 664.5 137.6 665 136.1 665.5 135.8 666 134.4 666.5 133.0 667 132.3 667.5 131.1 668 130.0 668.5 128.7 669 127.4 669.5 126.9 670 125.7 670.5 124.1 671 123.3 671.5 122.8 672 121.6 672.5 120.6 673 119.9 673.5 118.5 674 117.0 674.5 116.7 675 116.2 675.5 115.3 676 114.5 676.5 113.2 677 112.4 677.5 111.7 678 110.4 678.5 110.2 679 109.5 679.5 108.5 680 107.8 680.5 106.5 681 105.1 681.5 104.9 682 104.2 682.5 103.4 683 102.8 683.5 102.6 684 101.6 684.5 100.6 685 100.5 685.5 100.0 686 99.0 686.5 98.4 687 98.0 687.5 97.7 688 97.8 688.5 97.9 689 98.0 689.5 97.4 690 97.0 690.5 96.8 691 96.3 691.5 95.5 692 95.4 692.5 95.0 693 94.5 693.5 94.0 694 93.8 694.5 93.5 695 93.2 695.5 93.7 696 93.6 696.5 93.6 697 93.8 697.5 93.9 698 93.5 698.5 93.4 699 92.8 699.5 92.6 700 93.3 700.5 94.6 701 94.2 701.5 95.2 702 95.9 702.5 95.8 703 96.8 703.5 97.4 704 97.7 704.5 98.4 705 98.3 705.5 98.2 706 99.1 706.5 99.5 707 99.7 707.5 100.9 708 102.9 708.5 103.0 709 103.5 709.5 104.1 710 105.1 710.5 105.9 711 106.5 711.5 106.9 712 107.7 712.5 109.1 713 110.9 713.5 112.6 714 113.5 714.5 114.6 715 115.1 715.5 115.5 716 116.2 716.5 117.4 717 118.1 717.5 120.0 718 122.1 718.5 123.1 719 124.3 719.5 124.9 720 125.6 720.5 127.1 721 128.8 721.5 130.9 722 132.4 722.5 132.7 723 133.9 723.5 135.3 724 136.5 724.5 137.7 725 139.5 725.5 141.2 726 142.4 726.5 143.3 727 144.7 727.5 145.9 728 147.9 728.5 149.0 729 150.5 729.5 151.9 730 153.3 730.5 154.5 731 156.1 731.5 158.8 732 160.2 732.5 161.8 733 163.8 733.5 164.8 734 166.3 734.5 167.9 735 169.8 735.5 171.3 736 172.6 736.5 174.1 737 175.9 737.5 177.5 738 178.2 738.5 180.1 739 181.9 739.5 183.2 740 184.5 740.5 186.7 741 188.1 741.5 189.7 742 191.1 742.5 192.4 743 194.1 743.5 195.4 744 197.3 744.5 199.2 745 201.0 745.5 202.6 746 204.4 746.5 206.6 747 207.7 747.5 208.6 748 210.2 748.5 211.9 749 213.6 749.5 215.1 750 216.9 750.5 219.2 751 220.5 751.5 221.8 752 223.5 752.5 225.3 753 227.4 753.5 229.0 754 230.4 754.5 231.1 755 233.6 755.5 236.0 756 237.9 756.5 239.0 757 240.2 757.5 242.4 758 243.9 758.5 245.3 759 247.4 759.5 249.8 760 251.7 760.5 253.1 761 254.6 761.5 256.8 762 257.9 762.5 259.4 763 261.0 763.5 263.2 764 264.9 764.5 266.4 765 267.7 765.5 269.2 766 270.5 766.5 271.8 767 273.9 767.5 275.5 768 276.7 768.5 278.2 769 279.9 769.5 281.7 770 282.9 770.5 284.1 771 285.3 771.5 286.5 772 288.1 772.5 289.7 773 291.1 773.5 292.5 774 294.1 774.5 295.3 775 296.6 775.5 297.9 776 299.0 776.5 300.2 777 301.3 777.5 302.3 778 303.8 778.5 304.7 779 306.1 779.5 307.3 780 308.5 780.5 309.4 781 310.3 781.5 311.7 782 312.7 782.5 313.7 783 314.8 783.5 316.0 784 317.0 784.5 317.7 785 318.3 785.5 319.4 786 320.7 786.5 321.9 787 322.6 787.5 323.4 788 324.4 788.5 325.1 789 325.9 789.5 326.6 790 327.2 790.5 328.4 791 329.2 791.5 329.7 792 330.3 792.5 331.4 793 332.3 793.5 332.7 794 333.2 794.5 334.1 795 334.4 795.5 335.0 796 335.9 796.5 336.7 797 337.4 797.5 338.0 798 338.8 798.5 339.3 799 339.8 799.5 340.4 800 341.2 800.5 341.9 801 342.4 801.5 342.7 802 342.6 802.5 343.3 803 344.1 803.5 344.6 804 345.0 804.5 345.8 805 346.2 805.5 346.5 806 347.0 806.5 347.4 807 347.8 807.5 348.3 808 348.6 808.5 348.8 809 349.3 809.5 349.8 810 350.2 810.5 350.7 811 351.0 811.5 351.6 812 351.9 812.5 352.0 813 352.4 813.5 352.9 814 353.0 814.5 353.2 815 353.7 815.5 354.1 816 354.1 816.5 354.5 817 354.8 817.5 355.0 818 355.2 818.5 355.5 819 355.9 819.5 356.1 820 356.2 820.5 356.6 821 356.6 821.5 357.0 822 357.3 822.5 357.5 823 357.7 823.5 357.9 824 358.1 824.5 358.3 825 358.5 825.5 358.8 826 358.8 826.5 359.1 827 359.2 827.5 359.3 828 359.4 828.5 359.6 829 359.6 829.5 359.8 830 360.1 830.5 360.2 831 360.5 831.5 360.6 832 360.7 832.5 360.9 833 361.1 833.5 361.1 834 361.2 834.5 361.4 835 361.7 835.5 361.9 836 362.0 836.5 362.0 837 362.0 837.5 362.0 838 362.3 838.5 362.5 839 362.6 839.5 362.8 840 362.9 840.5 363.0 841 363.1 841.5 363.1 842 363.0 842.5 363.2 843 363.3 843.5 363.5 844 363.5 844.5 363.6 845 363.6 845.5 363.8 846 364.0 846.5 364.1 847 364.2 847.5 364.2 848 364.3 848.5 364.4 849 364.5 849.5 364.6 850 364.4 850.5 364.6 851 364.8 851.5 364.9 852 364.8 852.5 365.0 853 365.1 853.5 365.0 854 364.9 854.5 365.1 855 365.2 855.5 365.3 856 365.4 856.5 365.6 857 365.5 857.5 365.5 858 365.5 858.5 365.6 859 365.7 859.5 365.9 860 365.9 860.5 365.9 861 365.9 861.5 366.0 862 366.1 862.5 366.0 863 366.2 863.5 366.2 864 366.0 864.5 366.0 865 366.1 865.5 366.3 866 366.3 866.5 366.3 867 366.4 867.5 366.4 868 366.4 868.5 366.5 869 366.5 869.5 366.5 870 366.7 870.5 366.6 871 366.6 871.5 366.7 872 366.7 872.5 366.6 873 366.7 873.5 366.7 874 366.7 874.5 366.8 875 366.8 875.5 366.9 876 366.9 876.5 367.0 877 367.0 877.5 366.9 878 366.9 878.5 366.9 879 367.0 879.5 367.1 880 367.2 880.5 367.1 881 367.1 881.5 367.2 882 367.2 882.5 367.2 883 367.3 883.5 367.3 884 367.2 884.5 367.1 885 367.2 885.5 367.2 886 367.1 886.5 367.2 887 367.3 887.5 367.3 888 367.3 888.5 367.5 889 367.5 889.5 367.4 890 367.5 890.5 367.5 891 367.4 891.5 367.5 892 367.4 892.5 367.4 893 367.4 893.5 367.4 894 367.4 894.5 367.5 895 367.5 895.5 367.5 896 367.5 896.5 367.6 897 367.5 897.5 367.6 898 367.5 898.5 367.5 899 367.6 899.5 367.6 900 367.5 900.5 367.5 901 367.5 901.5 367.6 902 367.6 902.5 367.5 903 367.5 903.5 367.6 904 367.6 904.5 367.7 905 367.6 905.5 367.6 906 367.6 906.5 367.5 907 367.5 907.5 367.6 908 367.6 908.5 367.6 909 367.6 909.5 367.7 910 367.7 910.5 367.7 911 367.7 911.5 367.6 912 367.6 912.5 367.8 913 367.8 913.5 367.9 914 367.9 914.5 367.8 915 367.8 915.5 367.8 916 367.8 916.5 367.8 917 367.8 917.5 367.9 918 367.8 918.5 367.8 919 367.9 919.5 367.8 920 367.8 920.5 367.8 921 367.8 921.5 367.8 922 367.8 922.5 367.8 923 367.9 923.5 367.9 924 367.9 924.5 367.9 925 367.9 925.5 367.9 926 367.9 926.5 367.9 927 367.9 927.5 367.9 928 367.9 928.5 367.9 929 368.0 929.5 368.0 930 367.9 930.5 367.9 931 367.8 931.5 367.8 932 367.9 932.5 367.9 933 367.8 933.5 367.9 934 368.0 934.5 367.9 935 367.9 935.5 368.1 936 368.0 936.5 368.0 937 368.0 937.5 368.0 938 368.0 938.5 367.9 939 367.9 939.5 368.0 940 368.0 940.5 368.0 941 367.9 941.5 367.9 942 368.0 942.5 368.0 943 368.1 943.5 368.1 944 368.1" fill="none" stroke="#00ff00" stroke-width="5.6" stroke-linejoin="round" stroke-linecap="round"/>
</g>
<g clip-path="url(#cb)">
<path d="M162 714.0 162.5 714.0 163 714.0 163.5 714.0 164 714.0 164.5 714.0 165 713.9 165.5 713.9 166 713.9 166.5 713.9 167 714.0 167.5 714.0 168 714.1 168.5 714.1 169 714.1 169.5 714.0 170 714.0 170.5 714.0 171 714.0 171.5 714.0 172 714.0 172.5 714.0 173 714.0 173.5 713.9 174 713.9 174.5 713.9 175 714.0 175.5 714.0 176 714.0 176.5 714.0 177 714.0 177.5 714.0 178 713.9 178.5 714.0 179 714.0 179.5 713.9 180 713.9 180.5 714.0 181 713.9 181.5 713.9 182 714.0 182.5 713.9 183 713.9 183.5 713.9 184 714.0 184.5 714.0 185 713.9 185.5 713.8 186 713.9 186.5 713.9 187 713.9 187.5 713.9 188 713.9 188.5 714.0 189 713.9 189.5 714.0 190 713.9 190.5 713.8 191 713.9 191.5 713.9 192 713.9 192.5 713.9 193 713.9 193.5 713.9 194 713.9 194.5 713.9 195 713.8 195.5 713.8 196 713.9 196.5 713.9 197 713.8 197.5 713.8 198 713.9 198.5 713.8 199 713.8 199.5 713.8 200 713.8 200.5 713.8 201 713.8 201.5 713.9 202 713.9 202.5 713.9 203 713.9 203.5 713.9 204 713.8 204.5 713.8 205 713.8 205.5 713.8 206 713.8 206.5 713.8 207 713.8 207.5 713.8 208 713.8 208.5 713.8 209 713.7 209.5 713.7 210 713.7 210.5 713.7 211 713.7 211.5 713.8 212 713.9 212.5 713.8 213 713.7 213.5 713.7 214 713.6 214.5 713.7 215 713.8 215.5 713.7 216 713.6 216.5 713.6 217 713.7 217.5 713.7 218 713.7 218.5 713.7 219 713.6 219.5 713.6 220 713.7 220.5 713.6 221 713.6 221.5 713.6 222 713.6 222.5 713.6 223 713.6 223.5 713.6 224 713.7 224.5 713.6 225 713.5 225.5 713.5 226 713.5 226.5 713.7 227 713.7 227.5 713.6 228 713.5 228.5 713.6 229 713.6 229.5 713.5 230 713.5 230.5 713.5 231 713.5 231.5 713.6 232 713.6 232.5 713.5 233 713.5 233.5 713.5 234 713.6 234.5 713.5 235 713.5 235.5 713.5 236 713.5 236.5 713.4 237 713.4 237.5 713.5 238 713.5 238.5 713.5 239 713.5 239.5 713.4 240 713.4 240.5 713.4 241 713.4 241.5 713.4 242 713.4 242.5 713.4 243 713.4 243.5 713.4 244 713.4 244.5 713.5 245 713.4 245.5 713.4 246 713.4 246.5 713.4 247 713.4 247.5 713.4 248 713.4 248.5 713.4 249 713.4 249.5 713.4 250 713.3 250.5 713.3 251 713.3 251.5 713.3 252 713.3 252.5 713.3 253 713.2 253.5 713.2 254 713.3 254.5 713.3 255 713.3 255.5 713.3 256 713.3 256.5 713.2 257 713.2 257.5 713.2 258 713.3 258.5 713.2 259 713.2 259.5 713.1 260 713.2 260.5 713.2 261 713.2 261.5 713.2 262 713.2 262.5 713.1 263 713.1 263.5 713.2 264 713.1 264.5 713.1 265 713.1 265.5 713.1 266 713.1 266.5 713.1 267 713.1 267.5 713.0 268 713.0 268.5 713.1 269 713.1 269.5 713.1 270 713.0 270.5 713.1 271 713.1 271.5 713.0 272 713.0 272.5 713.1 273 713.1 273.5 713.0 274 713.0 274.5 713.0 275 713.0 275.5 713.0 276 713.0 276.5 712.9 277 712.9 277.5 712.9 278 712.9 278.5 712.9 279 712.9 279.5 712.9 280 712.9 280.5 712.9 281 712.9 281.5 712.8 282 712.9 282.5 712.8 283 712.7 283.5 712.7 284 712.8 284.5 712.8 285 712.8 285.5 712.7 286 712.7 286.5 712.7 287 712.7 287.5 712.7 288 712.7 288.5 712.7 289 712.6 289.5 712.6 290 712.6 290.5 712.6 291 712.6 291.5 712.6 292 712.6 292.5 712.6 293 712.5 293.5 712.4 294 712.4 294.5 712.4 295 712.5 295.5 712.5 296 712.4 296.5 712.5 297 712.4 297.5 712.4 298 712.3 298.5 712.3 299 712.4 299.5 712.4 300 712.3 300.5 712.3 301 712.3 301.5 712.3 302 712.3 302.5 712.2 303 712.1 303.5 712.2 304 712.3 304.5 712.2 305 712.2 305.5 712.1 306 712.0 306.5 712.1 307 712.1 307.5 712.1 308 712.0 308.5 712.0 309 712.0 309.5 712.0 310 712.0 310.5 711.9 311 711.9 311.5 711.9 312 711.9 312.5 711.9 313 711.9 313.5 711.9 314 711.9 314.5 711.8 315 711.7 315.5 711.7 316 711.8 316.5 711.7 317 711.6 317.5 711.6 318 711.6 318.5 711.6 319 711.6 319.5 711.5 320 711.5 320.5 711.5 321 711.4 321.5 711.3 322 711.3 322.5 711.3 323 711.4 323.5 711.4 324 711.4 324.5 711.3 325 711.2 325.5 711.2 326 711.1 326.5 711.1 327 711.0 327.5 711.0 328 711.0 328.5 711.0 329 711.0 329.5 711.0 330 711.0 330.5 710.8 331 710.7 331.5 710.7 332 710.7 332.5 710.6 333 710.6 333.5 710.7 334 710.6 334.5 710.6 335 710.5 335.5 710.5 336 710.5 336.5 710.4 337 710.4 337.5 710.3 338 710.3 338.5 710.3 339 710.3 339.5 710.2 340 710.1 340.5 710.2 341 710.0 341.5 709.9 342 709.9 342.5 710.0 343 710.0 343.5 710.0 344 709.9 344.5 709.8 345 709.6 345.5 709.6 346 709.6 346.5 709.6 347 709.5 347.5 709.4 348 709.4 348.5 709.2 349 709.2 349.5 709.2 350 709.2 350.5 709.1 351 709.0 351.5 709.0 352 708.9 352.5 708.9 353 708.9 353.5 708.8 354 708.8 354.5 708.7 355 708.7 355.5 708.7 356 708.6 356.5 708.5 357 708.4 357.5 708.4 358 708.3 358.5 708.1 359 708.1 359.5 708.0 360 707.9 360.5 707.9 361 707.9 361.5 707.8 362 707.7 362.5 707.6 363 707.6 363.5 707.6 364 707.5 364.5 707.4 365 707.3 365.5 707.2 366 707.1 366.5 707.0 367 706.9 367.5 707.0 368 706.9 368.5 706.9 369 706.7 369.5 706.6 370 706.5 370.5 706.5 371 706.4 371.5 706.3 372 706.3 372.5 706.2 373 706.2 373.5 706.1 374 706.0 374.5 705.9 375 705.8 375.5 705.8 376 705.7 376.5 705.5 377 705.3 377.5 705.3 378 705.2 378.5 705.3 379 705.4 379.5 705.2 380 705.1 380.5 705.0 381 704.8 381.5 704.8 382 704.7 382.5 704.6 383 704.5 383.5 704.3 384 704.1 384.5 704.1 385 704.1 385.5 704.0 386 703.8 386.5 703.7 387 703.6 387.5 703.6 388 703.5 388.5 703.4 389 703.2 389.5 703.0 390 703.0 390.5 702.9 391 702.7 391.5 702.7 392 702.6 392.5 702.5 393 702.4 393.5 702.2 394 702.1 394.5 702.0 395 702.0 395.5 702.0 396 701.6 396.5 701.5 397 701.5 397.5 701.4 398 701.1 398.5 700.9 399 701.0 399.5 700.8 400 700.6 400.5 700.4 401 700.3 401.5 700.3 402 700.2 402.5 700.1 403 699.9 403.5 699.8 404 699.6 404.5 699.5 405 699.3 405.5 699.2 406 699.0 406.5 698.9 407 698.7 407.5 698.6 408 698.4 408.5 698.4 409 698.1 409.5 698.0 410 697.9 410.5 697.7 411 697.4 411.5 697.4 412 697.2 412.5 696.9 413 696.9 413.5 696.9 414 696.6 414.5 696.3 415 696.2 415.5 696.1 416 695.8 416.5 695.7 417 695.6 417.5 695.5 418 695.3 418.5 695.1 419 694.8 419.5 694.6 420 694.6 420.5 694.4 421 694.0 421.5 694.0 422 693.8 422.5 693.5 423 693.4 423.5 693.2 424 692.9 424.5 692.7 425 692.5 425.5 692.3 426 692.1 426.5 691.9 427 691.6 427.5 691.5 428 691.3 428.5 691.1 429 691.0 429.5 690.9 430 690.6 430.5 690.3 431 690.2 431.5 689.9 432 689.6 432.5 689.4 433 689.2 433.5 689.1 434 688.8 434.5 688.5 435 688.2 435.5 688.1 436 688.0 436.5 687.8 437 687.4 437.5 687.1 438 686.9 438.5 686.6 439 686.5 439.5 686.3 440 685.9 440.5 685.7 441 685.7 441.5 685.4 442 685.2 442.5 684.9 443 684.6 443.5 684.5 444 684.2 444.5 683.9 445 683.8 445.5 683.6 446 683.3 446.5 683.2 447 683.0 447.5 682.6 448 682.5 448.5 682.3 449 682.1 449.5 681.9 450 681.5 450.5 681.2 451 681.2 451.5 681.0 452 680.8 452.5 680.6 453 680.4 453.5 680.0 454 679.9 454.5 679.6 455 679.5 455.5 679.3 456 678.9 456.5 678.7 457 678.5 457.5 678.3 458 678.1 458.5 677.7 459 677.6 459.5 677.5 460 677.3 460.5 676.9 461 676.7 461.5 676.8 462 676.5 462.5 676.2 463 675.8 463.5 675.6 464 675.4 464.5 675.2 465 675.2 465.5 674.9 466 674.6 466.5 674.3 467 674.0 467.5 673.8 468 673.7 468.5 673.4 469 673.2 469.5 673.0 470 672.8 470.5 672.6 471 672.3 471.5 671.9 472 671.8 472.5 671.7 473 671.3 473.5 671.1 474 670.8 474.5 670.7 475 670.4 475.5 670.1 476 670.0 476.5 669.9 477 669.7 477.5 669.5 478 669.3 478.5 669.0 479 668.8 479.5 668.7 480 668.4 480.5 668.2 481 667.9 481.5 667.8 482 667.6 482.5 667.4 483 667.4 483.5 667.2 484 667.0 484.5 666.8 485 666.7 485.5 666.7 486 666.4 486.5 666.2 487 666.0 487.5 665.9 488 665.8 488.5 665.7 489 665.6 489.5 665.6 490 665.6 490.5 665.3 491 665.2 491.5 665.2 492 665.4 492.5 665.3 493 665.0 493.5 664.9 494 664.7 494.5 664.7 495 664.7 495.5 664.6 496 664.4 496.5 664.4 497 664.4 497.5 664.3 498 664.1 498.5 664.2 499 664.3 499.5 664.1 500 664.0 500.5 663.9 501 664.0 501.5 663.8 502 663.7 502.5 663.8 503 664.0 503.5 663.7 504 663.5 504.5 663.6 505 663.6 505.5 663.6 506 663.2 506.5 663.1 507 663.1 507.5 663.2 508 663.2 508.5 663.1 509 662.8 509.5 662.7 510 662.8 510.5 662.8 511 662.7 511.5 662.5 512 662.4 512.5 662.5 513 662.6 513.5 662.7 514 662.4 514.5 662.4 515 662.1 515.5 662.0 516 662.0 516.5 662.0 517 661.9 517.5 661.9 518 661.9 518.5 661.9 519 661.9 519.5 661.9 520 661.9 520.5 662.0 521 661.9 521.5 661.8 522 661.7 522.5 661.7 523 661.7 523.5 661.6 524 661.8 524.5 661.8 525 661.7 525.5 661.5 526 661.3 526.5 661.4 527 661.5 527.5 661.6 528 661.5 528.5 661.5 529 661.6 529.5 661.5 530 661.6 530.5 661.6 531 661.4 531.5 661.5 532 661.4 532.5 661.3 533 661.3 533.5 661.3 534 661.5 534.5 661.6 535 661.6 535.5 661.5 536 661.5 536.5 661.5 537 661.4 537.5 661.4 538 661.7 538.5 661.7 539 661.6 539.5 661.7 540 661.8 540.5 661.9 541 661.7 541.5 661.8 542 662.0 542.5 661.8 543 661.8 543.5 661.5 544 661.8 544.5 661.7 545 661.5 545.5 661.8 546 661.9 546.5 661.9 547 661.9 547.5 661.7 548 661.6 548.5 661.6 549 661.7 549.5 661.7 550 661.7 550.5 661.7 551 661.8 551.5 661.8 552 662.0 552.5 662.0 553 661.6 553.5 661.5 554 661.5 554.5 661.5 555 661.7 555.5 661.5 556 661.5 556.5 661.6 557 661.7 557.5 661.6 558 661.5 558.5 661.6 559 661.6 559.5 661.5 560 661.5 560.5 661.3 561 661.3 561.5 661.2 562 661.3 562.5 661.3 563 661.1 563.5 661.1 564 661.0 564.5 661.1 565 661.0 565.5 660.7 566 660.7 566.5 660.7 567 660.7 567.5 660.6 568 660.6 568.5 660.4 569 660.4 569.5 660.4 570 660.2 570.5 660.2 571 660.0 571.5 659.8 572 659.9 572.5 660.0 573 660.0 573.5 659.9 574 660.0 574.5 660.0 575 659.8 575.5 659.7 576 659.5 576.5 659.3 577 659.3 577.5 659.3 578 659.1 578.5 658.9 579 658.7 579.5 658.8 580 658.6 580.5 658.4 581 658.4 581.5 658.3 582 658.1 582.5 658.1 583 657.9 583.5 657.5 584 657.4 584.5 657.4 585 657.3 585.5 657.1 586 656.6 586.5 656.6 587 656.6 587.5 656.5 588 656.3 588.5 655.8 589 655.6 589.5 655.4 590 655.3 590.5 655.0 591 655.0 591.5 654.9 592 654.5 592.5 654.0 593 653.9 593.5 653.8 594 653.4 594.5 653.3 595 653.1 595.5 653.0 596 652.7 596.5 652.4 597 652.1 597.5 651.8 598 651.6 598.5 651.4 599 651.1 599.5 650.8 600 650.3 600.5 650.2 601 649.9 601.5 649.7 602 649.3 602.5 649.1 603 648.8 603.5 648.3 604 647.9 604.5 647.5 605 647.1 605.5 646.6 606 646.3 606.5 645.9 607 645.4 607.5 645.0 608 644.6 608.5 644.4 609 644.0 609.5 643.6 610 642.9 610.5 642.4 611 642.0 611.5 641.5 612 641.2 612.5 640.7 613 640.3 613.5 640.0 614 639.7 614.5 639.4 615 638.9 615.5 638.3 616 638.0 616.5 637.5 617 637.2 617.5 636.8 618 636.5 618.5 636.4 619 635.8 619.5 635.4 620 635.0 620.5 634.7 621 634.5 621.5 633.8 622 633.3 622.5 633.0 623 632.4 623.5 632.0 624 631.8 624.5 631.2 625 630.5 625.5 630.0 626 629.4 626.5 628.9 627 628.5 627.5 628.1 628 627.5 628.5 626.6 629 626.0 629.5 625.4 630 624.5 630.5 623.9 631 623.2 631.5 622.4 632 621.7 632.5 621.1 633 620.1 633.5 619.4 634 618.7 634.5 617.9 635 617.1 635.5 616.4 636 615.5 636.5 614.5 637 613.6 637.5 612.6 638 611.7 638.5 611.0 639 610.1 639.5 609.1 640 608.3 640.5 607.2 641 606.4 641.5 605.4 642 604.4 642.5 603.6 643 602.5 643.5 601.8 644 600.8 644.5 600.0 645 599.3 645.5 598.2 646 597.1 646.5 596.2 647 595.3 647.5 594.3 648 593.4 648.5 592.8 649 591.9 649.5 590.8 650 590.1 650.5 589.4 651 588.4 651.5 587.4 652 586.6 652.5 585.5 653 584.7 653.5 583.8 654 582.3 654.5 581.5 655 580.5 655.5 579.4 656 578.1 656.5 577.0 657 575.8 657.5 574.9 658 573.8 658.5 572.4 659 571.2 659.5 570.0 660 568.9 660.5 567.7 661 566.4 661.5 565.0 662 563.4 662.5 562.0 663 561.2 663.5 560.0 664 558.2 664.5 556.8 665 555.7 665.5 554.5 666 553.1 666.5 551.7 667 550.1 667.5 548.7 668 547.2 668.5 545.7 669 544.4 669.5 542.9 670 541.3 670.5 539.6 671 538.0 671.5 536.2 672 534.4 672.5 532.3 673 530.7 673.5 529.2 674 527.2 674.5 525.2 675 523.1 675.5 521.5 676 519.4 676.5 517.2 677 515.1 677.5 513.1 678 511.1 678.5 508.7 679 506.3 679.5 504.4 680 502.6 680.5 500.4 681 498.2 681.5 496.3 682 494.3 682.5 492.2 683 489.9 683.5 488.1 684 486.6 684.5 484.8 685 483.2 685.5 481.7 686 479.8 686.5 478.0 687 476.3 687.5 474.7 688 473.1 688.5 471.3 689 469.8 689.5 468.9 690 467.5 690.5 466.2 691 464.8 691.5 463.4 692 462.2 692.5 460.9 693 459.4 693.5 458.3 694 456.9 694.5 456.0 695 455.2 695.5 453.8 696 452.8 696.5 451.5 697 450.6 697.5 449.7 698 448.8 698.5 447.8 699 447.0 699.5 446.3 700 445.3 700.5 444.7 701 444.4 701.5 443.5 702 442.8 702.5 442.2 703 442.0 703.5 441.5 704 441.2 704.5 440.9 705 440.8 705.5 439.9 706 439.2 706.5 439.3 707 439.3 707.5 439.1 708 438.9 708.5 439.4 709 439.5 709.5 439.4 710 439.4 710.5 440.0 711 440.4 711.5 440.8 712 440.8 712.5 440.9 713 441.3 713.5 441.7 714 442.2 714.5 442.5 715 443.1 715.5 443.8 716 444.4 716.5 444.9 717 445.6 717.5 446.5 718 447.4 718.5 448.4 719 449.3 719.5 450.0 720 451.5 720.5 453.0 721 454.1 721.5 455.1 722 456.2 722.5 457.0 723 457.9 723.5 459.4 724 460.6 724.5 461.6 725 462.6 725.5 463.6 726 464.7 726.5 465.8 727 466.9 727.5 468.0 728 468.9 728.5 470.1 729 471.4 729.5 472.3 730 473.2 730.5 474.5 731 475.7 731.5 477.4 732 478.7 732.5 479.7 733 480.6 733.5 481.7 734 483.2 734.5 484.5 735 485.8 735.5 487.3 736 488.9 736.5 490.3 737 491.4 737.5 492.8 738 494.7 738.5 496.4 739 498.3 739.5 500.2 740 501.9 740.5 503.3 741 505.1 741.5 506.9 742 508.3 742.5 510.0 743 511.8 743.5 513.4 744 515.0 744.5 516.7 745 518.6 745.5 520.5 746 522.4 746.5 524.3 747 526.3 747.5 528.1 748 529.6 748.5 531.7 749 533.6 749.5 535.7 750 537.5 750.5 539.3 751 541.3 751.5 543.1 752 545.2 752.5 547.2 753 549.0 753.5 551.0 754 552.8 754.5 554.7 755 556.5 755.5 558.5 756 560.4 756.5 562.1 757 564.0 757.5 566.1 758 567.6 758.5 569.4 759 571.3 759.5 573.5 760 575.5 760.5 577.7 761 579.9 761.5 582.4 762 585.0 762.5 587.5 763 589.6 763.5 591.7 764 593.9 764.5 595.9 765 598.0 765.5 600.1 766 601.9 766.5 604.1 767 605.9 767.5 607.8 768 609.8 768.5 611.7 769 613.5 769.5 615.3 770 617.3 770.5 619.2 771 620.8 771.5 622.5 772 624.2 772.5 626.1 773 628.0 773.5 629.7 774 631.3 774.5 632.9 775 634.3 775.5 635.7 776 637.2 776.5 638.8 777 639.8 777.5 641.3 778 642.7 778.5 644.0 779 645.5 779.5 646.7 780 647.8 780.5 648.8 781 650.1 781.5 651.2 782 652.4 782.5 653.6 783 654.7 783.5 656.0 784 657.2 784.5 658.3 785 659.2 785.5 660.1 786 661.4 786.5 662.5 787 663.4 787.5 664.4 788 665.5 788.5 666.5 789 667.6 789.5 668.5 790 669.5 790.5 670.6 791 671.5 791.5 672.6 792 673.7 792.5 674.6 793 675.6 793.5 676.5 794 677.5 794.5 678.4 795 679.2 795.5 680.0 796 680.8 796.5 681.7 797 682.6 797.5 683.6 798 684.4 798.5 685.0 799 685.9 799.5 686.6 800 687.3 800.5 688.1 801 688.8 801.5 689.3 802 690.0 802.5 690.6 803 691.2 803.5 691.9 804 692.4 804.5 693.0 805 693.5 805.5 694.2 806 694.8 806.5 695.2 807 695.7 807.5 696.2 808 696.7 808.5 697.3 809 697.7 809.5 698.1 810 698.5 810.5 698.9 811 699.4 811.5 700.0 812 700.3 812.5 700.5 813 701.0 813.5 701.4 814 701.8 814.5 702.1 815 702.4 815.5 702.7 816 703.0 816.5 703.3 817 703.6 817.5 703.9 818 704.1 818.5 704.4 819 704.7 819.5 704.9 820 705.2 820.5 705.5 821 705.7 821.5 705.9 822 706.2 822.5 706.5 823 706.7 823.5 707.0 824 707.2 824.5 707.4 825 707.7 825.5 707.9 826 708.1 826.5 708.3 827 708.6 827.5 708.9 828 709.1 828.5 709.2 829 709.4 829.5 709.6 830 709.8 830.5 710.1 831 710.2 831.5 710.3 832 710.5 832.5 710.6 833 710.7 833.5 710.8 834 710.9 834.5 711.1 835 711.3 835.5 711.4 836 711.4 836.5 711.5 837 711.6 837.5 711.9 838 711.9 838.5 712.0 839 712.1 839.5 712.2 840 712.3 840.5 712.3 841 712.4 841.5 712.5 842 712.6 842.5 712.7 843 712.7 843.5 712.7 844 712.8 844.5 713.0 845 713.1 845.5 713.0 846 713.2 846.5 713.2 847 713.2 847.5 713.3 848 713.3 848.5 713.4 849 713.4 849.5 713.4 850 713.6 850.5 713.6 851 713.6 851.5 713.6 852 713.7 852.5 713.8 853 713.9 853.5 713.9 854 713.9 854.5 713.9 855 714.0 855.5 714.1 856 714.2 856.5 714.2 857 714.2 857.5 714.3 858 714.3 858.5 714.4 859 714.4 859.5 714.4 860 714.5 860.5 714.6 861 714.6 861.5 714.7 862 714.8 862.5 714.8 863 714.9 863.5 714.9 864 715.0 864.5 715.0 865 715.1 865.5 715.1 866 715.1 866.5 715.1 867 715.2 867.5 715.2 868 715.3 868.5 715.4 869 715.4 869.5 715.5 870 715.6 870.5 715.6 871 715.6 871.5 715.7 872 715.7 872.5 715.8 873 715.9 873.5 715.9 874 716.0 874.5 716.0 875 716.0 875.5 716.0 876 716.1 876.5 716.1 877 716.2 877.5 716.2 878 716.3 878.5 716.3 879 716.3 879.5 716.3 880 716.3 880.5 716.3 881 716.3 881.5 716.3 882 716.3 882.5 716.3 883 716.3 883.5 716.4 884 716.3 884.5 716.3 885 716.4 885.5 716.4 886 716.4 886.5 716.4 887 716.4 887.5 716.4 888 716.4 888.5 716.4 889 716.5 889.5 716.5 890 716.4 890.5 716.4 891 716.5 891.5 716.5 892 716.5 892.5 716.4 893 716.4 893.5 716.5 894 716.5 894.5 716.6 895 716.5 895.5 716.5 896 716.5 896.5 716.5 897 716.5 897.5 716.6 898 716.6 898.5 716.5 899 716.5 899.5 716.6 900 716.6 900.5 716.6 901 716.6 901.5 716.6 902 716.6 902.5 716.6 903 716.6 903.5 716.6 904 716.6 904.5 716.6 905 716.6 905.5 716.6 906 716.6 906.5 716.6 907 716.6 907.5 716.6 908 716.6 908.5 716.7 909 716.7 909.5 716.6 910 716.7 910.5 716.7 911 716.7 911.5 716.7 912 716.7 912.5 716.7 913 716.7 913.5 716.7 914 716.7 914.5 716.7 915 716.7 915.5 716.7 916 716.7 916.5 716.7 917 716.7 917.5 716.7 918 716.7 918.5 716.7 919 716.8 919.5 716.8 920 716.7 920.5 716.8 921 716.8 921.5 716.8 922 716.8 922.5 716.8 923 716.7 923.5 716.7 924 716.7 924.5 716.8 925 716.8 925.5 716.7 926 716.7 926.5 716.7 927 716.7 927.5 716.7 928 716.8 928.5 716.8 929 716.8 929.5 716.8 930 716.8 930.5 716.8 931 716.8 931.5 716.8 932 716.8 932.5 716.8 933 716.8 933.5 716.8 934 716.8 934.5 716.8 935 716.7 935.5 716.7 936 716.8 936.5 716.8 937 716.8 937.5 716.8 938 716.8 938.5 716.9 939 716.8 939.5 716.8 940 716.8 940.5 716.8 941 716.8 941.5 716.8 942 716.9 942.5 716.9 943 716.8 943.5 716.8 944 716.8" fill="none" stroke="#000000" stroke-width="5.5" stroke-linejoin="round" stroke-linecap="round"/>
<path d="M162 714.0 162.5 714.0 163 714.0 163.5 714.0 164 714.0 164.5 714.0 165 714.0 165.5 714.0 166 714.0 166.5 714.0 167 714.0 167.5 714.0 168 714.0 168.5 714.0 169 714.0 169.5 714.0 170 714.0 170.5 714.0 171 714.0 171.5 714.0 172 714.0 172.5 714.0 173 714.0 173.5 713.9 174 714.0 174.5 714.0 175 714.0 175.5 713.9 176 713.9 176.5 714.0 177 714.0 177.5 714.0 178 714.0 178.5 714.0 179 714.0 179.5 714.0 180 714.0 180.5 714.0 181 714.0 181.5 714.0 182 714.0 182.5 714.0 183 714.0 183.5 714.0 184 714.0 184.5 714.0 185 714.0 185.5 713.9 186 714.0 186.5 714.0 187 714.0 187.5 713.9 188 713.9 188.5 714.0 189 714.0 189.5 714.0 190 714.0 190.5 714.0 191 714.0 191.5 713.9 192 713.9 192.5 713.9 193 714.0 193.5 714.0 194 714.0 194.5 714.0 195 713.9 195.5 713.8 196 713.9 196.5 713.9 197 713.9 197.5 713.9 198 714.0 198.5 714.0 199 713.9 199.5 713.9 200 713.9 200.5 714.0 201 713.9 201.5 713.9 202 714.0 202.5 713.9 203 713.9 203.5 713.9 204 713.9 204.5 713.9 205 713.9 205.5 713.9 206 713.9 206.5 713.9 207 713.9 207.5 713.9 208 713.9 208.5 713.9 209 713.9 209.5 713.9 210 713.9 210.5 713.9 211 713.9 211.5 713.9 212 713.8 212.5 713.9 213 713.9 213.5 713.8 214 713.9 214.5 713.9 215 713.9 215.5 713.9 216 713.9 216.5 713.9 217 713.9 217.5 713.9 218 713.8 218.5 713.9 219 713.9 219.5 713.9 220 713.9 220.5 713.8 221 713.8 221.5 713.9 222 713.9 222.5 713.8 223 713.8 223.5 713.8 224 713.8 224.5 713.8 225 713.9 225.5 713.9 226 713.8 226.5 713.8 227 713.8 227.5 713.8 228 713.8 228.5 713.8 229 713.8 229.5 713.8 230 713.8 230.5 713.8 231 713.8 231.5 713.8 232 713.8 232.5 713.7 233 713.8 233.5 713.8 234 713.8 234.5 713.8 235 713.8 235.5 713.8 236 713.8 236.5 713.8 237 713.8 237.5 713.8 238 713.7 238.5 713.7 239 713.7 239.5 713.7 240 713.8 240.5 713.7 241 713.7 241.5 713.7 242 713.7 242.5 713.7 243 713.7 243.5 713.7 244 713.6 244.5 713.7 245 713.7 245.5 713.7 246 713.7 246.5 713.7 247 713.6 247.5 713.6 248 713.6 248.5 713.6 249 713.6 249.5 713.6 250 713.7 250.5 713.6 251 713.6 251.5 713.6 252 713.6 252.5 713.6 253 713.6 253.5 713.6 254 713.6 254.5 713.6 255 713.6 255.5 713.5 256 713.5 256.5 713.6 257 713.6 257.5 713.6 258 713.6 258.5 713.5 259 713.6 259.5 713.6 260 713.6 260.5 713.6 261 713.6 261.5 713.6 262 713.5 262.5 713.5 263 713.5 263.5 713.5 264 713.5 264.5 713.5 265 713.4 265.5 713.4 266 713.5 266.5 713.5 267 713.5 267.5 713.5 268 713.5 268.5 713.5 269 713.5 269.5 713.5 270 713.5 270.5 713.5 271 713.5 271.5 713.4 272 713.4 272.5 713.4 273 713.4 273.5 713.5 274 713.4 274.5 713.4 275 713.5 275.5 713.4 276 713.4 276.5 713.4 277 713.4 277.5 713.4 278 713.4 278.5 713.4 279 713.3 279.5 713.3 280 713.3 280.5 713.3 281 713.3 281.5 713.4 282 713.4 282.5 713.4 283 713.3 283.5 713.4 284 713.3 284.5 713.3 285 713.3 285.5 713.3 286 713.3 286.5 713.3 287 713.3 287.5 713.3 288 713.3 288.5 713.2 289 713.2 289.5 713.2 290 713.2 290.5 713.2 291 713.2 291.5 713.2 292 713.2 292.5 713.1 293 713.1 293.5 713.1 294 713.1 294.5 713.1 295 713.1 295.5 713.1 296 713.1 296.5 713.1 297 713.1 297.5 713.0 298 713.0 298.5 713.0 299 713.0 299.5 713.0 300 713.0 300.5 713.0 301 712.9 301.5 712.9 302 713.0 302.5 712.9 303 712.9 303.5 712.9 304 712.9 304.5 712.8 305 712.8 305.5 712.8 306 712.7 306.5 712.8 307 712.7 307.5 712.7 308 712.7 308.5 712.6 309 712.6 309.5 712.6 310 712.6 310.5 712.6 311 712.6 311.5 712.5 312 712.5 312.5 712.5 313 712.5 313.5 712.5 314 712.5 314.5 712.5 315 712.4 315.5 712.4 316 712.4 316.5 712.3 317 712.3 317.5 712.3 318 712.3 318.5 712.2 319 712.2 319.5 712.3 320 712.2 320.5 712.2 321 712.2 321.5 712.2 322 712.2 322.5 712.1 323 712.1 323.5 712.2 324 712.1 324.5 712.0 325 712.0 325.5 712.0 326 711.9 326.5 712.0 327 712.0 327.5 712.0 328 711.9 328.5 711.9 329 711.8 329.5 711.8 330 711.8 330.5 711.8 331 711.8 331.5 711.9 332 711.8 332.5 711.8 333 711.8 333.5 711.8 334 711.8 334.5 711.8 335 711.8 335.5 711.8 336 711.8 336.5 711.9 337 712.0 337.5 712.1 338 712.3 338.5 712.5 339 712.6 339.5 712.7 340 712.8 340.5 712.8 341 712.9 341.5 713.0 342 713.0 342.5 713.0 343 713.0 343.5 713.0 344 713.0 344.5 713.0 345 713.0 345.5 713.0 346 713.0 346.5 713.0 347 712.9 347.5 712.9 348 712.9 348.5 712.9 349 713.0 349.5 712.9 350 712.9 350.5 712.9 351 712.9 351.5 712.9 352 712.8 352.5 712.9 353 712.9 353.5 712.9 354 712.8 354.5 712.8 355 712.7 355.5 712.7 356 712.7 356.5 712.6 357 712.7 357.5 712.7 358 712.6 358.5 712.6 359 712.6 359.5 712.6 360 712.6 360.5 712.6 361 712.6 361.5 712.5 362 712.5 362.5 712.4 363 712.4 363.5 712.4 364 712.4 364.5 712.3 365 712.3 365.5 712.3 366 712.2 366.5 712.2 367 712.2 367.5 712.2 368 712.2 368.5 712.2 369 712.1 369.5 712.0 370 712.0 370.5 712.0 371 711.9 371.5 711.8 372 711.8 372.5 711.7 373 711.7 373.5 711.7 374 711.6 374.5 711.6 375 711.5 375.5 711.4 376 711.4 376.5 711.3 377 711.2 377.5 711.1 378 711.1 378.5 711.1 379 711.0 379.5 710.9 380 710.8 380.5 710.7 381 710.7 381.5 710.7 382 710.7 382.5 710.6 383 710.5 383.5 710.4 384 710.3 384.5 710.3 385 710.3 385.5 710.0 386 709.9 386.5 709.9 387 709.8 387.5 709.7 388 709.7 388.5 709.5 389 709.4 389.5 709.4 390 709.4 390.5 709.3 391 709.2 391.5 709.1 392 709.0 392.5 708.9 393 708.7 393.5 708.7 394 708.7 394.5 708.7 395 708.6 395.5 708.4 396 708.2 396.5 708.2 397 708.1 397.5 707.9 398 707.8 398.5 707.8 399 707.7 399.5 707.6 400 707.5 400.5 707.3 401 707.2 401.5 707.1 402 707.1 402.5 707.0 403 706.8 403.5 706.6 404 706.7 404.5 706.5 405 706.4 405.5 706.3 406 706.2 406.5 706.0 407 705.9 407.5 705.9 408 705.8 408.5 705.6 409 705.4 409.5 705.4 410 705.3 410.5 705.1 411 705.0 411.5 704.8 412 704.7 412.5 704.6 413 704.5 413.5 704.4 414 704.2 414.5 704.1 415 703.9 415.5 703.7 416 703.6 416.5 703.5 417 703.4 417.5 703.4 418 703.2 418.5 703.1 419 703.0 419.5 702.7 420 702.7 420.5 702.6 421 702.4 421.5 702.3 422 702.2 422.5 702.2 423 702.0 423.5 701.9 424 701.8 424.5 701.7 425 701.6 425.5 701.5 426 701.2 426.5 701.1 427 701.0 427.5 700.8 428 700.7 428.5 700.6 429 700.4 429.5 700.2 430 700.1 430.5 700.0 431 699.8 431.5 699.6 432 699.6 432.5 699.5 433 699.3 433.5 699.2 434 699.0 434.5 698.9 435 698.8 435.5 698.6 436 698.5 436.5 698.4 437 698.1 437.5 697.9 438 697.8 438.5 697.7 439 697.5 439.5 697.3 440 697.3 440.5 697.1 441 696.9 441.5 696.8 442 696.7 442.5 696.7 443 696.5 443.5 696.1 444 695.9 444.5 695.8 445 695.7 445.5 695.5 446 695.4 446.5 695.2 447 694.9 447.5 694.8 448 694.9 448.5 694.7 449 694.4 449.5 694.3 450 694.1 450.5 693.9 451 693.7 451.5 693.7 452 693.5 452.5 693.3 453 693.0 453.5 693.1 454 693.0 454.5 692.7 455 692.7 455.5 692.6 456 692.3 456.5 692.1 457 692.2 457.5 692.0 458 691.9 458.5 691.7 459 691.5 459.5 691.5 460 691.3 460.5 691.2 461 690.9 461.5 690.8 462 690.7 462.5 690.7 463 690.4 463.5 690.3 464 690.3 464.5 690.2 465 690.2 465.5 690.1 466 689.8 466.5 689.6 467 689.2 467.5 689.1 468 689.0 468.5 688.8 469 688.6 469.5 688.4 470 688.3 470.5 688.2 471 688.0 471.5 687.7 472 687.6 472.5 687.4 473 687.1 473.5 686.9 474 686.7 474.5 686.7 475 686.6 475.5 686.4 476 686.2 476.5 686.0 477 686.0 477.5 685.6 478 685.3 478.5 685.2 479 685.2 479.5 685.1 480 685.0 480.5 684.8 481 684.6 481.5 684.3 482 684.2 482.5 684.0 483 683.9 483.5 683.8 484 683.8 484.5 683.6 485 683.4 485.5 683.4 486 683.3 486.5 683.1 487 683.0 487.5 683.0 488 682.8 488.5 682.8 489 682.6 489.5 682.6 490 682.4 490.5 682.2 491 682.2 491.5 682.1 492 681.9 492.5 681.7 493 681.6 493.5 681.5 494 681.4 494.5 681.4 495 681.3 495.5 681.1 496 681.0 496.5 681.0 497 681.0 497.5 680.9 498 680.6 498.5 680.6 499 680.4 499.5 680.3 500 680.2 500.5 680.1 501 679.8 501.5 679.7 502 679.9 502.5 679.9 503 679.7 503.5 679.6 504 679.5 504.5 679.4 505 679.3 505.5 679.2 506 679.1 506.5 678.9 507 678.9 507.5 678.8 508 678.6 508.5 678.7 509 678.7 509.5 678.6 510 678.5 510.5 678.3 511 678.2 511.5 678.1 512 678.2 512.5 678.3 513 678.2 513.5 678.0 514 677.9 514.5 677.9 515 677.8 515.5 677.7 516 677.6 516.5 677.8 517 677.7 517.5 677.4 518 677.3 518.5 677.4 519 677.5 519.5 677.5 520 677.4 520.5 677.2 521 677.4 521.5 677.4 522 677.3 522.5 677.2 523 677.3 523.5 677.2 524 677.1 524.5 677.1 525 677.1 525.5 677.2 526 677.2 526.5 677.0 527 677.1 527.5 677.2 528 676.9 528.5 677.1 529 677.2 529.5 677.0 530 677.0 530.5 677.0 531 677.0 531.5 676.9 532 676.9 532.5 677.1 533 677.2 533.5 677.3 534 677.3 534.5 677.4 535 677.4 535.5 677.4 536 677.3 536.5 677.4 537 677.8 537.5 677.7 538 677.6 538.5 677.6 539 677.6 539.5 677.5 540 677.6 540.5 677.5 541 677.5 541.5 677.6 542 677.4 542.5 677.4 543 677.3 543.5 677.4 544 677.4 544.5 677.4 545 677.4 545.5 677.4 546 677.4 546.5 677.3 547 677.3 547.5 677.3 548 677.3 548.5 677.3 549 677.3 549.5 677.3 550 677.3 550.5 677.4 551 677.2 551.5 677.1 552 677.1 552.5 676.9 553 677.1 553.5 677.0 554 676.9 554.5 677.0 555 677.0 555.5 677.1 556 677.0 556.5 677.1 557 677.0 557.5 676.7 558 676.6 558.5 676.7 559 676.5 559.5 676.4 560 676.3 560.5 676.1 561 676.1 561.5 675.9 562 675.8 562.5 675.9 563 676.0 563.5 675.9 564 675.7 564.5 675.5 565 675.5 565.5 675.5 566 675.3 566.5 675.1 567 675.1 567.5 675.2 568 675.2 568.5 674.8 569 674.5 569.5 674.6 570 674.6 570.5 674.5 571 674.5 571.5 674.3 572 674.0 572.5 673.8 573 673.9 573.5 673.8 574 673.7 574.5 673.5 575 673.4 575.5 673.3 576 673.2 576.5 673.2 577 673.2 577.5 673.2 578 672.9 578.5 672.7 579 672.8 579.5 672.6 580 672.5 580.5 672.4 581 672.3 581.5 672.1 582 671.9 582.5 671.7 583 671.4 583.5 671.2 584 671.1 584.5 671.0 585 670.8 585.5 670.7 586 670.4 586.5 670.2 587 670.0 587.5 670.0 588 669.9 588.5 669.6 589 669.5 589.5 669.4 590 669.2 590.5 668.8 591 668.7 591.5 668.8 592 668.8 592.5 668.5 593 668.3 593.5 668.2 594 668.1 594.5 668.1 595 667.7 595.5 667.5 596 667.7 596.5 667.7 597 667.5 597.5 667.5 598 667.4 598.5 667.0 599 667.0 599.5 667.0 600 666.8 600.5 666.7 601 666.6 601.5 666.3 602 666.1 602.5 665.9 603 665.7 603.5 665.7 604 665.4 604.5 665.3 605 665.0 605.5 664.8 606 664.5 606.5 664.4 607 664.4 607.5 664.2 608 664.0 608.5 663.6 609 663.4 609.5 663.1 610 662.9 610.5 662.6 611 662.5 611.5 662.2 612 662.0 612.5 661.7 613 661.4 613.5 661.0 614 660.7 614.5 660.4 615 660.3 615.5 660.1 616 659.9 616.5 659.6 617 659.6 617.5 659.2 618 659.0 618.5 658.6 619 658.0 619.5 657.9 620 657.8 620.5 657.2 621 657.1 621.5 656.8 622 656.5 622.5 656.2 623 655.8 623.5 655.6 624 655.3 624.5 655.0 625 655.0 625.5 655.0 626 654.4 626.5 654.0 627 653.6 627.5 653.3 628 653.1 628.5 653.0 629 652.6 629.5 652.3 630 652.0 630.5 651.8 631 651.2 631.5 651.0 632 650.8 632.5 650.4 633 649.9 633.5 649.6 634 649.4 634.5 649.1 635 648.6 635.5 648.3 636 648.2 636.5 647.9 637 647.3 637.5 646.8 638 646.6 638.5 646.5 639 645.9 639.5 645.4 640 645.1 640.5 644.8 641 644.1 641.5 643.3 642 642.8 642.5 642.3 643 641.7 643.5 641.1 644 640.6 644.5 640.0 645 639.6 645.5 638.9 646 638.1 646.5 637.5 647 637.0 647.5 636.6 648 635.9 648.5 635.0 649 634.0 649.5 633.5 650 632.9 650.5 632.2 651 631.4 651.5 630.7 652 630.1 652.5 629.8 653 628.9 653.5 627.9 654 627.1 654.5 626.3 655 625.6 655.5 624.7 656 624.0 656.5 623.3 657 622.5 657.5 621.7 658 620.9 658.5 619.9 659 618.8 659.5 617.8 660 617.1 660.5 616.4 661 615.6 661.5 614.8 662 613.7 662.5 612.7 663 612.0 663.5 611.2 664 610.1 664.5 609.2 665 608.4 665.5 607.3 666 606.2 666.5 605.1 667 604.5 667.5 603.6 668 602.5 668.5 601.4 669 600.3 669.5 599.4 670 598.5 670.5 597.5 671 596.3 671.5 595.4 672 594.2 672.5 593.0 673 591.5 673.5 590.4 674 589.3 674.5 587.7 675 586.1 675.5 584.9 676 583.6 676.5 581.9 677 580.4 677.5 579.1 678 577.5 678.5 576.1 679 574.1 679.5 572.2 680 570.7 680.5 569.1 681 567.0 681.5 565.1 682 563.3 682.5 561.4 683 559.9 683.5 558.1 684 556.1 684.5 554.0 685 552.0 685.5 550.3 686 549.0 686.5 547.6 687 546.2 687.5 544.8 688 543.1 688.5 541.5 689 540.3 689.5 539.0 690 537.3 690.5 535.9 691 534.3 691.5 532.8 692 531.3 692.5 529.3 693 527.6 693.5 526.1 694 524.3 694.5 522.5 695 520.9 695.5 519.4 696 517.9 696.5 516.6 697 515.3 697.5 514.1 698 512.7 698.5 511.2 699 509.6 699.5 508.2 700 506.9 700.5 506.0 701 504.3 701.5 503.0 702 501.7 702.5 499.9 703 498.5 703.5 497.2 704 495.8 704.5 494.4 705 493.3 705.5 492.4 706 491.0 706.5 489.4 707 487.9 707.5 486.3 708 485.2 708.5 483.8 709 482.1 709.5 480.9 710 479.4 710.5 477.9 711 476.5 711.5 475.1 712 473.9 712.5 472.9 713 471.7 713.5 470.5 714 469.1 714.5 468.0 715 467.1 715.5 465.5 716 464.7 716.5 463.6 717 462.3 717.5 461.1 718 460.0 718.5 458.8 719 457.8 719.5 457.0 720 455.9 720.5 455.5 721 454.5 721.5 452.7 722 452.0 722.5 451.7 723 451.0 723.5 450.2 724 449.4 724.5 448.8 725 448.1 725.5 447.5 726 446.5 726.5 445.6 727 444.5 727.5 443.9 728 443.2 728.5 443.2 729 442.9 729.5 441.9 730 440.9 730.5 440.6 731 440.3 731.5 440.0 732 439.8 732.5 439.2 733 438.4 733.5 438.7 734 438.5 734.5 438.6 735 439.1 735.5 439.0 736 438.9 736.5 439.3 737 440.1 737.5 440.8 738 441.3 738.5 441.5 739 442.1 739.5 443.0 740 443.6 740.5 444.5 741 445.1 741.5 445.8 742 446.5 742.5 447.3 743 447.9 743.5 448.6 744 449.4 744.5 450.2 745 451.2 745.5 452.1 746 452.8 746.5 453.7 747 454.8 747.5 456.1 748 456.8 748.5 457.6 749 458.8 749.5 460.1 750 461.2 750.5 462.3 751 463.6 751.5 464.9 752 466.3 752.5 467.5 753 468.4 753.5 469.6 754 470.8 754.5 472.8 755 474.4 755.5 475.7 756 476.9 756.5 478.3 757 479.5 757.5 480.7 758 481.8 758.5 483.3 759 485.0 759.5 486.8 760 488.4 760.5 489.5 761 491.1 761.5 492.6 762 493.8 762.5 495.2 763 496.9 763.5 498.5 764 500.3 764.5 502.0 765 503.7 765.5 505.3 766 507.0 766.5 508.6 767 510.3 767.5 511.7 768 513.6 768.5 515.4 769 516.8 769.5 518.5 770 520.5 770.5 522.2 771 524.1 771.5 525.9 772 527.5 772.5 529.3 773 531.2 773.5 532.8 774 534.4 774.5 536.3 775 538.2 775.5 540.0 776 541.8 776.5 543.5 777 545.2 777.5 546.9 778 548.7 778.5 550.8 779 552.5 779.5 554.2 780 555.8 780.5 557.6 781 559.5 781.5 561.6 782 562.8 782.5 564.5 783 566.7 783.5 568.5 784 570.1 784.5 572.5 785 574.9 785.5 577.2 786 579.8 786.5 582.2 787 584.5 787.5 586.9 788 589.1 788.5 591.2 789 593.6 789.5 595.3 790 597.2 790.5 599.3 791 601.2 791.5 603.1 792 604.8 792.5 606.6 793 608.4 793.5 610.2 794 611.9 794.5 613.7 795 615.6 795.5 617.1 796 618.7 796.5 620.5 797 622.3 797.5 624.0 798 625.6 798.5 627.0 799 628.6 799.5 630.1 800 631.5 800.5 632.9 801 634.1 801.5 635.6 802 636.8 802.5 637.9 803 639.3 803.5 640.6 804 641.6 804.5 642.8 805 643.8 805.5 644.8 806 645.9 806.5 647.2 807 648.6 807.5 649.6 808 650.6 808.5 651.8 809 652.9 809.5 653.9 810 655.0 810.5 656.0 811 657.1 811.5 658.3 812 659.2 812.5 660.4 813 661.3 813.5 662.5 814 663.6 814.5 664.5 815 665.5 815.5 666.7 816 667.8 816.5 668.8 817 669.9 817.5 671.0 818 671.8 818.5 672.8 819 673.6 819.5 674.6 820 675.7 820.5 676.7 821 677.4 821.5 678.2 822 679.0 822.5 679.7 823 680.5 823.5 681.2 824 681.9 824.5 682.8 825 683.5 825.5 684.2 826 684.7 826.5 685.4 827 686.0 827.5 686.6 828 687.1 828.5 687.9 829 688.5 829.5 688.9 830 689.4 830.5 690.1 831 690.8 831.5 691.3 832 691.8 832.5 692.4 833 692.9 833.5 693.5 834 694.1 834.5 694.6 835 695.1 835.5 695.5 836 696.0 836.5 696.5 837 697.0 837.5 697.5 838 697.8 838.5 698.3 839 698.7 839.5 699.0 840 699.4 840.5 699.9 841 700.3 841.5 700.5 842 700.9 842.5 701.1 843 701.5 843.5 701.9 844 702.2 844.5 702.4 845 702.6 845.5 702.9 846 703.2 846.5 703.5 847 703.8 847.5 704.1 848 704.3 848.5 704.5 849 704.7 849.5 705.0 850 705.2 850.5 705.5 851 705.6 851.5 705.9 852 706.1 852.5 706.2 853 706.5 853.5 706.7 854 706.8 854.5 707.0 855 707.2 855.5 707.5 856 707.7 856.5 707.8 857 707.9 857.5 708.2 858 708.4 858.5 708.5 859 708.6 859.5 708.7 860 709.0 860.5 709.2 861 709.2 861.5 709.4 862 709.5 862.5 709.6 863 709.7 863.5 709.8 864 710.0 864.5 710.2 865 710.3 865.5 710.5 866 710.6 866.5 710.7 867 710.8 867.5 711.0 868 711.1 868.5 711.1 869 711.3 869.5 711.3 870 711.4 870.5 711.5 871 711.4 871.5 711.5 872 711.7 872.5 711.8 873 711.8 873.5 712.0 874 712.0 874.5 712.0 875 712.1 875.5 712.3 876 712.3 876.5 712.3 877 712.4 877.5 712.4 878 712.4 878.5 712.5 879 712.5 879.5 712.6 880 712.7 880.5 712.7 881 712.7 881.5 712.7 882 712.7 882.5 712.7 883 712.7 883.5 712.7 884 712.8 884.5 712.8 885 712.8 885.5 712.9 886 712.9 886.5 712.8 887 712.8 887.5 712.9 888 712.9 888.5 712.9 889 712.9 889.5 713.0 890 713.0 890.5 713.1 891 713.1 891.5 713.1 892 713.1 892.5 713.2 893 713.1 893.5 713.1 894 713.1 894.5 713.1 895 713.1 895.5 713.1 896 713.2 896.5 713.2 897 713.2 897.5 713.2 898 713.2 898.5 713.2 899 713.2 899.5 713.2 900 713.2 900.5 713.3 901 713.2 901.5 713.2 902 713.3 902.5 713.3 903 713.3 903.5 713.3 904 713.3 904.5 713.4 905 713.4 905.5 713.4 906 713.4 906.5 713.4 907 713.4 907.5 713.4 908 713.5 908.5 713.5 909 713.5 909.5 713.5 910 713.5 910.5 713.5 911 713.5 911.5 713.5 912 713.5 912.5 713.5 913 713.5 913.5 713.5 914 713.5 914.5 713.6 915 713.6 915.5 713.5 916 713.6 916.5 713.6 917 713.6 917.5 713.6 918 713.6 918.5 713.6 919 713.6 919.5 713.6 920 713.7 920.5 713.6 921 713.6 921.5 713.7 922 713.7 922.5 713.7 923 713.6 923.5 713.7 924 713.6 924.5 713.7 925 713.7 925.5 713.7 926 713.7 926.5 713.7 927 713.7 927.5 713.6 928 713.7 928.5 713.8 929 713.8 929.5 713.8 930 713.8 930.5 713.8 931 713.7 931.5 713.8 932 713.8 932.5 713.8 933 713.8 933.5 713.7 934 713.7 934.5 713.7 935 713.8 935.5 713.8 936 713.8 936.5 713.8 937 713.8 937.5 713.8 938 713.8 938.5 713.9 939 713.8 939.5 713.8 940 713.8 940.5 713.8 941 713.8 941.5 713.8 942 713.8 942.5 713.8 943 713.8 943.5 713.8 944 713.8" fill="none" stroke="#0000ff" stroke-width="5.5" stroke-linejoin="round" stroke-linecap="round"/>
<path d="M162 713.9 162.5 713.8 163 713.8 163.5 713.9 164 713.8 164.5 713.7 165 713.9 165.5 714.0 166 713.9 166.5 713.8 167 713.7 167.5 713.9 168 713.9 168.5 713.9 169 713.9 169.5 713.7 170 713.8 170.5 713.8 171 713.6 171.5 713.5 172 713.6 172.5 713.7 173 713.7 173.5 713.7 174 713.7 174.5 713.7 175 713.7 175.5 713.7 176 713.7 176.5 713.7 177 713.7 177.5 713.6 178 713.7 178.5 713.7 179 713.8 179.5 713.7 180 713.6 180.5 713.6 181 713.6 181.5 713.6 182 713.6 182.5 713.5 183 713.5 183.5 713.6 184 713.6 184.5 713.7 185 713.7 185.5 713.5 186 713.4 186.5 713.4 187 713.3 187.5 713.4 188 713.6 188.5 713.6 189 713.5 189.5 713.4 190 713.4 190.5 713.3 191 713.5 191.5 713.5 192 713.6 192.5 713.5 193 713.5 193.5 713.5 194 713.5 194.5 713.4 195 713.5 195.5 713.4 196 713.3 196.5 713.4 197 713.5 197.5 713.5 198 713.6 198.5 713.4 199 713.1 199.5 713.2 200 713.1 200.5 713.3 201 713.4 201.5 713.2 202 713.2 202.5 713.3 203 713.3 203.5 713.5 204 713.4 204.5 713.4 205 713.5 205.5 713.3 206 713.2 206.5 713.2 207 713.3 207.5 713.4 208 713.4 208.5 713.3 209 713.1 209.5 713.1 210 713.0 210.5 713.2 211 713.3 211.5 712.9 212 712.9 212.5 713.2 213 713.1 213.5 713.1 214 713.1 214.5 713.2 215 713.2 215.5 713.2 216 713.2 216.5 713.2 217 713.2 217.5 713.3 218 713.2 218.5 713.0 219 712.9 219.5 713.0 220 713.0 220.5 713.0 221 713.0 221.5 713.1 222 713.0 222.5 713.0 223 713.0 223.5 713.0 224 712.9 224.5 713.1 225 713.0 225.5 713.0 226 713.0 226.5 713.1 227 713.0 227.5 712.9 228 712.8 228.5 712.7 229 712.8 229.5 712.8 230 712.9 230.5 713.0 231 712.7 231.5 712.8 232 713.0 232.5 713.0 233 712.9 233.5 712.6 234 712.6 234.5 712.8 235 712.8 235.5 712.9 236 712.8 236.5 712.7 237 712.7 237.5 712.6 238 712.6 238.5 712.6 239 712.6 239.5 712.6 240 712.6 240.5 712.4 241 712.4 241.5 712.6 242 712.6 242.5 712.4 243 712.4 243.5 712.5 244 712.6 244.5 712.4 245 712.6 245.5 712.4 246 712.4 246.5 712.4 247 712.4 247.5 712.5 248 712.5 248.5 712.3 249 712.3 249.5 712.6 250 712.6 250.5 712.4 251 712.3 251.5 712.3 252 712.3 252.5 712.4 253 712.2 253.5 712.2 254 712.2 254.5 712.4 255 712.4 255.5 712.2 256 712.3 256.5 712.3 257 712.1 257.5 712.0 258 712.2 258.5 712.2 259 712.1 259.5 712.2 260 712.0 260.5 711.8 261 712.0 261.5 712.1 262 712.2 262.5 712.0 263 711.9 263.5 712.0 264 711.9 264.5 711.7 265 711.8 265.5 711.9 266 712.1 266.5 712.1 267 711.7 267.5 711.6 268 711.6 268.5 711.6 269 711.6 269.5 711.7 270 711.8 270.5 711.5 271 711.3 271.5 711.3 272 711.7 272.5 711.7 273 711.3 273.5 711.3 274 711.5 274.5 711.7 275 711.7 275.5 711.5 276 711.5 276.5 711.5 277 711.4 277.5 711.6 278 711.4 278.5 711.1 279 711.1 279.5 711.0 280 711.2 280.5 711.3 281 711.1 281.5 711.4 282 711.5 282.5 711.2 283 710.9 283.5 710.9 284 710.9 284.5 710.8 285 710.8 285.5 710.9 286 711.0 286.5 711.0 287 710.9 287.5 711.1 288 711.1 288.5 711.0 289 710.8 289.5 711.0 290 710.9 290.5 711.0 291 710.9 291.5 710.6 292 710.6 292.5 710.9 293 710.8 293.5 710.6 294 710.6 294.5 710.5 295 710.4 295.5 710.4 296 710.3 296.5 710.3 297 710.4 297.5 710.3 298 710.4 298.5 710.4 299 710.4 299.5 710.4 300 710.4 300.5 710.3 301 710.3 301.5 710.1 302 710.1 302.5 709.9 303 710.0 303.5 710.1 304 710.0 304.5 709.9 305 709.8 305.5 710.0 306 709.8 306.5 709.8 307 709.8 307.5 709.8 308 709.6 308.5 709.4 309 709.2 309.5 709.4 310 709.4 310.5 709.6 311 709.6 311.5 709.1 312 709.1 312.5 709.4 313 709.5 313.5 709.3 314 709.3 314.5 709.2 315 709.3 315.5 709.3 316 709.1 316.5 708.7 317 708.7 317.5 708.7 318 708.6 318.5 708.5 319 708.4 319.5 708.4 320 708.5 320.5 708.3 321 708.1 321.5 708.1 322 708.3 322.5 708.5 323 708.3 323.5 708.3 324 708.0 324.5 707.6 325 707.7 325.5 707.5 326 707.3 326.5 707.5 327 707.7 327.5 707.3 328 707.3 328.5 707.6 329 707.4 329.5 707.0 330 707.1 330.5 707.1 331 707.1 331.5 707.2 332 707.0 332.5 707.0 333 707.1 333.5 706.7 334 706.7 334.5 706.8 335 706.6 335.5 706.5 336 706.5 336.5 706.7 337 706.7 337.5 706.9 338 706.9 338.5 706.7 339 706.6 339.5 706.7 340 706.6 340.5 706.5 341 706.7 341.5 706.7 342 706.6 342.5 706.3 343 706.6 343.5 706.8 344 706.5 344.5 706.0 345 706.1 345.5 706.1 346 706.0 346.5 705.8 347 705.8 347.5 705.6 348 705.5 348.5 705.3 349 705.3 349.5 705.3 350 705.0 350.5 704.9 351 704.6 351.5 704.5 352 704.5 352.5 704.6 353 704.3 353.5 704.3 354 703.9 354.5 704.0 355 704.2 355.5 704.0 356 703.5 356.5 703.4 357 703.6 357.5 703.4 358 703.5 358.5 703.3 359 703.4 359.5 703.8 360 703.7 360.5 703.3 361 702.8 361.5 702.9 362 702.9 362.5 702.9 363 702.9 363.5 702.4 364 702.5 364.5 702.5 365 702.4 365.5 702.6 366 702.2 366.5 702.1 367 702.0 367.5 701.5 368 701.5 368.5 701.7 369 702.0 369.5 702.1 370 701.9 370.5 701.6 371 701.1 371.5 701.3 372 701.4 372.5 701.6 373 701.8 373.5 701.8 374 701.5 374.5 701.2 375 700.8 375.5 700.7 376 700.6 376.5 700.8 377 700.4 377.5 700.4 378 700.3 378.5 700.3 379 700.4 379.5 700.2 380 700.1 380.5 700.0 381 700.2 381.5 699.9 382 700.1 382.5 700.1 383 699.2 383.5 699.1 384 699.4 384.5 699.6 385 699.3 385.5 699.1 386 699.0 386.5 698.9 387 698.7 387.5 698.6 388 697.9 388.5 698.0 389 698.7 389.5 698.4 390 698.2 390.5 698.6 391 698.5 391.5 698.2 392 697.8 392.5 697.8 393 697.5 393.5 697.1 394 697.3 394.5 697.2 395 697.4 395.5 697.2 396 696.6 396.5 696.4 397 696.5 397.5 696.4 398 696.1 398.5 696.0 399 696.0 399.5 696.0 400 695.9 400.5 695.5 401 694.9 401.5 694.6 402 694.9 402.5 694.7 403 694.5 403.5 694.2 404 693.8 404.5 693.6 405 693.2 405.5 693.4 406 693.5 406.5 693.8 407 693.5 407.5 693.0 408 692.9 408.5 692.8 409 692.3 409.5 692.1 410 692.1 410.5 692.4 411 691.7 411.5 691.0 412 691.5 412.5 691.7 413 691.1 413.5 691.4 414 690.7 414.5 690.4 415 689.8 415.5 689.5 416 689.1 416.5 688.7 417 688.5 417.5 688.9 418 688.5 418.5 688.5 419 688.4 419.5 688.0 420 687.9 420.5 687.7 421 687.4 421.5 687.3 422 687.1 422.5 686.5 423 686.2 423.5 686.2 424 686.4 424.5 686.7 425 686.5 425.5 686.1 426 685.9 426.5 685.6 427 685.5 427.5 685.1 428 684.8 428.5 684.5 429 684.4 429.5 684.5 430 683.7 430.5 683.4 431 683.3 431.5 683.6 432 683.5 432.5 682.5 433 681.6 433.5 682.2 434 682.0 434.5 681.2 435 681.2 435.5 680.9 436 680.3 436.5 680.7 437 680.7 437.5 680.2 438 679.5 438.5 679.3 439 679.2 439.5 679.1 440 678.8 440.5 679.0 441 678.4 441.5 677.7 442 678.2 442.5 677.8 443 677.2 443.5 676.9 444 676.3 444.5 676.2 445 675.5 445.5 675.7 446 676.4 446.5 676.2 447 675.3 447.5 674.9 448 675.1 448.5 674.8 449 674.5 449.5 674.3 450 673.7 450.5 673.6 451 672.9 451.5 673.2 452 672.4 452.5 672.2 453 672.2 453.5 672.4 454 672.2 454.5 671.9 455 671.6 455.5 671.3 456 670.6 456.5 669.6 457 669.0 457.5 668.9 458 669.4 458.5 669.4 459 669.2 459.5 669.0 460 668.5 460.5 667.8 461 667.3 461.5 667.1 462 667.9 462.5 667.6 463 666.6 463.5 666.5 464 666.7 464.5 666.7 465 665.8 465.5 665.7 466 665.4 466.5 664.3 467 664.1 467.5 664.1 468 663.9 468.5 664.4 469 663.8 469.5 662.9 470 662.3 470.5 662.4 471 662.1 471.5 661.2 472 660.6 472.5 660.1 473 660.2 473.5 660.4 474 660.1 474.5 659.6 475 659.1 475.5 658.3 476 658.0 476.5 658.2 477 657.6 477.5 656.9 478 656.9 478.5 656.9 479 656.5 479.5 655.8 480 655.3 480.5 655.5 481 655.6 481.5 654.7 482 654.0 482.5 653.8 483 653.2 483.5 653.2 484 653.1 484.5 653.1 485 652.7 485.5 652.9 486 652.9 486.5 651.7 487 651.0 487.5 651.0 488 650.7 488.5 650.4 489 650.0 489.5 650.0 490 649.4 490.5 648.4 491 648.6 491.5 648.9 492 648.8 492.5 647.9 493 647.6 493.5 647.8 494 647.2 494.5 647.0 495 647.0 495.5 646.7 496 646.0 496.5 645.5 497 645.7 497.5 645.1 498 644.9 498.5 645.5 499 644.9 499.5 643.7 500 643.4 500.5 643.3 501 642.7 501.5 642.2 502 643.0 502.5 643.0 503 642.5 503.5 642.0 504 642.0 504.5 641.8 505 641.0 505.5 640.8 506 640.7 506.5 641.0 507 640.5 507.5 639.7 508 639.9 508.5 640.4 509 639.5 509.5 639.3 510 639.2 510.5 639.5 511 638.9 511.5 638.3 512 637.8 512.5 638.1 513 638.5 513.5 638.1 514 637.5 514.5 638.0 515 637.3 515.5 636.7 516 636.9 516.5 636.6 517 636.3 517.5 636.2 518 636.2 518.5 635.8 519 635.3 519.5 635.8 520 635.8 520.5 636.2 521 636.0 521.5 635.8 522 635.7 522.5 635.8 523 635.2 523.5 634.8 524 634.8 524.5 633.9 525 634.6 525.5 635.0 526 635.1 526.5 635.6 527 635.5 527.5 635.1 528 634.9 528.5 635.2 529 634.7 529.5 634.7 530 635.2 530.5 635.5 531 635.7 531.5 634.7 532 634.0 532.5 634.9 533 635.3 533.5 635.0 534 635.6 534.5 635.6 535 634.5 535.5 634.1 536 634.1 536.5 634.7 537 635.0 537.5 634.7 538 634.0 538.5 633.8 539 633.6 539.5 633.4 540 633.5 540.5 633.6 541 634.3 541.5 634.8 542 634.8 542.5 634.5 543 634.2 543.5 634.5 544 634.7 544.5 634.5 545 634.5 545.5 634.4 546 634.3 546.5 634.4 547 634.3 547.5 634.7 548 634.2 548.5 634.4 549 634.4 549.5 635.3 550 635.2 550.5 634.5 551 634.3 551.5 634.2 552 634.7 552.5 635.4 553 635.8 553.5 634.8 554 635.2 554.5 634.9 555 635.1 555.5 635.5 556 635.5 556.5 635.3 557 635.1 557.5 635.2 558 635.5 558.5 635.6 559 634.8 559.5 634.8 560 634.7 560.5 634.8 561 635.3 561.5 636.4 562 637.0 562.5 636.6 563 635.6 563.5 635.7 564 635.6 564.5 636.3 565 636.9 565.5 636.8 566 636.8 566.5 636.2 567 635.4 567.5 635.5 568 636.5 568.5 637.2 569 637.5 569.5 637.1 570 637.2 570.5 637.6 571 637.9 571.5 637.6 572 637.4 572.5 638.2 573 638.4 573.5 638.2 574 637.8 574.5 637.9 575 637.5 575.5 637.4 576 638.2 576.5 638.6 577 639.2 577.5 639.5 578 639.3 578.5 639.6 579 639.0 579.5 639.0 580 638.5 580.5 638.7 581 638.7 581.5 638.8 582 638.8 582.5 638.1 583 638.5 583.5 638.5 584 638.8 584.5 638.9 585 638.6 585.5 638.3 586 638.2 586.5 638.6 587 638.5 587.5 638.5 588 638.3 588.5 638.8 589 638.5 589.5 638.9 590 638.7 590.5 638.8 591 638.7 591.5 638.9 592 638.9 592.5 639.3 593 639.3 593.5 639.4 594 639.5 594.5 639.0 595 639.4 595.5 639.0 596 638.5 596.5 639.1 597 639.4 597.5 639.9 598 639.3 598.5 639.3 599 639.2 599.5 638.8 600 639.3 600.5 639.4 601 640.2 601.5 640.5 602 639.6 602.5 639.0 603 639.5 603.5 639.8 604 639.9 604.5 639.4 605 639.0 605.5 639.2 606 639.3 606.5 640.0 607 639.3 607.5 639.0 608 639.1 608.5 638.8 609 638.9 609.5 639.1 610 639.0 610.5 639.2 611 639.7 611.5 639.2 612 638.5 612.5 638.7 613 639.1 613.5 638.7 614 638.8 614.5 638.8 615 638.9 615.5 638.6 616 638.4 616.5 638.2 617 638.3 617.5 638.3 618 638.9 618.5 638.4 619 638.1 619.5 638.3 620 638.0 620.5 637.8 621 637.6 621.5 637.1 622 636.8 622.5 637.0 623 637.5 623.5 636.9 624 636.6 624.5 636.7 625 637.2 625.5 637.4 626 636.4 626.5 636.4 627 636.2 627.5 636.0 628 635.9 628.5 635.4 629 635.8 629.5 635.6 630 635.2 630.5 635.9 631 635.8 631.5 635.3 632 634.2 632.5 634.2 633 634.2 633.5 634.6 634 634.5 634.5 633.3 635 633.4 635.5 633.6 636 633.8 636.5 633.1 637 632.4 637.5 632.4 638 632.0 638.5 631.9 639 632.0 639.5 631.8 640 631.5 640.5 631.2 641 632.2 641.5 631.9 642 631.0 642.5 629.6 643 628.8 643.5 629.1 644 629.6 644.5 630.3 645 629.6 645.5 628.6 646 628.7 646.5 628.4 647 627.7 647.5 627.5 648 626.7 648.5 625.6 649 624.9 649.5 625.0 650 624.8 650.5 623.3 651 622.7 651.5 622.6 652 621.5 652.5 622.2 653 621.4 653.5 621.2 654 620.7 654.5 618.8 655 618.3 655.5 618.8 656 617.4 656.5 616.5 657 616.0 657.5 615.8 658 615.1 658.5 613.8 659 612.7 659.5 612.0 660 611.6 660.5 611.2 661 610.3 661.5 609.7 662 608.1 662.5 607.8 663 607.7 663.5 606.7 664 605.1 664.5 603.5 665 602.6 665.5 602.1 666 601.4 666.5 600.1 667 598.5 667.5 597.9 668 597.7 668.5 596.7 669 594.8 669.5 593.7 670 592.3 670.5 592.3 671 593.0 671.5 590.8 672 588.9 672.5 587.5 673 585.9 673.5 584.7 674 584.4 674.5 583.8 675 583.1 675.5 581.0 676 580.6 676.5 579.7 677 577.5 677.5 576.8 678 575.3 678.5 575.1 679 574.7 679.5 573.0 680 571.6 680.5 570.2 681 569.6 681.5 568.9 682 567.2 682.5 566.0 683 565.2 683.5 564.0 684 561.8 684.5 561.0 685 560.0 685.5 559.5 686 558.7 686.5 557.4 687 556.1 687.5 553.9 688 552.5 688.5 551.3 689 550.6 689.5 549.5 690 548.0 690.5 546.4 691 545.6 691.5 544.7 692 543.9 692.5 542.7 693 542.1 693.5 540.3 694 538.0 694.5 537.1 695 536.0 695.5 536.0 696 535.2 696.5 533.1 697 531.3 697.5 528.6 698 526.4 698.5 525.7 699 524.2 699.5 522.1 700 521.0 700.5 519.8 701 518.4 701.5 517.1 702 514.8 702.5 512.2 703 510.7 703.5 509.1 704 507.1 704.5 506.7 705 505.3 705.5 502.9 706 502.0 706.5 502.8 707 500.5 707.5 498.8 708 497.8 708.5 496.0 709 494.0 709.5 492.5 710 490.5 710.5 489.3 711 487.1 711.5 486.5 712 485.1 712.5 483.0 713 482.7 713.5 480.4 714 479.4 714.5 477.6 715 476.2 715.5 475.1 716 475.4 716.5 474.1 717 472.8 717.5 471.1 718 469.5 718.5 467.8 719 466.5 719.5 465.7 720 464.5 720.5 462.8 721 461.0 721.5 460.7 722 460.4 722.5 459.1 723 458.4 723.5 457.1 724 455.5 724.5 454.5 725 453.9 725.5 453.5 726 453.1 726.5 452.8 727 450.5 727.5 449.2 728 450.0 728.5 449.3 729 449.2 729.5 450.4 730 449.4 730.5 448.1 731 447.3 731.5 446.5 732 446.0 732.5 444.5 733 443.6 733.5 443.8 734 444.9 734.5 444.5 735 443.0 735.5 443.1 736 442.5 736.5 442.4 737 441.7 737.5 441.7 738 440.9 738.5 440.3 739 440.2 739.5 440.0 740 439.2 740.5 439.0 741 440.5 741.5 439.3 742 437.7 742.5 436.9 743 437.0 743.5 439.1 744 440.5 744.5 439.3 745 439.4 745.5 439.5 746 441.4 746.5 441.8 747 442.1 747.5 443.2 748 443.9 748.5 443.5 749 442.5 749.5 442.3 750 442.9 750.5 444.1 751 446.9 751.5 447.3 752 448.0 752.5 449.5 753 451.2 753.5 451.1 754 452.5 754.5 453.1 755 453.2 755.5 453.6 756 456.0 756.5 456.7 757 457.8 757.5 459.5 758 461.1 758.5 462.6 759 463.0 759.5 464.4 760 466.0 760.5 467.3 761 468.8 761.5 470.0 762 471.8 762.5 472.1 763 472.9 763.5 475.4 764 477.7 764.5 478.2 765 479.3 765.5 481.1 766 483.0 766.5 484.6 767 486.0 767.5 487.0 768 490.2 768.5 491.6 769 492.6 769.5 495.2 770 497.0 770.5 498.5 771 499.2 771.5 501.7 772 502.4 772.5 502.9 773 505.6 773.5 507.0 774 508.1 774.5 509.6 775 510.8 775.5 513.5 776 515.1 776.5 516.9 777 519.2 777.5 520.2 778 521.0 778.5 522.6 779 525.0 779.5 527.2 780 528.0 780.5 529.4 781 532.1 781.5 533.6 782 535.4 782.5 537.7 783 538.0 783.5 539.3 784 540.3 784.5 542.4 785 544.9 785.5 546.4 786 546.9 786.5 549.1 787 550.8 787.5 552.2 788 554.6 788.5 554.9 789 555.7 789.5 557.4 790 558.6 790.5 561.6 791 563.3 791.5 564.3 792 566.3 792.5 568.6 793 570.7 793.5 571.4 794 572.6 794.5 574.8 795 577.8 795.5 580.1 796 583.2 796.5 585.9 797 587.7 797.5 589.7 798 592.4 798.5 594.1 799 596.0 799.5 597.9 800 598.7 800.5 600.9 801 604.0 801.5 604.8 802 605.8 802.5 607.7 803 609.3 803.5 610.8 804 612.9 804.5 615.0 805 616.9 805.5 618.5 806 619.3 806.5 621.1 807 623.7 807.5 625.4 808 627.4 808.5 628.6 809 629.4 809.5 631.3 810 632.4 810.5 634.2 811 636.3 811.5 637.8 812 638.3 812.5 639.5 813 640.7 813.5 641.6 814 641.8 814.5 643.5 815 645.4 815.5 646.6 816 647.6 816.5 649.3 817 650.7 817.5 651.5 818 652.5 818.5 653.6 819 655.1 819.5 656.7 820 657.8 820.5 658.1 821 658.7 821.5 659.9 822 661.4 822.5 662.2 823 663.0 823.5 663.9 824 664.6 824.5 665.1 825 665.6 825.5 666.5 826 667.7 826.5 668.6 827 669.2 827.5 670.1 828 671.4 828.5 671.9 829 672.7 829.5 673.4 830 674.0 830.5 674.7 831 675.7 831.5 676.7 832 677.8 832.5 678.2 833 679.1 833.5 680.1 834 680.7 834.5 681.5 835 682.1 835.5 682.2 836 682.9 836.5 683.7 837 684.7 837.5 685.2 838 686.0 838.5 686.8 839 686.9 839.5 687.5 840 688.2 840.5 688.7 841 689.7 841.5 690.3 842 690.8 842.5 691.1 843 691.4 843.5 692.0 844 692.4 844.5 692.7 845 693.6 845.5 694.3 846 694.5 846.5 694.8 847 695.4 847.5 695.9 848 696.4 848.5 697.0 849 697.0 849.5 697.4 850 697.9 850.5 698.1 851 698.3 851.5 698.5 852 699.0 852.5 699.7 853 700.1 853.5 700.1 854 700.5 854.5 700.9 855 701.2 855.5 701.4 856 701.7 856.5 702.0 857 701.9 857.5 702.2 858 702.2 858.5 702.4 859 702.8 859.5 703.1 860 703.8 860.5 704.2 861 704.3 861.5 704.5 862 704.7 862.5 704.9 863 705.3 863.5 705.5 864 705.6 864.5 705.7 865 706.0 865.5 706.4 866 706.6 866.5 706.9 867 707.0 867.5 707.2 868 707.1 868.5 707.2 869 707.6 869.5 707.8 870 708.0 870.5 708.4 871 708.3 871.5 708.3 872 708.5 872.5 708.9 873 709.0 873.5 708.9 874 708.8 874.5 709.1 875 709.3 875.5 709.5 876 709.7 876.5 709.6 877 709.8 877.5 710.0 878 710.0 878.5 709.9 879 709.9 879.5 709.9 880 710.0 880.5 710.3 881 710.3 881.5 710.2 882 710.3 882.5 710.1 883 710.0 883.5 710.6 884 710.7 884.5 710.4 885 710.5 885.5 710.7 886 710.7 886.5 710.7 887 710.7 887.5 710.8 888 710.9 888.5 711.0 889 711.0 889.5 711.0 890 711.0 890.5 711.0 891 711.2 891.5 711.1 892 711.2 892.5 711.4 893 711.4 893.5 711.5 894 711.6 894.5 711.4 895 711.5 895.5 711.6 896 711.5 896.5 711.6 897 711.8 897.5 711.7 898 711.6 898.5 711.7 899 711.8 899.5 711.9 900 711.9 900.5 712.0 901 712.0 901.5 712.1 902 712.2 902.5 712.1 903 712.2 903.5 712.2 904 712.2 904.5 712.2 905 712.1 905.5 712.1 906 712.4 906.5 712.3 907 712.3 907.5 712.5 908 712.5 908.5 712.7 909 712.8 909.5 712.7 910 712.6 910.5 712.6 911 712.5 911.5 712.6 912 712.6 912.5 712.6 913 712.6 913.5 712.6 914 712.8 914.5 712.9 915 712.7 915.5 712.8 916 713.0 916.5 712.9 917 712.7 917.5 712.8 918 713.0 918.5 713.1 919 712.9 919.5 712.9 920 712.9 920.5 713.0 921 713.1 921.5 713.0 922 713.1 922.5 713.3 923 713.2 923.5 713.1 924 713.3 924.5 713.2 925 713.2 925.5 713.2 926 713.2 926.5 713.3 927 713.4 927.5 713.3 928 713.3 928.5 713.2 929 713.1 929.5 713.2 930 713.4 930.5 713.4 931 713.4 931.5 713.3 932 713.3 932.5 713.3 933 713.4 933.5 713.5 934 713.4 934.5 713.4 935 713.4 935.5 713.4 936 713.3 936.5 713.2 937 713.2 937.5 713.3 938 713.5 938.5 713.5 939 713.5 939.5 713.6 940 713.5 940.5 713.6 941 713.5 941.5 713.5 942 713.6 942.5 713.4 943 713.3 943.5 713.5 944 713.5" fill="none" stroke="#ff0000" stroke-width="6.0" stroke-linejoin="round" stroke-linecap="round"/>
<path d="M162 714.0 162.5 713.9 163 714.0 163.5 714.0 164 714.1 164.5 714.1 165 714.0 165.5 714.0 166 714.0 166.5 714.0 167 714.0 167.5 714.0 168 714.0 168.5 714.0 169 714.0 169.5 714.0 170 714.1 170.5 714.0 171 714.0 171.5 714.0 172 714.0 172.5 714.0 173 714.1 173.5 714.1 174 714.0 174.5 714.0 175 714.1 175.5 714.1 176 714.1 176.5 714.0 177 713.9 177.5 713.9 178 714.0 178.5 714.0 179 713.9 179.5 714.0 180 714.0 180.5 714.0 181 714.0 181.5 714.0 182 713.9 182.5 714.0 183 714.0 183.5 714.0 184 713.9 184.5 713.9 185 713.9 185.5 713.9 186 713.9 186.5 714.0 187 714.0 187.5 713.9 188 713.9 188.5 714.0 189 714.0 189.5 713.9 190 713.9 190.5 713.9 191 713.9 191.5 713.9 192 713.9 192.5 713.9 193 713.9 193.5 714.0 194 713.9 194.5 713.8 195 713.8 195.5 713.8 196 713.8 196.5 714.0 197 714.0 197.5 713.9 198 714.0 198.5 713.9 199 713.9 199.5 713.9 200 713.9 200.5 713.8 201 713.8 201.5 713.8 202 713.8 202.5 713.8 203 713.8 203.5 713.9 204 713.8 204.5 713.9 205 713.8 205.5 713.8 206 713.8 206.5 713.8 207 713.8 207.5 713.7 208 713.8 208.5 713.8 209 713.9 209.5 713.8 210 713.8 210.5 713.7 211 713.6 211.5 713.7 212 713.9 212.5 713.9 213 713.9 213.5 713.8 214 713.8 214.5 713.8 215 713.7 215.5 713.7 216 713.8 216.5 713.8 217 713.8 217.5 713.7 218 713.7 218.5 713.7 219 713.6 219.5 713.6 220 713.7 220.5 713.7 221 713.7 221.5 713.8 222 713.8 222.5 713.7 223 713.7 223.5 713.6 224 713.7 224.5 713.7 225 713.7 225.5 713.7 226 713.8 226.5 713.7 227 713.6 227.5 713.8 228 713.7 228.5 713.7 229 713.6 229.5 713.6 230 713.6 230.5 713.6 231 713.6 231.5 713.6 232 713.7 232.5 713.6 233 713.5 233.5 713.5 234 713.5 234.5 713.5 235 713.5 235.5 713.5 236 713.6 236.5 713.5 237 713.4 237.5 713.5 238 713.6 238.5 713.5 239 713.6 239.5 713.6 240 713.5 240.5 713.5 241 713.5 241.5 713.5 242 713.5 242.5 713.5 243 713.6 243.5 713.5 244 713.5 244.5 713.4 245 713.4 245.5 713.4 246 713.5 246.5 713.5 247 713.5 247.5 713.4 248 713.4 248.5 713.5 249 713.4 249.5 713.3 250 713.4 250.5 713.5 251 713.5 251.5 713.4 252 713.3 252.5 713.4 253 713.4 253.5 713.4 254 713.4 254.5 713.4 255 713.4 255.5 713.4 256 713.4 256.5 713.5 257 713.4 257.5 713.3 258 713.3 258.5 713.3 259 713.3 259.5 713.2 260 713.2 260.5 713.3 261 713.2 261.5 713.1 262 713.1 262.5 713.2 263 713.3 263.5 713.3 264 713.2 264.5 713.2 265 713.2 265.5 713.2 266 713.2 266.5 713.3 267 713.3 267.5 713.2 268 713.1 268.5 713.1 269 713.1 269.5 713.1 270 713.1 270.5 713.1 271 713.1 271.5 713.1 272 713.1 272.5 713.1 273 713.1 273.5 713.1 274 713.1 274.5 713.1 275 713.0 275.5 713.0 276 712.8 276.5 712.9 277 713.0 277.5 713.0 278 712.9 278.5 712.9 279 712.9 279.5 713.0 280 712.8 280.5 712.8 281 712.8 281.5 712.7 282 712.6 282.5 712.7 283 712.7 283.5 712.7 284 712.7 284.5 712.6 285 712.7 285.5 712.8 286 712.7 286.5 712.5 287 712.4 287.5 712.6 288 712.6 288.5 712.5 289 712.6 289.5 712.5 290 712.4 290.5 712.4 291 712.4 291.5 712.4 292 712.4 292.5 712.4 293 712.4 293.5 712.2 294 712.3 294.5 712.3 295 712.2 295.5 712.2 296 712.2 296.5 712.2 297 712.2 297.5 712.2 298 712.2 298.5 712.2 299 712.1 299.5 712.1 300 712.2 300.5 712.2 301 712.1 301.5 711.9 302 711.9 302.5 712.0 303 711.9 303.5 711.8 304 711.9 304.5 712.0 305 712.0 305.5 712.0 306 711.9 306.5 711.8 307 711.8 307.5 711.8 308 711.8 308.5 711.8 309 711.8 309.5 711.7 310 711.7 310.5 711.7 311 711.5 311.5 711.5 312 711.6 312.5 711.5 313 711.4 313.5 711.4 314 711.3 314.5 711.2 315 711.2 315.5 711.1 316 711.2 316.5 711.2 317 711.2 317.5 711.1 318 711.1 318.5 711.0 319 710.9 319.5 710.8 320 710.9 320.5 710.9 321 710.7 321.5 710.7 322 710.7 322.5 710.6 323 710.6 323.5 710.7 324 710.5 324.5 710.4 325 710.4 325.5 710.5 326 710.4 326.5 710.4 327 710.3 327.5 710.3 328 710.2 328.5 710.1 329 710.2 329.5 710.3 330 710.2 330.5 710.1 331 710.1 331.5 710.1 332 710.1 332.5 710.1 333 710.2 333.5 710.1 334 710.0 334.5 709.9 335 709.8 335.5 709.9 336 710.0 336.5 709.9 337 710.1 337.5 710.2 338 710.1 338.5 710.0 339 710.2 339.5 710.2 340 710.3 340.5 710.2 341 710.2 341.5 710.3 342 710.3 342.5 710.2 343 710.1 343.5 710.1 344 710.1 344.5 710.2 345 710.3 345.5 710.4 346 710.3 346.5 710.2 347 710.2 347.5 710.0 348 709.9 348.5 710.0 349 709.7 349.5 709.6 350 709.6 350.5 709.6 351 709.5 351.5 709.4 352 709.3 352.5 709.2 353 709.2 353.5 709.1 354 708.9 354.5 708.9 355 708.9 355.5 709.0 356 708.9 356.5 708.8 357 708.7 357.5 708.6 358 708.5 358.5 708.4 359 708.2 359.5 708.2 360 708.2 360.5 708.2 361 708.1 361.5 707.8 362 707.8 362.5 707.8 363 707.7 363.5 707.6 364 707.5 364.5 707.4 365 707.4 365.5 707.3 366 707.3 366.5 707.2 367 707.0 367.5 706.9 368 706.8 368.5 706.8 369 706.8 369.5 706.6 370 706.8 370.5 706.8 371 706.7 371.5 706.4 372 706.1 372.5 706.2 373 706.3 373.5 706.2 374 706.1 374.5 706.1 375 706.0 375.5 705.8 376 706.0 376.5 705.7 377 705.7 377.5 705.7 378 705.5 378.5 705.5 379 705.6 379.5 705.4 380 705.3 380.5 705.2 381 705.1 381.5 705.0 382 704.9 382.5 704.8 383 704.8 383.5 704.7 384 704.5 384.5 704.3 385 704.3 385.5 704.3 386 704.2 386.5 704.0 387 703.8 387.5 703.7 388 703.7 388.5 703.7 389 703.5 389.5 703.4 390 703.2 390.5 703.2 391 702.9 391.5 702.8 392 702.6 392.5 702.7 393 702.6 393.5 702.3 394 702.1 394.5 702.0 395 701.8 395.5 701.7 396 701.7 396.5 701.8 397 701.7 397.5 701.4 398 701.3 398.5 701.2 399 701.0 399.5 700.9 400 700.9 400.5 700.8 401 700.5 401.5 700.4 402 700.4 402.5 700.2 403 700.0 403.5 699.8 404 699.7 404.5 699.6 405 699.5 405.5 699.4 406 699.2 406.5 698.8 407 698.7 407.5 698.8 408 698.7 408.5 698.7 409 698.4 409.5 698.2 410 698.1 410.5 698.0 411 697.8 411.5 697.6 412 697.6 412.5 697.5 413 697.3 413.5 697.2 414 696.9 414.5 696.7 415 696.3 415.5 696.2 416 696.5 416.5 696.5 417 696.1 417.5 695.6 418 695.6 418.5 695.6 419 695.4 419.5 695.2 420 694.9 420.5 694.7 421 694.5 421.5 694.4 422 694.3 422.5 694.0 423 693.9 423.5 693.7 424 693.6 424.5 693.6 425 693.4 425.5 693.1 426 692.7 426.5 692.6 427 692.6 427.5 692.3 428 692.0 428.5 691.9 429 691.9 429.5 691.6 430 691.3 430.5 691.3 431 691.3 431.5 691.0 432 690.8 432.5 690.5 433 690.2 433.5 690.0 434 689.7 434.5 689.5 435 689.5 435.5 689.2 436 689.1 436.5 688.9 437 688.6 437.5 688.1 438 687.9 438.5 687.7 439 687.4 439.5 687.4 440 687.1 440.5 686.8 441 686.7 441.5 686.8 442 686.6 442.5 686.5 443 686.1 443.5 685.9 444 685.8 444.5 685.7 445 685.3 445.5 684.9 446 684.7 446.5 684.5 447 684.4 447.5 684.4 448 684.5 448.5 684.3 449 684.0 449.5 683.8 450 683.6 450.5 683.7 451 683.5 451.5 683.3 452 682.8 452.5 682.5 453 682.4 453.5 682.0 454 681.7 454.5 681.4 455 681.4 455.5 681.2 456 681.0 456.5 680.6 457 680.2 457.5 680.3 458 680.2 458.5 679.6 459 679.4 459.5 679.3 460 679.0 460.5 678.8 461 679.0 461.5 678.8 462 678.2 462.5 677.8 463 677.9 463.5 678.1 464 677.7 464.5 677.4 465 676.9 465.5 676.6 466 676.4 466.5 676.6 467 676.1 467.5 675.3 468 675.1 468.5 675.3 469 675.1 469.5 674.8 470 674.7 470.5 674.7 471 674.1 471.5 673.4 472 673.3 472.5 672.9 473 672.8 473.5 672.7 474 672.4 474.5 672.0 475 671.8 475.5 671.6 476 671.5 476.5 671.2 477 671.0 477.5 670.7 478 670.6 478.5 670.2 479 669.9 479.5 669.6 480 669.4 480.5 669.1 481 669.4 481.5 668.8 482 668.5 482.5 668.2 483 668.0 483.5 667.9 484 667.5 484.5 667.2 485 666.8 485.5 666.6 486 666.6 486.5 666.7 487 666.1 487.5 665.8 488 665.9 488.5 665.8 489 665.1 489.5 664.8 490 665.0 490.5 664.8 491 664.3 491.5 663.9 492 664.0 492.5 664.1 493 663.9 493.5 663.8 494 663.5 494.5 663.3 495 663.2 495.5 662.9 496 662.7 496.5 662.3 497 662.2 497.5 662.2 498 661.9 498.5 661.7 499 661.8 499.5 661.6 500 661.3 500.5 661.1 501 661.3 501.5 661.3 502 660.6 502.5 660.1 503 660.0 503.5 659.9 504 659.7 504.5 659.7 505 659.9 505.5 660.0 506 659.9 506.5 659.6 507 659.3 507.5 659.3 508 658.9 508.5 658.7 509 658.6 509.5 658.9 510 658.8 510.5 658.3 511 658.2 511.5 658.1 512 658.1 512.5 658.1 513 657.9 513.5 657.7 514 657.3 514.5 657.2 515 657.1 515.5 657.6 516 657.6 516.5 657.3 517 657.3 517.5 657.3 518 656.9 518.5 656.2 519 656.1 519.5 655.7 520 655.8 520.5 655.8 521 655.9 521.5 655.9 522 655.6 522.5 655.7 523 655.8 523.5 655.7 524 655.4 524.5 655.0 525 655.3 525.5 655.7 526 655.5 526.5 655.1 527 655.3 527.5 655.4 528 655.3 528.5 655.4 529 655.2 529.5 655.3 530 655.5 530.5 655.9 531 655.5 531.5 655.4 532 655.6 532.5 655.5 533 655.5 533.5 655.2 534 655.6 534.5 655.7 535 655.7 535.5 656.1 536 656.0 536.5 655.9 537 655.7 537.5 655.6 538 655.8 538.5 655.9 539 656.3 539.5 656.5 540 656.1 540.5 655.9 541 656.1 541.5 656.2 542 656.4 542.5 656.5 543 656.4 543.5 656.5 544 656.8 544.5 656.9 545 656.6 545.5 656.6 546 656.5 546.5 656.4 547 656.8 547.5 656.8 548 656.7 548.5 656.7 549 656.5 549.5 656.5 550 657.0 550.5 657.0 551 656.8 551.5 657.0 552 657.0 552.5 656.8 553 656.8 553.5 656.7 554 656.8 554.5 656.8 555 657.1 555.5 656.8 556 656.8 556.5 656.7 557 656.6 557.5 656.7 558 656.6 558.5 656.4 559 656.4 559.5 656.4 560 656.6 560.5 656.6 561 656.5 561.5 656.1 562 656.1 562.5 656.0 563 656.2 563.5 656.4 564 656.1 564.5 656.0 565 656.2 565.5 656.3 566 656.1 566.5 655.5 567 655.6 567.5 655.5 568 655.4 568.5 655.4 569 655.1 569.5 654.8 570 655.0 570.5 655.3 571 655.5 571.5 655.0 572 654.6 572.5 654.4 573 654.7 573.5 654.7 574 654.6 574.5 654.3 575 654.1 575.5 653.9 576 654.1 576.5 653.8 577 653.6 577.5 654.2 578 654.2 578.5 654.1 579 653.9 579.5 653.6 580 653.8 580.5 653.6 581 653.9 581.5 653.5 582 653.0 582.5 653.5 583 653.6 583.5 653.2 584 653.2 584.5 652.9 585 652.5 585.5 652.2 586 652.7 586.5 652.5 587 652.4 587.5 652.0 588 652.0 588.5 652.2 589 651.8 589.5 651.5 590 651.3 590.5 651.4 591 651.4 591.5 651.0 592 650.6 592.5 650.4 593 650.5 593.5 650.0 594 649.8 594.5 649.7 595 649.0 595.5 648.3 596 648.1 596.5 648.0 597 648.1 597.5 647.5 598 647.0 598.5 646.8 599 646.5 599.5 645.8 600 645.7 600.5 645.3 601 644.6 601.5 643.7 602 643.7 602.5 643.7 603 643.1 603.5 643.0 604 642.1 604.5 641.3 605 641.1 605.5 640.7 606 640.2 606.5 639.6 607 639.2 607.5 638.4 608 637.8 608.5 637.1 609 636.7 609.5 636.5 610 635.9 610.5 635.5 611 635.1 611.5 634.8 612 634.5 612.5 634.2 613 633.7 613.5 633.0 614 632.3 614.5 631.6 615 631.4 615.5 630.9 616 630.5 616.5 630.6 617 629.8 617.5 629.7 618 629.4 618.5 629.1 619 629.1 619.5 628.3 620 627.7 620.5 627.6 621 626.7 621.5 625.9 622 625.5 622.5 625.2 623 624.9 623.5 624.4 624 623.6 624.5 623.5 625 623.4 625.5 622.3 626 621.8 626.5 621.6 627 621.2 627.5 620.2 628 619.5 628.5 619.3 629 619.4 629.5 618.8 630 617.6 630.5 617.1 631 616.9 631.5 616.7 632 616.8 632.5 616.6 633 616.6 633.5 616.0 634 615.4 634.5 615.1 635 614.2 635.5 613.6 636 613.6 636.5 613.4 637 612.6 637.5 612.7 638 612.4 638.5 611.7 639 611.3 639.5 610.8 640 610.5 640.5 610.2 641 609.5 641.5 609.4 642 609.0 642.5 608.3 643 607.0 643.5 606.5 644 606.6 644.5 606.0 645 605.3 645.5 604.6 646 604.0 646.5 603.6 647 603.0 647.5 602.4 648 601.9 648.5 601.1 649 600.5 649.5 599.5 650 599.5 650.5 598.3 651 597.8 651.5 597.2 652 596.3 652.5 595.7 653 594.6 653.5 593.6 654 593.5 654.5 593.1 655 591.9 655.5 590.8 656 590.5 656.5 590.2 657 589.7 657.5 589.1 658 588.3 658.5 587.3 659 586.2 659.5 586.2 660 585.2 660.5 584.2 661 583.1 661.5 582.2 662 581.5 662.5 581.1 663 580.2 663.5 579.1 664 578.2 664.5 576.7 665 575.7 665.5 574.6 666 573.9 666.5 572.8 667 571.9 667.5 570.8 668 569.0 668.5 568.6 669 567.3 669.5 565.6 670 564.1 670.5 563.1 671 561.7 671.5 561.2 672 560.5 672.5 559.7 673 558.3 673.5 557.5 674 556.7 674.5 555.7 675 554.1 675.5 552.8 676 551.1 676.5 550.0 677 549.2 677.5 548.1 678 546.7 678.5 545.8 679 545.0 679.5 543.6 680 542.3 680.5 541.1 681 540.7 681.5 539.7 682 537.9 682.5 536.6 683 535.7 683.5 534.1 684 532.2 684.5 530.5 685 529.6 685.5 528.8 686 527.0 686.5 526.0 687 523.7 687.5 521.9 688 520.6 688.5 518.7 689 517.0 689.5 514.9 690 513.2 690.5 512.0 691 510.9 691.5 509.2 692 507.6 692.5 507.0 693 505.9 693.5 504.5 694 503.0 694.5 501.7 695 501.5 695.5 500.2 696 499.3 696.5 498.6 697 497.3 697.5 495.7 698 494.3 698.5 493.2 699 492.1 699.5 490.6 700 489.0 700.5 487.9 701 486.7 701.5 485.4 702 484.1 702.5 483.0 703 481.5 703.5 480.3 704 478.7 704.5 477.1 705 475.7 705.5 474.8 706 474.1 706.5 473.0 707 471.3 707.5 469.8 708 468.8 708.5 468.2 709 466.7 709.5 465.3 710 464.4 710.5 462.8 711 462.0 711.5 461.1 712 459.8 712.5 458.6 713 458.4 713.5 457.6 714 455.7 714.5 455.0 715 454.7 715.5 454.2 716 452.4 716.5 451.2 717 451.1 717.5 451.0 718 449.8 718.5 449.2 719 448.6 719.5 446.6 720 445.8 720.5 446.5 721 446.0 721.5 444.9 722 444.8 722.5 444.5 723 444.0 723.5 443.2 724 442.8 724.5 442.5 725 442.5 725.5 442.5 726 442.8 726.5 442.0 727 441.0 727.5 441.4 728 441.8 728.5 441.3 729 441.2 729.5 440.8 730 440.5 730.5 440.0 731 440.0 731.5 439.6 732 439.9 732.5 438.9 733 438.5 733.5 439.4 734 439.4 734.5 439.5 735 439.6 735.5 439.5 736 439.4 736.5 439.9 737 440.4 737.5 441.0 738 441.6 738.5 441.2 739 441.6 739.5 442.2 740 442.2 740.5 442.3 741 443.1 741.5 444.1 742 444.4 742.5 444.9 743 445.2 743.5 446.0 744 446.4 744.5 447.0 745 448.1 745.5 449.1 746 450.1 746.5 450.1 747 451.5 747.5 453.0 748 453.6 748.5 453.7 749 454.2 749.5 455.3 750 456.5 750.5 457.5 751 458.6 751.5 459.4 752 459.8 752.5 460.6 753 461.5 753.5 462.7 754 464.3 754.5 466.0 755 467.8 755.5 468.4 756 469.3 756.5 470.8 757 471.5 757.5 473.0 758 474.6 758.5 475.9 759 476.9 759.5 477.8 760 478.8 760.5 480.5 761 482.0 761.5 483.7 762 485.1 762.5 486.5 763 487.6 763.5 489.6 764 490.7 764.5 491.7 765 493.3 765.5 495.4 766 497.6 766.5 499.0 767 499.9 767.5 501.6 768 503.0 768.5 504.0 769 505.4 769.5 506.8 770 508.3 770.5 509.6 771 511.5 771.5 513.3 772 514.8 772.5 516.6 773 518.7 773.5 520.0 774 521.7 774.5 523.5 775 525.2 775.5 526.5 776 527.6 776.5 528.9 777 530.6 777.5 532.4 778 534.2 778.5 535.9 779 537.8 779.5 539.4 780 541.5 780.5 543.0 781 544.3 781.5 545.8 782 546.9 782.5 549.5 783 551.3 783.5 552.6 784 553.9 784.5 556.2 785 557.1 785.5 558.3 786 559.9 786.5 560.8 787 561.8 787.5 563.3 788 564.5 788.5 566.1 789 567.7 789.5 569.3 790 570.6 790.5 572.9 791 575.1 791.5 577.4 792 579.3 792.5 582.0 793 584.2 793.5 586.2 794 587.9 794.5 590.1 795 592.0 795.5 593.3 796 594.9 796.5 596.9 797 599.2 797.5 600.8 798 602.5 798.5 604.0 799 605.6 799.5 607.2 800 608.8 800.5 610.7 801 612.3 801.5 613.7 802 615.1 802.5 617.0 803 618.6 803.5 620.3 804 622.2 804.5 623.5 805 625.1 805.5 627.0 806 628.5 806.5 629.6 807 631.1 807.5 632.3 808 633.2 808.5 634.1 809 635.5 809.5 637.2 810 638.3 810.5 639.2 811 640.4 811.5 641.6 812 642.8 812.5 644.2 813 645.6 813.5 646.4 814 647.4 814.5 648.5 815 649.6 815.5 650.8 816 652.1 816.5 653.2 817 654.5 817.5 655.6 818 656.6 818.5 657.9 819 658.5 819.5 659.7 820 660.9 820.5 661.4 821 662.4 821.5 663.3 822 663.8 822.5 664.2 823 665.4 823.5 666.1 824 666.8 824.5 667.7 825 668.3 825.5 669.2 826 669.9 826.5 670.7 827 671.4 827.5 672.2 828 673.0 828.5 673.9 829 674.8 829.5 675.6 830 676.5 830.5 677.4 831 677.9 831.5 678.3 832 679.2 832.5 680.1 833 680.9 833.5 681.6 834 682.2 834.5 682.6 835 683.2 835.5 683.6 836 684.5 836.5 685.1 837 685.6 837.5 686.0 838 686.6 838.5 687.1 839 687.7 839.5 688.1 840 688.8 840.5 689.5 841 690.1 841.5 690.4 842 690.8 842.5 691.3 843 691.7 843.5 692.1 844 692.4 844.5 692.8 845 693.4 845.5 693.8 846 694.1 846.5 694.6 847 695.1 847.5 695.7 848 696.0 848.5 696.5 849 697.0 849.5 697.3 850 697.4 850.5 697.7 851 697.9 851.5 698.3 852 698.8 852.5 699.1 853 699.6 853.5 700.0 854 700.1 854.5 700.4 855 700.4 855.5 700.7 856 701.1 856.5 701.4 857 701.7 857.5 702.0 858 702.5 858.5 702.6 859 702.9 859.5 703.2 860 703.4 860.5 703.5 861 703.7 861.5 703.9 862 704.4 862.5 704.4 863 704.5 863.5 704.8 864 705.1 864.5 705.6 865 705.8 865.5 706.0 866 706.2 866.5 706.3 867 706.4 867.5 706.5 868 706.6 868.5 706.8 869 707.0 869.5 707.1 870 707.4 870.5 707.6 871 707.6 871.5 707.6 872 707.9 872.5 708.1 873 708.2 873.5 708.2 874 708.5 874.5 708.6 875 708.6 875.5 708.7 876 708.8 876.5 709.0 877 709.3 877.5 709.3 878 709.4 878.5 709.4 879 709.5 879.5 709.8 880 709.8 880.5 709.7 881 709.7 881.5 709.8 882 710.0 882.5 710.0 883 710.0 883.5 709.9 884 710.0 884.5 710.2 885 710.1 885.5 710.1 886 710.1 886.5 710.2 887 710.2 887.5 710.3 888 710.5 888.5 710.6 889 710.6 889.5 710.6 890 710.7 890.5 710.8 891 710.9 891.5 710.9 892 710.9 892.5 710.8 893 710.8 893.5 710.9 894 710.9 894.5 711.0 895 711.0 895.5 711.3 896 711.2 896.5 711.1 897 711.1 897.5 711.2 898 711.4 898.5 711.5 899 711.4 899.5 711.5 900 711.6 900.5 711.7 901 711.8 901.5 711.7 902 711.8 902.5 711.8 903 711.7 903.5 711.7 904 711.9 904.5 711.9 905 711.9 905.5 712.0 906 712.0 906.5 712.0 907 712.1 907.5 712.2 908 712.2 908.5 712.3 909 712.1 909.5 712.1 910 712.3 910.5 712.4 911 712.3 911.5 712.4 912 712.5 912.5 712.5 913 712.5 913.5 712.5 914 712.4 914.5 712.5 915 712.7 915.5 712.7 916 712.6 916.5 712.6 917 712.7 917.5 712.7 918 712.6 918.5 712.7 919 712.9 919.5 712.9 920 712.8 920.5 712.9 921 713.0 921.5 713.0 922 712.9 922.5 713.0 923 713.0 923.5 713.1 924 713.1 924.5 713.1 925 713.1 925.5 713.2 926 713.1 926.5 713.2 927 713.1 927.5 713.2 928 713.2 928.5 713.2 929 713.3 929.5 713.4 930 713.4 930.5 713.4 931 713.3 931.5 713.4 932 713.4 932.5 713.4 933 713.3 933.5 713.4 934 713.4 934.5 713.4 935 713.4 935.5 713.4 936 713.4 936.5 713.3 937 713.3 937.5 713.4 938 713.4 938.5 713.3 939 713.3 939.5 713.4 940 713.5 940.5 713.5 941 713.4 941.5 713.4 942 713.5 942.5 713.5 943 713.5 943.5 713.5 944 713.5" fill="none" stroke="#00ff00" stroke-width="5.6" stroke-linejoin="round" stroke-linecap="round"/>
</g>
<text xml:space="preserve" transform="translate(9.20,28.70) scale(0.9937,1)" font-size="34.00" fill="#000" stroke="#000" stroke-width="0.5" stroke-linejoin="round"><tspan class="r">(a)</tspan></text>
<text xml:space="preserve" transform="translate(112.80,677.47) rotate(-90) scale(0.9975,1)" font-size="43.60" fill="#000" stroke="#000" stroke-width="0.5" stroke-linejoin="round"><tspan class="r">Normalized PL intensity (arb. u.)</tspan></text>
<text xml:space="preserve" transform="translate(423.86,73.40) scale(1.0456,1)" font-size="38.60" fill="#000" stroke="#000" stroke-width="0.9" stroke-linejoin="round"><tspan class="sr">Δ</tspan></text>
<text xml:space="preserve" transform="translate(451.37,73.70) scale(1.0917,1)" font-size="40.00" fill="#000"><tspan class="bi">t</tspan></text>
<text xml:space="preserve" transform="translate(471.54,73.70) scale(1.0021,1)" font-size="40.00" fill="#000"><tspan class="b">=</tspan></text>
<text xml:space="preserve" transform="translate(505.34,73.70) scale(0.9838,1)" font-size="40.00" fill="#000"><tspan class="b">0s</tspan></text>
<text xml:space="preserve" transform="translate(551.77,73.70) scale(0.9652,1)" font-size="40.00" fill="#0000ff"><tspan class="b">15s</tspan></text>
<text xml:space="preserve" transform="translate(617.31,73.70) scale(0.9645,1)" font-size="40.00" fill="#ff0000"><tspan class="b">30s</tspan></text>
<text xml:space="preserve" transform="translate(692.90,73.70) scale(0.9555,1)" font-size="40.00" fill="#00a650"><tspan class="b">60s</tspan></text>
<text xml:space="preserve" transform="translate(543.86,419.30) scale(1.0456,1)" font-size="38.60" fill="#000" stroke="#000" stroke-width="0.9" stroke-linejoin="round"><tspan class="sr">Δ</tspan></text>
<text xml:space="preserve" transform="translate(571.37,419.60) scale(1.0917,1)" font-size="40.00" fill="#000"><tspan class="bi">t</tspan></text>
<text xml:space="preserve" transform="translate(591.54,419.60) scale(1.0021,1)" font-size="40.00" fill="#000"><tspan class="b">=</tspan></text>
<text xml:space="preserve" transform="translate(625.34,419.60) scale(0.9838,1)" font-size="40.00" fill="#000"><tspan class="b">0s</tspan></text>
<text xml:space="preserve" transform="translate(668.18,419.60) scale(0.9588,1)" font-size="40.00" fill="#0000ff"><tspan class="b">15s</tspan></text>
<text xml:space="preserve" transform="translate(734.02,419.60) scale(0.9536,1)" font-size="40.00" fill="#ff0000"><tspan class="b">30s</tspan></text>
<text xml:space="preserve" transform="translate(800.50,419.60) scale(0.9586,1)" font-size="40.00" fill="#00a650"><tspan class="b">60s</tspan></text>
<text xml:space="preserve" transform="translate(184.86,154.70) scale(1.0012,1)" font-size="57.60" fill="#ff3300"><tspan class="b">As</tspan><tspan class="b" font-size="39.17" dy="13.10">2</tspan><tspan class="b" dy="-13.10">-QDs</tspan></text>
<text xml:space="preserve" transform="translate(183.76,521.20) scale(1.0060,1)" font-size="57.60" fill="#4436ff"><tspan class="b">As</tspan><tspan class="b" font-size="39.17" dy="13.40">4</tspan><tspan class="b" dy="-13.40">-QDs</tspan></text>
<text xml:space="preserve" transform="translate(115.86,760.60) scale(0.9970,1)" font-size="45.30" fill="#000" stroke="#000" stroke-width="0.5" stroke-linejoin="round"><tspan class="r">1000</tspan></text>
<text xml:space="preserve" transform="translate(374.13,760.60) scale(0.9970,1)" font-size="45.30" fill="#000" stroke="#000" stroke-width="0.5" stroke-linejoin="round"><tspan class="r">1100</tspan></text>
<text xml:space="preserve" transform="translate(632.40,760.60) scale(0.9970,1)" font-size="45.30" fill="#000" stroke="#000" stroke-width="0.5" stroke-linejoin="round"><tspan class="r">1200</tspan></text>
<text xml:space="preserve" transform="translate(890.66,760.60) scale(0.9970,1)" font-size="45.30" fill="#000" stroke="#000" stroke-width="0.5" stroke-linejoin="round"><tspan class="r">1300</tspan></text>
<text xml:space="preserve" transform="translate(327.03,821.40) scale(1.0590,1)" font-size="57.20" fill="#000" stroke="#000" stroke-width="0.5" stroke-linejoin="round"><tspan class="r">Wavelength (nm)</tspan></text>
<rect x="169.7" y="867.3" width="766.00" height="605.20" fill="none" stroke="#000" stroke-width="2.9"/>
<line x1="224.30" y1="867.30" x2="224.30" y2="879.30" stroke="#000" stroke-width="2.7" />
<line x1="224.30" y1="1472.50" x2="224.30" y2="1460.50" stroke="#000" stroke-width="2.7" />
<line x1="306.40" y1="867.30" x2="306.40" y2="873.90" stroke="#000" stroke-width="2.7" />
<line x1="306.40" y1="1472.50" x2="306.40" y2="1465.90" stroke="#000" stroke-width="2.7" />
<line x1="388.50" y1="867.30" x2="388.50" y2="879.30" stroke="#000" stroke-width="2.7" />
<line x1="388.50" y1="1472.50" x2="388.50" y2="1460.50" stroke="#000" stroke-width="2.7" />
<line x1="470.60" y1="867.30" x2="470.60" y2="873.90" stroke="#000" stroke-width="2.7" />
<line x1="470.60" y1="1472.50" x2="470.60" y2="1465.90" stroke="#000" stroke-width="2.7" />
<line x1="552.70" y1="867.30" x2="552.70" y2="879.30" stroke="#000" stroke-width="2.7" />
<line x1="552.70" y1="1472.50" x2="552.70" y2="1460.50" stroke="#000" stroke-width="2.7" />
<line x1="634.80" y1="867.30" x2="634.80" y2="873.90" stroke="#000" stroke-width="2.7" />
<line x1="634.80" y1="1472.50" x2="634.80" y2="1465.90" stroke="#000" stroke-width="2.7" />
<line x1="716.90" y1="867.30" x2="716.90" y2="879.30" stroke="#000" stroke-width="2.7" />
<line x1="716.90" y1="1472.50" x2="716.90" y2="1460.50" stroke="#000" stroke-width="2.7" />
<line x1="799.00" y1="867.30" x2="799.00" y2="873.90" stroke="#000" stroke-width="2.7" />
<line x1="799.00" y1="1472.50" x2="799.00" y2="1465.90" stroke="#000" stroke-width="2.7" />
<line x1="881.10" y1="867.30" x2="881.10" y2="879.30" stroke="#000" stroke-width="2.7" />
<line x1="881.10" y1="1472.50" x2="881.10" y2="1460.50" stroke="#000" stroke-width="2.7" />
<line x1="169.70" y1="1411.98" x2="181.70" y2="1411.98" stroke="#000" stroke-width="2.7" />
<line x1="935.70" y1="1411.98" x2="923.70" y2="1411.98" stroke="#000" stroke-width="2.7" />
<line x1="169.70" y1="1351.46" x2="176.30" y2="1351.46" stroke="#000" stroke-width="2.7" />
<line x1="935.70" y1="1351.46" x2="929.10" y2="1351.46" stroke="#000" stroke-width="2.7" />
<line x1="169.70" y1="1290.94" x2="181.70" y2="1290.94" stroke="#000" stroke-width="2.7" />
<line x1="935.70" y1="1290.94" x2="923.70" y2="1290.94" stroke="#000" stroke-width="2.7" />
<line x1="169.70" y1="1230.42" x2="176.30" y2="1230.42" stroke="#000" stroke-width="2.7" />
<line x1="935.70" y1="1230.42" x2="929.10" y2="1230.42" stroke="#000" stroke-width="2.7" />
<line x1="169.70" y1="1169.90" x2="181.70" y2="1169.90" stroke="#000" stroke-width="2.7" />
<line x1="935.70" y1="1169.90" x2="923.70" y2="1169.90" stroke="#000" stroke-width="2.7" />
<line x1="169.70" y1="1109.38" x2="176.30" y2="1109.38" stroke="#000" stroke-width="2.7" />
<line x1="935.70" y1="1109.38" x2="929.10" y2="1109.38" stroke="#000" stroke-width="2.7" />
<line x1="169.70" y1="1048.86" x2="181.70" y2="1048.86" stroke="#000" stroke-width="2.7" />
<line x1="935.70" y1="1048.86" x2="923.70" y2="1048.86" stroke="#000" stroke-width="2.7" />
<line x1="169.70" y1="988.34" x2="176.30" y2="988.34" stroke="#000" stroke-width="2.7" />
<line x1="935.70" y1="988.34" x2="929.10" y2="988.34" stroke="#000" stroke-width="2.7" />
<line x1="169.70" y1="927.82" x2="181.70" y2="927.82" stroke="#000" stroke-width="2.7" />
<line x1="935.70" y1="927.82" x2="923.70" y2="927.82" stroke="#000" stroke-width="2.7" />
<polyline points="224.30,983.70 388.50,916.60 552.70,897.60 881.10,919.10" fill="none" stroke="#0000ff" stroke-width="5.0" stroke-linejoin="round"/>
<path d="M224.30 966.90 L238.10 992.10 L210.50 992.10 Z" fill="#0000ff" stroke="#0000ff" stroke-width="1.2" stroke-linejoin="round"/>
<path d="M388.50 899.80 L402.30 925.00 L374.70 925.00 Z" fill="#0000ff" stroke="#0000ff" stroke-width="1.2" stroke-linejoin="round"/>
<path d="M552.70 880.80 L566.50 906.00 L538.90 906.00 Z" fill="#0000ff" stroke="#0000ff" stroke-width="1.2" stroke-linejoin="round"/>
<path d="M881.10 902.30 L894.90 927.50 L867.30 927.50 Z" fill="#0000ff" stroke="#0000ff" stroke-width="1.2" stroke-linejoin="round"/>
<line x1="236.33" y1="1405.46" x2="376.17" y2="1263.14" stroke="#ff0000" stroke-width="4.2" stroke-dasharray="18.1 25.5" stroke-linecap="round"/>
<line x1="402.17" y1="1240.47" x2="538.63" y2="1138.83" stroke="#ff0000" stroke-width="4.2" stroke-dasharray="18.1 25.5" stroke-linecap="round"/>
<line x1="568.70" y1="1122.42" x2="864.90" y2="1011.18" stroke="#ff0000" stroke-width="4.2" stroke-dasharray="18.1 25.5" stroke-linecap="round"/>
<ellipse cx="224.20" cy="1417.80" rx="9.0" ry="9.6" fill="#fff" stroke="#ff0000" stroke-width="6.6"/>
<ellipse cx="388.30" cy="1250.80" rx="9.0" ry="9.6" fill="#fff" stroke="#ff0000" stroke-width="6.6"/>
<ellipse cx="552.50" cy="1128.50" rx="9.0" ry="9.6" fill="#fff" stroke="#ff0000" stroke-width="6.6"/>
<ellipse cx="881.10" cy="1005.10" rx="9.0" ry="9.6" fill="#fff" stroke="#ff0000" stroke-width="6.6"/>
<text xml:space="preserve" transform="translate(-0.43,844.00) scale(1.0124,1)" font-size="34.00" fill="#000" stroke="#000" stroke-width="0.5" stroke-linejoin="round"><tspan class="r">(b)</tspan></text>
<text xml:space="preserve" transform="translate(78.39,940.02) scale(0.8856,1)" font-size="40.20" fill="#000" stroke="#000" stroke-width="0.5" stroke-linejoin="round"><tspan class="r">1220</tspan></text>
<text xml:space="preserve" transform="translate(78.39,1061.06) scale(0.8856,1)" font-size="40.20" fill="#000" stroke="#000" stroke-width="0.5" stroke-linejoin="round"><tspan class="r">1200</tspan></text>
<text xml:space="preserve" transform="translate(78.39,1182.10) scale(0.8856,1)" font-size="40.20" fill="#000" stroke="#000" stroke-width="0.5" stroke-linejoin="round"><tspan class="r">1180</tspan></text>
<text xml:space="preserve" transform="translate(78.39,1303.14) scale(0.8856,1)" font-size="40.20" fill="#000" stroke="#000" stroke-width="0.5" stroke-linejoin="round"><tspan class="r">1160</tspan></text>
<text xml:space="preserve" transform="translate(78.39,1424.18) scale(0.8856,1)" font-size="40.20" fill="#000" stroke="#000" stroke-width="0.5" stroke-linejoin="round"><tspan class="r">1140</tspan></text>
<text xml:space="preserve" transform="translate(61.00,1353.84) rotate(-90) scale(0.9752,1)" font-size="55.20" fill="#000" stroke="#000" stroke-width="0.5" stroke-linejoin="round"><tspan class="r">Wavelength </tspan><tspan class="b">(</tspan><tspan class="r">nm</tspan><tspan class="b" font-size="49.68">)</tspan></text>
<text xml:space="preserve" transform="translate(344.33,990.50) scale(0.9724,1)" font-size="52.30" fill="#1220ff"><tspan class="b">As</tspan><tspan class="b" font-size="35.56" dy="11.40">4</tspan><tspan class="b" dy="-11.40">-QDs</tspan></text>
<text xml:space="preserve" transform="translate(344.33,1355.60) scale(0.9724,1)" font-size="52.30" fill="#ff0000"><tspan class="b">As</tspan><tspan class="b" font-size="35.56" dy="11.60">2</tspan><tspan class="b" dy="-11.60">-QDs</tspan></text>
<text xml:space="preserve" transform="translate(212.70,1520.10) scale(0.9319,1)" font-size="44.00" fill="#000" stroke="#000" stroke-width="0.5" stroke-linejoin="round"><tspan class="r">0</tspan></text>
<text xml:space="preserve" transform="translate(366.57,1520.10) scale(0.9053,1)" font-size="44.00" fill="#000" stroke="#000" stroke-width="0.5" stroke-linejoin="round"><tspan class="r">15</tspan></text>
<text xml:space="preserve" transform="translate(530.05,1520.10) scale(0.9265,1)" font-size="44.00" fill="#000" stroke="#000" stroke-width="0.5" stroke-linejoin="round"><tspan class="r">30</tspan></text>
<text xml:space="preserve" transform="translate(693.67,1520.10) scale(0.9179,1)" font-size="44.00" fill="#000" stroke="#000" stroke-width="0.5" stroke-linejoin="round"><tspan class="r">45</tspan></text>
<text xml:space="preserve" transform="translate(858.00,1520.10) scale(0.9402,1)" font-size="44.00" fill="#000" stroke="#000" stroke-width="0.5" stroke-linejoin="round"><tspan class="r">60</tspan></text>
<text xml:space="preserve" transform="translate(246.56,1579.60) scale(0.9400,1)" font-size="53.80" fill="#000" stroke="#000" stroke-width="0.5" stroke-linejoin="round"><tspan class="r">Growth interruption time </tspan><tspan class="b">(</tspan><tspan class="r">s</tspan><tspan class="b">)</tspan></text>
<rect x="168.5" y="1605.0" width="766.30" height="605.20" fill="none" stroke="#000" stroke-width="2.6"/>
<line x1="223.00" y1="1605.00" x2="223.00" y2="1617.00" stroke="#000" stroke-width="2.5" />
<line x1="223.00" y1="2210.20" x2="223.00" y2="2198.20" stroke="#000" stroke-width="2.5" />
<line x1="305.11" y1="1605.00" x2="305.11" y2="1611.60" stroke="#000" stroke-width="2.5" />
<line x1="305.11" y1="2210.20" x2="305.11" y2="2203.60" stroke="#000" stroke-width="2.5" />
<line x1="387.23" y1="1605.00" x2="387.23" y2="1617.00" stroke="#000" stroke-width="2.5" />
<line x1="387.23" y1="2210.20" x2="387.23" y2="2198.20" stroke="#000" stroke-width="2.5" />
<line x1="469.34" y1="1605.00" x2="469.34" y2="1611.60" stroke="#000" stroke-width="2.5" />
<line x1="469.34" y1="2210.20" x2="469.34" y2="2203.60" stroke="#000" stroke-width="2.5" />
<line x1="551.45" y1="1605.00" x2="551.45" y2="1617.00" stroke="#000" stroke-width="2.5" />
<line x1="551.45" y1="2210.20" x2="551.45" y2="2198.20" stroke="#000" stroke-width="2.5" />
<line x1="633.56" y1="1605.00" x2="633.56" y2="1611.60" stroke="#000" stroke-width="2.5" />
<line x1="633.56" y1="2210.20" x2="633.56" y2="2203.60" stroke="#000" stroke-width="2.5" />
<line x1="715.67" y1="1605.00" x2="715.67" y2="1617.00" stroke="#000" stroke-width="2.5" />
<line x1="715.67" y1="2210.20" x2="715.67" y2="2198.20" stroke="#000" stroke-width="2.5" />
<line x1="797.79" y1="1605.00" x2="797.79" y2="1611.60" stroke="#000" stroke-width="2.5" />
<line x1="797.79" y1="2210.20" x2="797.79" y2="2203.60" stroke="#000" stroke-width="2.5" />
<line x1="879.90" y1="1605.00" x2="879.90" y2="1617.00" stroke="#000" stroke-width="2.5" />
<line x1="879.90" y1="2210.20" x2="879.90" y2="2198.20" stroke="#000" stroke-width="2.5" />
<line x1="168.50" y1="2155.10" x2="180.50" y2="2155.10" stroke="#000" stroke-width="2.5" />
<line x1="934.80" y1="2155.10" x2="922.80" y2="2155.10" stroke="#000" stroke-width="2.5" />
<line x1="168.50" y1="2100.00" x2="175.10" y2="2100.00" stroke="#000" stroke-width="2.5" />
<line x1="934.80" y1="2100.00" x2="928.20" y2="2100.00" stroke="#000" stroke-width="2.5" />
<line x1="168.50" y1="2044.90" x2="180.50" y2="2044.90" stroke="#000" stroke-width="2.5" />
<line x1="934.80" y1="2044.90" x2="922.80" y2="2044.90" stroke="#000" stroke-width="2.5" />
<line x1="168.50" y1="1989.80" x2="175.10" y2="1989.80" stroke="#000" stroke-width="2.5" />
<line x1="934.80" y1="1989.80" x2="928.20" y2="1989.80" stroke="#000" stroke-width="2.5" />
<line x1="168.50" y1="1934.70" x2="180.50" y2="1934.70" stroke="#000" stroke-width="2.5" />
<line x1="934.80" y1="1934.70" x2="922.80" y2="1934.70" stroke="#000" stroke-width="2.5" />
<line x1="168.50" y1="1879.60" x2="175.10" y2="1879.60" stroke="#000" stroke-width="2.5" />
<line x1="934.80" y1="1879.60" x2="928.20" y2="1879.60" stroke="#000" stroke-width="2.5" />
<line x1="168.50" y1="1824.50" x2="180.50" y2="1824.50" stroke="#000" stroke-width="2.5" />
<line x1="934.80" y1="1824.50" x2="922.80" y2="1824.50" stroke="#000" stroke-width="2.5" />
<line x1="168.50" y1="1769.40" x2="175.10" y2="1769.40" stroke="#000" stroke-width="2.5" />
<line x1="934.80" y1="1769.40" x2="928.20" y2="1769.40" stroke="#000" stroke-width="2.5" />
<line x1="168.50" y1="1714.30" x2="180.50" y2="1714.30" stroke="#000" stroke-width="2.5" />
<line x1="934.80" y1="1714.30" x2="922.80" y2="1714.30" stroke="#000" stroke-width="2.5" />
<line x1="168.50" y1="1659.20" x2="175.10" y2="1659.20" stroke="#000" stroke-width="2.5" />
<line x1="934.80" y1="1659.20" x2="928.20" y2="1659.20" stroke="#000" stroke-width="2.5" />
<polyline points="223.00,1952.70 387.23,1974.40 551.45,1838.10 879.90,1962.40" fill="none" stroke="#0000ff" stroke-width="5.6" stroke-linejoin="round"/>
<path d="M223.00 1932.57 L239.40 1962.77 L206.60 1962.77 Z" fill="#0000ff" stroke="#0000ff" stroke-width="1.2" stroke-linejoin="round"/>
<path d="M387.23 1954.27 L403.62 1984.47 L370.83 1984.47 Z" fill="#0000ff" stroke="#0000ff" stroke-width="1.2" stroke-linejoin="round"/>
<path d="M551.45 1817.97 L567.85 1848.17 L535.05 1848.17 Z" fill="#0000ff" stroke="#0000ff" stroke-width="1.2" stroke-linejoin="round"/>
<path d="M879.90 1942.27 L896.30 1972.47 L863.50 1972.47 Z" fill="#0000ff" stroke="#0000ff" stroke-width="1.2" stroke-linejoin="round"/>
<polyline points="223.10,1952.10 387.10,1889.50 550.60,1910.20 879.50,1892.60" fill="none" stroke="#ff0000" stroke-width="4.9" stroke-dasharray="18 25.4" stroke-linecap="round" stroke-linejoin="round"/>
<ellipse cx="223.10" cy="1952.10" rx="10.6" ry="11.4" fill="#fff" stroke="#ff0000" stroke-width="7.25"/>
<ellipse cx="387.10" cy="1889.50" rx="10.6" ry="11.4" fill="#fff" stroke="#ff0000" stroke-width="7.25"/>
<ellipse cx="550.60" cy="1910.20" rx="10.6" ry="11.4" fill="#fff" stroke="#ff0000" stroke-width="7.25"/>
<ellipse cx="879.50" cy="1892.60" rx="10.6" ry="11.4" fill="#fff" stroke="#ff0000" stroke-width="7.25"/>
<text xml:space="preserve" transform="translate(0.52,1582.20) scale(0.9851,1)" font-size="34.00" fill="#000" stroke="#000" stroke-width="0.5" stroke-linejoin="round"><tspan class="r">(c)</tspan></text>
<text xml:space="preserve" transform="translate(115.80,2209.15) rotate(-90) scale(0.9997,1)" font-size="43.90" fill="#000" stroke="#000" stroke-width="0.5" stroke-linejoin="round"><tspan class="r">Integrated PL intensity (arb. u.)</tspan></text>
<text xml:space="preserve" transform="translate(198.73,1850.60) scale(0.9729,1)" font-size="52.30" fill="#ff0000"><tspan class="b">As</tspan><tspan class="b" font-size="35.56" dy="11.60">2</tspan><tspan class="b" dy="-11.60">-QDs</tspan></text>
<text xml:space="preserve" transform="translate(198.73,2053.90) scale(0.9729,1)" font-size="52.30" fill="#1220ff"><tspan class="b">As</tspan><tspan class="b" font-size="35.56" dy="11.60">4</tspan><tspan class="b" dy="-11.60">-QDs</tspan></text>
<text xml:space="preserve" transform="translate(212.36,2255.80) scale(0.9459,1)" font-size="41.80" fill="#000" stroke="#000" stroke-width="0.5" stroke-linejoin="round"><tspan class="r">0</tspan></text>
<text xml:space="preserve" transform="translate(366.27,2255.80) scale(0.9193,1)" font-size="41.80" fill="#000" stroke="#000" stroke-width="0.5" stroke-linejoin="round"><tspan class="r">15</tspan></text>
<text xml:space="preserve" transform="translate(530.13,2255.80) scale(0.9244,1)" font-size="41.80" fill="#000" stroke="#000" stroke-width="0.5" stroke-linejoin="round"><tspan class="r">30</tspan></text>
<text xml:space="preserve" transform="translate(693.71,2255.80) scale(0.9297,1)" font-size="41.80" fill="#000" stroke="#000" stroke-width="0.5" stroke-linejoin="round"><tspan class="r">45</tspan></text>
<text xml:space="preserve" transform="translate(857.69,2255.80) scale(0.9476,1)" font-size="41.80" fill="#000" stroke="#000" stroke-width="0.5" stroke-linejoin="round"><tspan class="r">60</tspan></text>
<text xml:space="preserve" transform="translate(252.91,2318.80) scale(0.9285,1)" font-size="53.30" fill="#000" stroke="#000" stroke-width="0.5" stroke-linejoin="round"><tspan class="r">Growth interruption time (s)</tspan></text>
</svg>
</body></html>
